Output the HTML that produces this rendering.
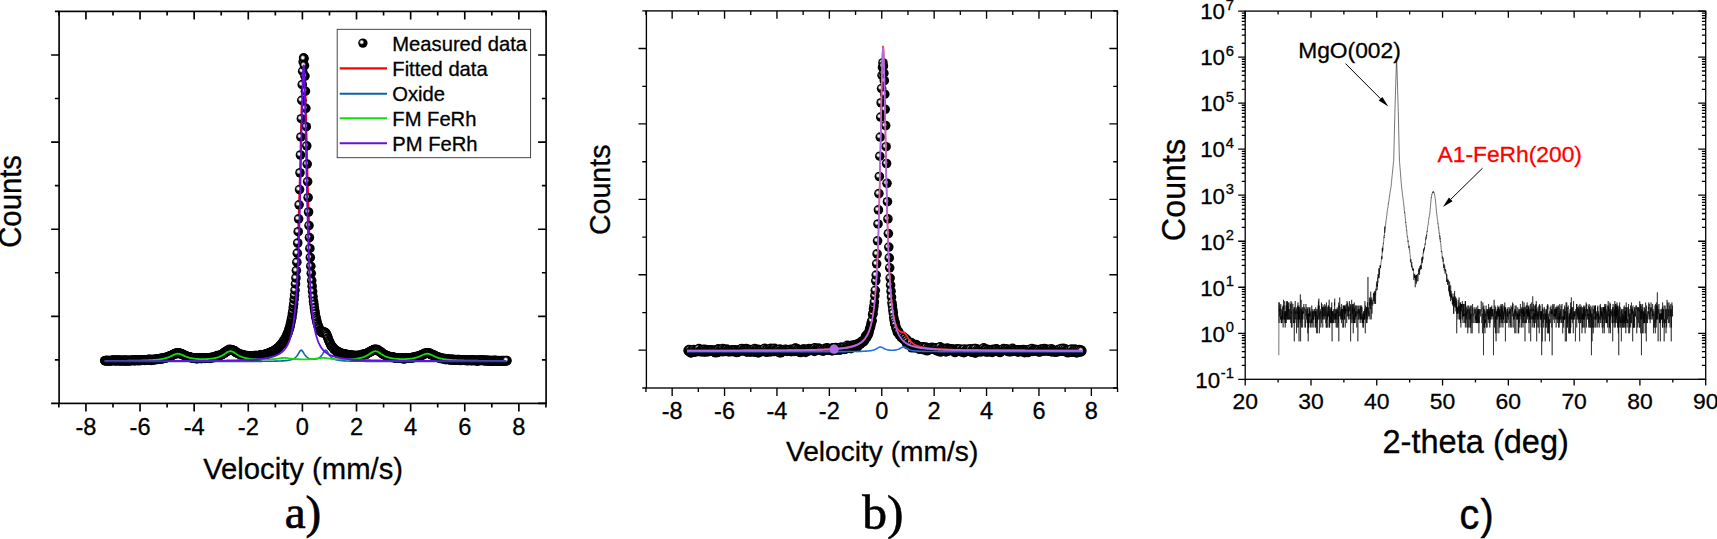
<!DOCTYPE html>
<html lang="en"><head><meta charset="utf-8"><title>Figure</title><style>html,body{margin:0;padding:0;background:#fff}svg{display:block}text{stroke:#000;stroke-width:.3px}text.r{stroke:#f00}</style></head><body>
<svg width="1717" height="539" viewBox="0 0 1717 539" font-family='"Liberation Sans", Arial, Helvetica, sans-serif' fill="#000">
<defs><radialGradient id="ball" cx="0.37" cy="0.40" r="0.275"><stop offset="0" stop-color="#fff"/><stop offset="0.38" stop-color="#efefef"/><stop offset="0.72" stop-color="#6e6e6e"/><stop offset="1" stop-color="#000"/></radialGradient></defs>
<rect width="1717" height="539" fill="#fff"/>
<path d="M104.7 360.73 L105.2 360.73 L105.7 360.73 L106.2 360.72 L106.7 360.72 L107.2 360.72 L107.7 360.71 L108.2 360.71 L108.7 360.71 L109.2 360.7 L109.7 360.7 L110.2 360.69 L110.7 360.69 L111.2 360.69 L111.7 360.68 L112.2 360.68 L112.7 360.67 L113.2 360.67 L113.7 360.66 L114.2 360.66 L114.7 360.66 L115.2 360.65 L115.7 360.65 L116.2 360.64 L116.7 360.64 L117.2 360.63 L117.7 360.63 L118.2 360.62 L118.7 360.62 L119.2 360.61 L119.7 360.61 L120.2 360.6 L120.7 360.59 L121.2 360.59 L121.7 360.58 L122.2 360.58 L122.7 360.57 L123.2 360.56 L123.7 360.56 L124.2 360.55 L124.7 360.55 L125.2 360.54 L125.7 360.53 L126.2 360.53 L126.7 360.52 L127.2 360.51 L127.7 360.5 L128.2 360.5 L128.7 360.49 L129.2 360.48 L129.7 360.47 L130.2 360.46 L130.7 360.46 L131.2 360.45 L131.7 360.44 L132.2 360.43 L132.7 360.42 L133.2 360.41 L133.7 360.4 L134.2 360.39 L134.7 360.38 L135.2 360.37 L135.7 360.36 L136.2 360.35 L136.7 360.34 L137.2 360.33 L137.7 360.31 L138.2 360.3 L138.7 360.29 L139.2 360.28 L139.7 360.26 L140.2 360.25 L140.7 360.23 L141.2 360.22 L141.7 360.2 L142.2 360.19 L142.7 360.17 L143.2 360.16 L143.7 360.14 L144.2 360.12 L144.7 360.1 L145.2 360.08 L145.7 360.06 L146.2 360.04 L146.7 360.02 L147.2 360 L147.7 359.98 L148.2 359.95 L148.7 359.93 L149.2 359.9 L149.7 359.87 L150.2 359.85 L150.7 359.82 L151.2 359.79 L151.7 359.76 L152.2 359.72 L152.7 359.69 L153.2 359.65 L153.7 359.61 L154.2 359.57 L154.7 359.53 L155.2 359.49 L155.7 359.44 L156.2 359.4 L156.7 359.34 L157.2 359.29 L157.7 359.24 L158.2 359.18 L158.7 359.11 L159.2 359.05 L159.7 358.98 L160.2 358.91 L160.7 358.83 L161.2 358.75 L161.7 358.66 L162.2 358.57 L162.7 358.47 L163.2 358.37 L163.7 358.26 L164.2 358.14 L164.7 358.02 L165.2 357.89 L165.7 357.75 L166.2 357.6 L166.7 357.44 L167.2 357.28 L167.7 357.1 L168.2 356.92 L168.7 356.72 L169.2 356.52 L169.7 356.31 L170.2 356.08 L170.7 355.85 L171.2 355.61 L171.7 355.37 L172.2 355.12 L172.7 354.88 L173.2 354.63 L173.7 354.39 L174.2 354.16 L174.7 353.95 L175.2 353.75 L175.7 353.58 L176.2 353.44 L176.7 353.33 L177.2 353.25 L177.7 353.22 L178.2 353.22 L178.7 353.26 L179.2 353.33 L179.7 353.44 L180.2 353.58 L180.7 353.75 L181.2 353.93 L181.7 354.14 L182.2 354.35 L182.7 354.57 L183.2 354.8 L183.7 355.03 L184.2 355.25 L184.7 355.47 L185.2 355.68 L185.7 355.89 L186.2 356.08 L186.7 356.27 L187.2 356.44 L187.7 356.61 L188.2 356.76 L188.7 356.91 L189.2 357.05 L189.7 357.17 L190.2 357.29 L190.7 357.4 L191.2 357.5 L191.7 357.6 L192.2 357.68 L192.7 357.76 L193.2 357.84 L193.7 357.9 L194.2 357.96 L194.7 358.02 L195.2 358.07 L195.7 358.12 L196.2 358.16 L196.7 358.19 L197.2 358.22 L197.7 358.25 L198.2 358.28 L198.7 358.3 L199.2 358.31 L199.7 358.33 L200.2 358.34 L200.7 358.34 L201.2 358.35 L201.7 358.35 L202.2 358.34 L202.7 358.34 L203.2 358.33 L203.7 358.31 L204.2 358.3 L204.7 358.28 L205.2 358.26 L205.7 358.23 L206.2 358.21 L206.7 358.18 L207.2 358.14 L207.7 358.1 L208.2 358.06 L208.7 358.01 L209.2 357.97 L209.7 357.91 L210.2 357.85 L210.7 357.79 L211.2 357.72 L211.7 357.65 L212.2 357.57 L212.7 357.49 L213.2 357.4 L213.7 357.31 L214.2 357.2 L214.7 357.09 L215.2 356.98 L215.7 356.85 L216.2 356.72 L216.7 356.57 L217.2 356.42 L217.7 356.26 L218.2 356.08 L218.7 355.89 L219.2 355.7 L219.7 355.48 L220.2 355.26 L220.7 355.01 L221.2 354.76 L221.7 354.49 L222.2 354.2 L222.7 353.9 L223.2 353.59 L223.7 353.27 L224.2 352.93 L224.7 352.59 L225.2 352.24 L225.7 351.89 L226.2 351.54 L226.7 351.21 L227.2 350.89 L227.7 350.6 L228.2 350.34 L228.7 350.12 L229.2 349.94 L229.7 349.81 L230.2 349.74 L230.7 349.73 L231.2 349.77 L231.7 349.87 L232.2 350.01 L232.7 350.2 L233.2 350.43 L233.7 350.69 L234.2 350.97 L234.7 351.27 L235.2 351.57 L235.7 351.88 L236.2 352.19 L236.7 352.49 L237.2 352.79 L237.7 353.07 L238.2 353.34 L238.7 353.59 L239.2 353.83 L239.7 354.06 L240.2 354.27 L240.7 354.46 L241.2 354.64 L241.7 354.81 L242.2 354.96 L242.7 355.1 L243.2 355.23 L243.7 355.35 L244.2 355.46 L244.7 355.55 L245.2 355.64 L245.7 355.71 L246.2 355.78 L246.7 355.84 L247.2 355.9 L247.7 355.94 L248.2 355.98 L248.7 356.01 L249.2 356.04 L249.7 356.06 L250.2 356.07 L250.7 356.08 L251.2 356.08 L251.7 356.08 L252.2 356.08 L252.7 356.07 L253.2 356.05 L253.7 356.03 L254.2 356.01 L254.7 355.98 L255.2 355.94 L255.7 355.91 L256.2 355.87 L256.7 355.82 L257.2 355.77 L257.7 355.72 L258.2 355.66 L258.7 355.6 L259.2 355.53 L259.7 355.46 L260.2 355.39 L260.7 355.31 L261.2 355.23 L261.7 355.14 L262.2 355.05 L262.7 354.95 L263.2 354.85 L263.7 354.74 L264.2 354.63 L264.7 354.51 L265.2 354.38 L265.7 354.25 L266.2 354.12 L266.7 353.97 L267.2 353.82 L267.7 353.66 L268.2 353.5 L268.7 353.33 L269.2 353.14 L269.7 352.95 L270.2 352.75 L270.7 352.54 L271.2 352.32 L271.7 352.09 L272.2 351.85 L272.7 351.59 L273.2 351.32 L273.7 351.04 L274.2 350.74 L274.7 350.43 L275.2 350.1 L275.7 349.76 L276.2 349.39 L276.7 349.01 L277.2 348.61 L277.7 348.19 L278.2 347.74 L278.7 347.28 L279.2 346.79 L279.7 346.28 L280.2 345.74 L280.7 345.18 L281.2 344.59 L281.7 343.98 L282.2 343.34 L282.7 342.67 L283.2 341.96 L283.7 341.22 L284.2 340.45 L284.7 339.63 L285.2 338.76 L285.7 337.83 L286.2 336.84 L286.7 335.77 L287.2 334.62 L287.7 333.37 L288.2 332.02 L288.7 330.54 L289.2 328.91 L289.7 327.13 L290.2 325.17 L290.7 323.01 L291.2 320.61 L291.7 317.96 L292.2 315 L292.7 311.71 L293.2 308.02 L293.7 303.89 L294.2 299.25 L294.7 294.02 L295.2 288.11 L295.7 281.42 L296.2 273.83 L296.7 265.21 L297.2 255.41 L297.7 244.3 L298.2 231.71 L298.7 217.53 L299.2 201.69 L299.7 184.21 L300.2 165.25 L300.7 145.18 L301.2 124.63 L301.7 104.57 L302.2 86.3 L302.7 71.36 L303.2 61.33 L303.7 57.46 L304.2 60.31 L304.7 69.57 L305.2 84.13 L305.7 102.41 L306.2 122.73 L306.7 143.65 L307.2 164.07 L307.7 183.29 L308.2 200.93 L308.7 216.85 L309.2 231.04 L309.7 243.6 L310.2 254.67 L310.7 264.41 L311.2 272.97 L311.7 280.49 L312.2 287.11 L312.7 292.95 L313.2 298.1 L313.7 302.66 L314.2 306.7 L314.7 310.28 L315.2 313.45 L315.7 316.28 L316.2 318.79 L316.7 321.02 L317.2 322.99 L317.7 324.74 L318.2 326.27 L318.7 327.61 L319.2 328.77 L319.7 329.75 L320.2 330.57 L320.7 331.23 L321.2 331.73 L321.7 332.09 L322.2 332.3 L322.7 332.39 L323.2 332.38 L323.7 332.32 L324.2 332.28 L324.7 332.34 L325.2 332.58 L325.7 333.07 L326.2 333.85 L326.7 334.87 L327.2 336.09 L327.7 337.42 L328.2 338.77 L328.7 340.1 L329.2 341.36 L329.7 342.52 L330.2 343.59 L330.7 344.56 L331.2 345.44 L331.7 346.23 L332.2 346.95 L332.7 347.6 L333.2 348.2 L333.7 348.74 L334.2 349.23 L334.7 349.69 L335.2 350.11 L335.7 350.5 L336.2 350.86 L336.7 351.19 L337.2 351.51 L337.7 351.8 L338.2 352.07 L338.7 352.32 L339.2 352.56 L339.7 352.79 L340.2 353 L340.7 353.2 L341.2 353.38 L341.7 353.56 L342.2 353.73 L342.7 353.89 L343.2 354.03 L343.7 354.17 L344.2 354.31 L344.7 354.43 L345.2 354.55 L345.7 354.66 L346.2 354.77 L346.7 354.87 L347.2 354.96 L347.7 355.05 L348.2 355.13 L348.7 355.2 L349.2 355.27 L349.7 355.34 L350.2 355.4 L350.7 355.45 L351.2 355.5 L351.7 355.55 L352.2 355.59 L352.7 355.62 L353.2 355.65 L353.7 355.67 L354.2 355.69 L354.7 355.71 L355.2 355.71 L355.7 355.71 L356.2 355.71 L356.7 355.7 L357.2 355.68 L357.7 355.66 L358.2 355.63 L358.7 355.59 L359.2 355.54 L359.7 355.49 L360.2 355.43 L360.7 355.36 L361.2 355.28 L361.7 355.19 L362.2 355.08 L362.7 354.97 L363.2 354.85 L363.7 354.71 L364.2 354.56 L364.7 354.4 L365.2 354.22 L365.7 354.02 L366.2 353.82 L366.7 353.59 L367.2 353.35 L367.7 353.1 L368.2 352.83 L368.7 352.55 L369.2 352.26 L369.7 351.96 L370.2 351.66 L370.7 351.35 L371.2 351.05 L371.7 350.76 L372.2 350.49 L372.7 350.24 L373.2 350.02 L373.7 349.84 L374.2 349.71 L374.7 349.62 L375.2 349.59 L375.7 349.62 L376.2 349.71 L376.7 349.85 L377.2 350.03 L377.7 350.27 L378.2 350.54 L378.7 350.84 L379.2 351.16 L379.7 351.5 L380.2 351.85 L380.7 352.2 L381.2 352.55 L381.7 352.89 L382.2 353.23 L382.7 353.55 L383.2 353.86 L383.7 354.16 L384.2 354.45 L384.7 354.71 L385.2 354.97 L385.7 355.21 L386.2 355.43 L386.7 355.64 L387.2 355.84 L387.7 356.03 L388.2 356.2 L388.7 356.36 L389.2 356.52 L389.7 356.66 L390.2 356.79 L390.7 356.92 L391.2 357.03 L391.7 357.14 L392.2 357.24 L392.7 357.34 L393.2 357.43 L393.7 357.51 L394.2 357.58 L394.7 357.66 L395.2 357.72 L395.7 357.78 L396.2 357.84 L396.7 357.89 L397.2 357.94 L397.7 357.99 L398.2 358.03 L398.7 358.06 L399.2 358.1 L399.7 358.13 L400.2 358.15 L400.7 358.18 L401.2 358.2 L401.7 358.21 L402.2 358.23 L402.7 358.24 L403.2 358.25 L403.7 358.25 L404.2 358.25 L404.7 358.25 L405.2 358.24 L405.7 358.23 L406.2 358.22 L406.7 358.2 L407.2 358.18 L407.7 358.16 L408.2 358.13 L408.7 358.1 L409.2 358.06 L409.7 358.02 L410.2 357.97 L410.7 357.92 L411.2 357.86 L411.7 357.8 L412.2 357.73 L412.7 357.65 L413.2 357.57 L413.7 357.48 L414.2 357.38 L414.7 357.28 L415.2 357.16 L415.7 357.04 L416.2 356.91 L416.7 356.77 L417.2 356.62 L417.7 356.46 L418.2 356.29 L418.7 356.11 L419.2 355.91 L419.7 355.71 L420.2 355.51 L420.7 355.29 L421.2 355.07 L421.7 354.84 L422.2 354.62 L422.7 354.4 L423.2 354.18 L423.7 353.97 L424.2 353.78 L424.7 353.6 L425.2 353.45 L425.7 353.33 L426.2 353.24 L426.7 353.19 L427.2 353.17 L427.7 353.2 L428.2 353.26 L428.7 353.35 L429.2 353.48 L429.7 353.65 L430.2 353.83 L430.7 354.04 L431.2 354.26 L431.7 354.5 L432.2 354.74 L432.7 354.99 L433.2 355.24 L433.7 355.48 L434.2 355.73 L434.7 355.96 L435.2 356.19 L435.7 356.4 L436.2 356.61 L436.7 356.81 L437.2 357 L437.7 357.18 L438.2 357.35 L438.7 357.51 L439.2 357.66 L439.7 357.8 L440.2 357.94 L440.7 358.07 L441.2 358.19 L441.7 358.3 L442.2 358.4 L442.7 358.5 L443.2 358.6 L443.7 358.69 L444.2 358.77 L444.7 358.85 L445.2 358.93 L445.7 359 L446.2 359.07 L446.7 359.13 L447.2 359.19 L447.7 359.25 L448.2 359.3 L448.7 359.35 L449.2 359.4 L449.7 359.45 L450.2 359.49 L450.7 359.54 L451.2 359.58 L451.7 359.62 L452.2 359.65 L452.7 359.69 L453.2 359.72 L453.7 359.75 L454.2 359.79 L454.7 359.82 L455.2 359.84 L455.7 359.87 L456.2 359.9 L456.7 359.92 L457.2 359.95 L457.7 359.97 L458.2 359.99 L458.7 360.02 L459.2 360.04 L459.7 360.06 L460.2 360.08 L460.7 360.1 L461.2 360.11 L461.7 360.13 L462.2 360.15 L462.7 360.17 L463.2 360.18 L463.7 360.2 L464.2 360.21 L464.7 360.23 L465.2 360.24 L465.7 360.25 L466.2 360.27 L466.7 360.28 L467.2 360.29 L467.7 360.31 L468.2 360.32 L468.7 360.33 L469.2 360.34 L469.7 360.35 L470.2 360.36 L470.7 360.37 L471.2 360.38 L471.7 360.39 L472.2 360.4 L472.7 360.41 L473.2 360.42 L473.7 360.43 L474.2 360.44 L474.7 360.45 L475.2 360.46 L475.7 360.46 L476.2 360.47 L476.7 360.48 L477.2 360.49 L477.7 360.5 L478.2 360.5 L478.7 360.51 L479.2 360.52 L479.7 360.52 L480.2 360.53 L480.7 360.54 L481.2 360.54 L481.7 360.55 L482.2 360.56 L482.7 360.56 L483.2 360.57 L483.7 360.58 L484.2 360.58 L484.7 360.59 L485.2 360.59 L485.7 360.6 L486.2 360.6 L486.7 360.61 L487.2 360.61 L487.7 360.62 L488.2 360.62 L488.7 360.63 L489.2 360.63 L489.7 360.64 L490.2 360.64 L490.7 360.65 L491.2 360.65 L491.7 360.66 L492.2 360.66 L492.7 360.67 L493.2 360.67 L493.7 360.67 L494.2 360.68 L494.7 360.68 L495.2 360.69 L495.7 360.69 L496.2 360.69 L496.7 360.7 L497.2 360.7 L497.7 360.71 L498.2 360.71 L498.7 360.71 L499.2 360.72 L499.7 360.72 L500.2 360.72 L500.7 360.73 L501.2 360.73 L501.7 360.73 L502.2 360.74 L502.7 360.74 L503.2 360.74 L503.7 360.75 L504.2 360.75 L504.7 360.75 L505.2 360.76 L505.7 360.76 L506.2 360.76" fill="none" stroke="#ff0000" stroke-width="2"/>
<g>
<circle cx="104.7" cy="360.73" r="4.8" fill="url(#ball)"/><circle cx="105.15" cy="360.81" r="4.8" fill="url(#ball)"/><circle cx="105.6" cy="360.66" r="4.8" fill="url(#ball)"/><circle cx="106.05" cy="360.5" r="4.8" fill="url(#ball)"/><circle cx="106.5" cy="360.61" r="4.8" fill="url(#ball)"/><circle cx="106.95" cy="360.47" r="4.8" fill="url(#ball)"/><circle cx="107.4" cy="360.73" r="4.8" fill="url(#ball)"/><circle cx="107.85" cy="361.05" r="4.8" fill="url(#ball)"/><circle cx="108.3" cy="360.59" r="4.8" fill="url(#ball)"/><circle cx="108.75" cy="360.55" r="4.8" fill="url(#ball)"/><circle cx="109.2" cy="360.82" r="4.8" fill="url(#ball)"/><circle cx="109.65" cy="360.79" r="4.8" fill="url(#ball)"/><circle cx="110.1" cy="360.72" r="4.8" fill="url(#ball)"/><circle cx="110.55" cy="360.46" r="4.8" fill="url(#ball)"/><circle cx="111" cy="360.68" r="4.8" fill="url(#ball)"/><circle cx="111.45" cy="360.86" r="4.8" fill="url(#ball)"/><circle cx="111.9" cy="360.34" r="4.8" fill="url(#ball)"/><circle cx="112.35" cy="360.56" r="4.8" fill="url(#ball)"/><circle cx="112.8" cy="360.2" r="4.8" fill="url(#ball)"/><circle cx="113.25" cy="360.35" r="4.8" fill="url(#ball)"/><circle cx="113.7" cy="360.2" r="4.8" fill="url(#ball)"/><circle cx="114.15" cy="360.6" r="4.8" fill="url(#ball)"/><circle cx="114.6" cy="360.34" r="4.8" fill="url(#ball)"/><circle cx="115.05" cy="360.72" r="4.8" fill="url(#ball)"/><circle cx="115.5" cy="360.69" r="4.8" fill="url(#ball)"/><circle cx="115.95" cy="360.6" r="4.8" fill="url(#ball)"/><circle cx="116.4" cy="360.01" r="4.8" fill="url(#ball)"/><circle cx="116.85" cy="360.5" r="4.8" fill="url(#ball)"/><circle cx="117.3" cy="360.62" r="4.8" fill="url(#ball)"/><circle cx="117.75" cy="360.65" r="4.8" fill="url(#ball)"/><circle cx="118.2" cy="360.24" r="4.8" fill="url(#ball)"/><circle cx="118.65" cy="360.5" r="4.8" fill="url(#ball)"/><circle cx="119.1" cy="360.37" r="4.8" fill="url(#ball)"/><circle cx="119.55" cy="360.4" r="4.8" fill="url(#ball)"/><circle cx="120" cy="360.87" r="4.8" fill="url(#ball)"/><circle cx="120.45" cy="360.4" r="4.8" fill="url(#ball)"/><circle cx="120.9" cy="360.58" r="4.8" fill="url(#ball)"/><circle cx="121.35" cy="360.81" r="4.8" fill="url(#ball)"/><circle cx="121.8" cy="360.44" r="4.8" fill="url(#ball)"/><circle cx="122.25" cy="360.55" r="4.8" fill="url(#ball)"/><circle cx="122.7" cy="360.6" r="4.8" fill="url(#ball)"/><circle cx="123.15" cy="360.58" r="4.8" fill="url(#ball)"/><circle cx="123.6" cy="360.25" r="4.8" fill="url(#ball)"/><circle cx="124.05" cy="360.57" r="4.8" fill="url(#ball)"/><circle cx="124.5" cy="360.89" r="4.8" fill="url(#ball)"/><circle cx="124.95" cy="360.16" r="4.8" fill="url(#ball)"/><circle cx="125.4" cy="360.75" r="4.8" fill="url(#ball)"/><circle cx="125.85" cy="360.56" r="4.8" fill="url(#ball)"/><circle cx="126.3" cy="360.36" r="4.8" fill="url(#ball)"/><circle cx="126.75" cy="361.02" r="4.8" fill="url(#ball)"/><circle cx="127.2" cy="360.7" r="4.8" fill="url(#ball)"/><circle cx="127.65" cy="360.2" r="4.8" fill="url(#ball)"/><circle cx="128.1" cy="360.52" r="4.8" fill="url(#ball)"/><circle cx="128.55" cy="360.64" r="4.8" fill="url(#ball)"/><circle cx="129" cy="360.44" r="4.8" fill="url(#ball)"/><circle cx="129.45" cy="360.65" r="4.8" fill="url(#ball)"/><circle cx="129.9" cy="360.45" r="4.8" fill="url(#ball)"/><circle cx="130.35" cy="360.63" r="4.8" fill="url(#ball)"/><circle cx="130.8" cy="360.81" r="4.8" fill="url(#ball)"/><circle cx="131.25" cy="360.28" r="4.8" fill="url(#ball)"/><circle cx="131.7" cy="360.49" r="4.8" fill="url(#ball)"/><circle cx="132.15" cy="360.31" r="4.8" fill="url(#ball)"/><circle cx="132.6" cy="360.45" r="4.8" fill="url(#ball)"/><circle cx="133.05" cy="360.12" r="4.8" fill="url(#ball)"/><circle cx="133.5" cy="360.26" r="4.8" fill="url(#ball)"/><circle cx="133.95" cy="360.35" r="4.8" fill="url(#ball)"/><circle cx="134.4" cy="360.61" r="4.8" fill="url(#ball)"/><circle cx="134.85" cy="360.66" r="4.8" fill="url(#ball)"/><circle cx="135.3" cy="360.04" r="4.8" fill="url(#ball)"/><circle cx="135.75" cy="360.16" r="4.8" fill="url(#ball)"/><circle cx="136.2" cy="360.51" r="4.8" fill="url(#ball)"/><circle cx="136.65" cy="359.84" r="4.8" fill="url(#ball)"/><circle cx="137.1" cy="360.21" r="4.8" fill="url(#ball)"/><circle cx="137.55" cy="360.29" r="4.8" fill="url(#ball)"/><circle cx="138" cy="360.62" r="4.8" fill="url(#ball)"/><circle cx="138.45" cy="360.47" r="4.8" fill="url(#ball)"/><circle cx="138.9" cy="360.2" r="4.8" fill="url(#ball)"/><circle cx="139.35" cy="360.18" r="4.8" fill="url(#ball)"/><circle cx="139.8" cy="360.2" r="4.8" fill="url(#ball)"/><circle cx="140.25" cy="360.63" r="4.8" fill="url(#ball)"/><circle cx="140.7" cy="360.13" r="4.8" fill="url(#ball)"/><circle cx="141.15" cy="360.14" r="4.8" fill="url(#ball)"/><circle cx="141.6" cy="360.3" r="4.8" fill="url(#ball)"/><circle cx="142.05" cy="360.16" r="4.8" fill="url(#ball)"/><circle cx="142.5" cy="360.13" r="4.8" fill="url(#ball)"/><circle cx="142.95" cy="359.89" r="4.8" fill="url(#ball)"/><circle cx="143.4" cy="360.15" r="4.8" fill="url(#ball)"/><circle cx="143.85" cy="360.02" r="4.8" fill="url(#ball)"/><circle cx="144.3" cy="360.41" r="4.8" fill="url(#ball)"/><circle cx="144.75" cy="360.26" r="4.8" fill="url(#ball)"/><circle cx="145.2" cy="360.08" r="4.8" fill="url(#ball)"/><circle cx="145.65" cy="360.23" r="4.8" fill="url(#ball)"/><circle cx="146.1" cy="359.96" r="4.8" fill="url(#ball)"/><circle cx="146.55" cy="360.29" r="4.8" fill="url(#ball)"/><circle cx="147" cy="360.01" r="4.8" fill="url(#ball)"/><circle cx="147.45" cy="360.13" r="4.8" fill="url(#ball)"/><circle cx="147.9" cy="359.64" r="4.8" fill="url(#ball)"/><circle cx="148.35" cy="360.03" r="4.8" fill="url(#ball)"/><circle cx="148.8" cy="359.5" r="4.8" fill="url(#ball)"/><circle cx="149.25" cy="359.39" r="4.8" fill="url(#ball)"/><circle cx="149.7" cy="359.8" r="4.8" fill="url(#ball)"/><circle cx="150.15" cy="359.62" r="4.8" fill="url(#ball)"/><circle cx="150.6" cy="359.86" r="4.8" fill="url(#ball)"/><circle cx="151.05" cy="360.36" r="4.8" fill="url(#ball)"/><circle cx="151.5" cy="359.56" r="4.8" fill="url(#ball)"/><circle cx="151.95" cy="359.58" r="4.8" fill="url(#ball)"/><circle cx="152.4" cy="359.76" r="4.8" fill="url(#ball)"/><circle cx="152.85" cy="359.8" r="4.8" fill="url(#ball)"/><circle cx="153.3" cy="359.6" r="4.8" fill="url(#ball)"/><circle cx="153.75" cy="359.56" r="4.8" fill="url(#ball)"/><circle cx="154.2" cy="359.75" r="4.8" fill="url(#ball)"/><circle cx="154.65" cy="359.67" r="4.8" fill="url(#ball)"/><circle cx="155.1" cy="359.24" r="4.8" fill="url(#ball)"/><circle cx="155.55" cy="359.44" r="4.8" fill="url(#ball)"/><circle cx="156" cy="359.42" r="4.8" fill="url(#ball)"/><circle cx="156.45" cy="359.11" r="4.8" fill="url(#ball)"/><circle cx="156.9" cy="359.39" r="4.8" fill="url(#ball)"/><circle cx="157.35" cy="359.06" r="4.8" fill="url(#ball)"/><circle cx="157.8" cy="359.47" r="4.8" fill="url(#ball)"/><circle cx="158.25" cy="359.22" r="4.8" fill="url(#ball)"/><circle cx="158.7" cy="359.14" r="4.8" fill="url(#ball)"/><circle cx="159.15" cy="358.91" r="4.8" fill="url(#ball)"/><circle cx="159.6" cy="358.96" r="4.8" fill="url(#ball)"/><circle cx="160.05" cy="358.43" r="4.8" fill="url(#ball)"/><circle cx="160.5" cy="358.58" r="4.8" fill="url(#ball)"/><circle cx="160.95" cy="358.88" r="4.8" fill="url(#ball)"/><circle cx="161.4" cy="358.18" r="4.8" fill="url(#ball)"/><circle cx="161.85" cy="358.84" r="4.8" fill="url(#ball)"/><circle cx="162.3" cy="358.11" r="4.8" fill="url(#ball)"/><circle cx="162.75" cy="358.65" r="4.8" fill="url(#ball)"/><circle cx="163.2" cy="358.16" r="4.8" fill="url(#ball)"/><circle cx="163.65" cy="358.46" r="4.8" fill="url(#ball)"/><circle cx="164.1" cy="358.2" r="4.8" fill="url(#ball)"/><circle cx="164.55" cy="357.67" r="4.8" fill="url(#ball)"/><circle cx="165" cy="358.25" r="4.8" fill="url(#ball)"/><circle cx="165.45" cy="358.18" r="4.8" fill="url(#ball)"/><circle cx="165.9" cy="357.67" r="4.8" fill="url(#ball)"/><circle cx="166.35" cy="357.49" r="4.8" fill="url(#ball)"/><circle cx="166.8" cy="357.37" r="4.8" fill="url(#ball)"/><circle cx="167.25" cy="357.02" r="4.8" fill="url(#ball)"/><circle cx="167.7" cy="357.38" r="4.8" fill="url(#ball)"/><circle cx="168.15" cy="356.8" r="4.8" fill="url(#ball)"/><circle cx="168.6" cy="356.75" r="4.8" fill="url(#ball)"/><circle cx="169.05" cy="356.38" r="4.8" fill="url(#ball)"/><circle cx="169.5" cy="356.24" r="4.8" fill="url(#ball)"/><circle cx="169.95" cy="355.88" r="4.8" fill="url(#ball)"/><circle cx="170.4" cy="356.31" r="4.8" fill="url(#ball)"/><circle cx="170.85" cy="355.74" r="4.8" fill="url(#ball)"/><circle cx="171.3" cy="355.81" r="4.8" fill="url(#ball)"/><circle cx="171.75" cy="355.35" r="4.8" fill="url(#ball)"/><circle cx="172.2" cy="354.95" r="4.8" fill="url(#ball)"/><circle cx="172.65" cy="354.82" r="4.8" fill="url(#ball)"/><circle cx="173.1" cy="354.54" r="4.8" fill="url(#ball)"/><circle cx="173.55" cy="354.46" r="4.8" fill="url(#ball)"/><circle cx="174" cy="354.16" r="4.8" fill="url(#ball)"/><circle cx="174.45" cy="353.98" r="4.8" fill="url(#ball)"/><circle cx="174.9" cy="353.52" r="4.8" fill="url(#ball)"/><circle cx="175.35" cy="353.5" r="4.8" fill="url(#ball)"/><circle cx="175.8" cy="353.96" r="4.8" fill="url(#ball)"/><circle cx="176.25" cy="353.26" r="4.8" fill="url(#ball)"/><circle cx="176.7" cy="353.07" r="4.8" fill="url(#ball)"/><circle cx="177.15" cy="353.34" r="4.8" fill="url(#ball)"/><circle cx="177.6" cy="353.57" r="4.8" fill="url(#ball)"/><circle cx="178.05" cy="352.85" r="4.8" fill="url(#ball)"/><circle cx="178.5" cy="353.19" r="4.8" fill="url(#ball)"/><circle cx="178.95" cy="353.13" r="4.8" fill="url(#ball)"/><circle cx="179.4" cy="352.93" r="4.8" fill="url(#ball)"/><circle cx="179.85" cy="353.67" r="4.8" fill="url(#ball)"/><circle cx="180.3" cy="353.61" r="4.8" fill="url(#ball)"/><circle cx="180.75" cy="353.78" r="4.8" fill="url(#ball)"/><circle cx="181.2" cy="353.75" r="4.8" fill="url(#ball)"/><circle cx="181.65" cy="354.23" r="4.8" fill="url(#ball)"/><circle cx="182.1" cy="354.17" r="4.8" fill="url(#ball)"/><circle cx="182.55" cy="354.47" r="4.8" fill="url(#ball)"/><circle cx="183" cy="354.43" r="4.8" fill="url(#ball)"/><circle cx="183.45" cy="354.61" r="4.8" fill="url(#ball)"/><circle cx="183.9" cy="355.45" r="4.8" fill="url(#ball)"/><circle cx="184.35" cy="355.19" r="4.8" fill="url(#ball)"/><circle cx="184.8" cy="355.58" r="4.8" fill="url(#ball)"/><circle cx="185.25" cy="355.69" r="4.8" fill="url(#ball)"/><circle cx="185.7" cy="355.78" r="4.8" fill="url(#ball)"/><circle cx="186.15" cy="355.93" r="4.8" fill="url(#ball)"/><circle cx="186.6" cy="356.39" r="4.8" fill="url(#ball)"/><circle cx="187.05" cy="356.32" r="4.8" fill="url(#ball)"/><circle cx="187.5" cy="356.51" r="4.8" fill="url(#ball)"/><circle cx="187.95" cy="356.69" r="4.8" fill="url(#ball)"/><circle cx="188.4" cy="357.12" r="4.8" fill="url(#ball)"/><circle cx="188.85" cy="357.12" r="4.8" fill="url(#ball)"/><circle cx="189.3" cy="357.17" r="4.8" fill="url(#ball)"/><circle cx="189.75" cy="357.05" r="4.8" fill="url(#ball)"/><circle cx="190.2" cy="356.95" r="4.8" fill="url(#ball)"/><circle cx="190.65" cy="357.63" r="4.8" fill="url(#ball)"/><circle cx="191.1" cy="357.73" r="4.8" fill="url(#ball)"/><circle cx="191.55" cy="357.53" r="4.8" fill="url(#ball)"/><circle cx="192" cy="357.79" r="4.8" fill="url(#ball)"/><circle cx="192.45" cy="357.92" r="4.8" fill="url(#ball)"/><circle cx="192.9" cy="358" r="4.8" fill="url(#ball)"/><circle cx="193.35" cy="358.09" r="4.8" fill="url(#ball)"/><circle cx="193.8" cy="357.8" r="4.8" fill="url(#ball)"/><circle cx="194.25" cy="358.35" r="4.8" fill="url(#ball)"/><circle cx="194.7" cy="357.71" r="4.8" fill="url(#ball)"/><circle cx="195.15" cy="358.28" r="4.8" fill="url(#ball)"/><circle cx="195.6" cy="358.23" r="4.8" fill="url(#ball)"/><circle cx="196.05" cy="358.36" r="4.8" fill="url(#ball)"/><circle cx="196.5" cy="358.65" r="4.8" fill="url(#ball)"/><circle cx="196.95" cy="358.58" r="4.8" fill="url(#ball)"/><circle cx="197.4" cy="357.95" r="4.8" fill="url(#ball)"/><circle cx="197.85" cy="357.84" r="4.8" fill="url(#ball)"/><circle cx="198.3" cy="358.48" r="4.8" fill="url(#ball)"/><circle cx="198.75" cy="358.04" r="4.8" fill="url(#ball)"/><circle cx="199.2" cy="358.31" r="4.8" fill="url(#ball)"/><circle cx="199.65" cy="358.54" r="4.8" fill="url(#ball)"/><circle cx="200.1" cy="357.92" r="4.8" fill="url(#ball)"/><circle cx="200.55" cy="357.81" r="4.8" fill="url(#ball)"/><circle cx="201" cy="358.41" r="4.8" fill="url(#ball)"/><circle cx="201.45" cy="358.36" r="4.8" fill="url(#ball)"/><circle cx="201.9" cy="358.28" r="4.8" fill="url(#ball)"/><circle cx="202.35" cy="358.35" r="4.8" fill="url(#ball)"/><circle cx="202.8" cy="358.12" r="4.8" fill="url(#ball)"/><circle cx="203.25" cy="357.95" r="4.8" fill="url(#ball)"/><circle cx="203.7" cy="358.27" r="4.8" fill="url(#ball)"/><circle cx="204.15" cy="358.06" r="4.8" fill="url(#ball)"/><circle cx="204.6" cy="357.87" r="4.8" fill="url(#ball)"/><circle cx="205.05" cy="358.39" r="4.8" fill="url(#ball)"/><circle cx="205.5" cy="358.23" r="4.8" fill="url(#ball)"/><circle cx="205.95" cy="358.32" r="4.8" fill="url(#ball)"/><circle cx="206.4" cy="357.95" r="4.8" fill="url(#ball)"/><circle cx="206.85" cy="358" r="4.8" fill="url(#ball)"/><circle cx="207.3" cy="357.88" r="4.8" fill="url(#ball)"/><circle cx="207.75" cy="357.88" r="4.8" fill="url(#ball)"/><circle cx="208.2" cy="358.11" r="4.8" fill="url(#ball)"/><circle cx="208.65" cy="357.82" r="4.8" fill="url(#ball)"/><circle cx="209.1" cy="358.06" r="4.8" fill="url(#ball)"/><circle cx="209.55" cy="358.01" r="4.8" fill="url(#ball)"/><circle cx="210" cy="358.38" r="4.8" fill="url(#ball)"/><circle cx="210.45" cy="357.47" r="4.8" fill="url(#ball)"/><circle cx="210.9" cy="357.99" r="4.8" fill="url(#ball)"/><circle cx="211.35" cy="357.68" r="4.8" fill="url(#ball)"/><circle cx="211.8" cy="357.63" r="4.8" fill="url(#ball)"/><circle cx="212.25" cy="357.2" r="4.8" fill="url(#ball)"/><circle cx="212.7" cy="357.38" r="4.8" fill="url(#ball)"/><circle cx="213.15" cy="357.6" r="4.8" fill="url(#ball)"/><circle cx="213.6" cy="357.31" r="4.8" fill="url(#ball)"/><circle cx="214.05" cy="357.26" r="4.8" fill="url(#ball)"/><circle cx="214.5" cy="357.07" r="4.8" fill="url(#ball)"/><circle cx="214.95" cy="357.33" r="4.8" fill="url(#ball)"/><circle cx="215.4" cy="356.92" r="4.8" fill="url(#ball)"/><circle cx="215.85" cy="356.26" r="4.8" fill="url(#ball)"/><circle cx="216.3" cy="356.52" r="4.8" fill="url(#ball)"/><circle cx="216.75" cy="356.07" r="4.8" fill="url(#ball)"/><circle cx="217.2" cy="355.61" r="4.8" fill="url(#ball)"/><circle cx="217.65" cy="356.14" r="4.8" fill="url(#ball)"/><circle cx="218.1" cy="356.45" r="4.8" fill="url(#ball)"/><circle cx="218.55" cy="355.96" r="4.8" fill="url(#ball)"/><circle cx="219" cy="355.48" r="4.8" fill="url(#ball)"/><circle cx="219.45" cy="355.36" r="4.8" fill="url(#ball)"/><circle cx="219.9" cy="355.68" r="4.8" fill="url(#ball)"/><circle cx="220.35" cy="355.22" r="4.8" fill="url(#ball)"/><circle cx="220.8" cy="354.98" r="4.8" fill="url(#ball)"/><circle cx="221.25" cy="354.72" r="4.8" fill="url(#ball)"/><circle cx="221.7" cy="354.5" r="4.8" fill="url(#ball)"/><circle cx="222.15" cy="354.43" r="4.8" fill="url(#ball)"/><circle cx="222.6" cy="354.1" r="4.8" fill="url(#ball)"/><circle cx="223.05" cy="353.74" r="4.8" fill="url(#ball)"/><circle cx="223.5" cy="353.14" r="4.8" fill="url(#ball)"/><circle cx="223.95" cy="353.23" r="4.8" fill="url(#ball)"/><circle cx="224.4" cy="352.62" r="4.8" fill="url(#ball)"/><circle cx="224.85" cy="352.75" r="4.8" fill="url(#ball)"/><circle cx="225.3" cy="351.85" r="4.8" fill="url(#ball)"/><circle cx="225.75" cy="351.82" r="4.8" fill="url(#ball)"/><circle cx="226.2" cy="351.54" r="4.8" fill="url(#ball)"/><circle cx="226.65" cy="350.91" r="4.8" fill="url(#ball)"/><circle cx="227.1" cy="351.38" r="4.8" fill="url(#ball)"/><circle cx="227.55" cy="351.05" r="4.8" fill="url(#ball)"/><circle cx="228" cy="350.32" r="4.8" fill="url(#ball)"/><circle cx="228.45" cy="350.41" r="4.8" fill="url(#ball)"/><circle cx="228.9" cy="350.13" r="4.8" fill="url(#ball)"/><circle cx="229.35" cy="349.24" r="4.8" fill="url(#ball)"/><circle cx="229.8" cy="349.86" r="4.8" fill="url(#ball)"/><circle cx="230.25" cy="349.72" r="4.8" fill="url(#ball)"/><circle cx="230.7" cy="349.75" r="4.8" fill="url(#ball)"/><circle cx="231.15" cy="349.5" r="4.8" fill="url(#ball)"/><circle cx="231.6" cy="349.78" r="4.8" fill="url(#ball)"/><circle cx="232.05" cy="349.92" r="4.8" fill="url(#ball)"/><circle cx="232.5" cy="350.42" r="4.8" fill="url(#ball)"/><circle cx="232.95" cy="350.4" r="4.8" fill="url(#ball)"/><circle cx="233.4" cy="350.53" r="4.8" fill="url(#ball)"/><circle cx="233.85" cy="351.15" r="4.8" fill="url(#ball)"/><circle cx="234.3" cy="350.89" r="4.8" fill="url(#ball)"/><circle cx="234.75" cy="351.2" r="4.8" fill="url(#ball)"/><circle cx="235.2" cy="351.12" r="4.8" fill="url(#ball)"/><circle cx="235.65" cy="352.24" r="4.8" fill="url(#ball)"/><circle cx="236.1" cy="352.37" r="4.8" fill="url(#ball)"/><circle cx="236.55" cy="352.63" r="4.8" fill="url(#ball)"/><circle cx="237" cy="352.84" r="4.8" fill="url(#ball)"/><circle cx="237.45" cy="352.96" r="4.8" fill="url(#ball)"/><circle cx="237.9" cy="353.23" r="4.8" fill="url(#ball)"/><circle cx="238.35" cy="353.35" r="4.8" fill="url(#ball)"/><circle cx="238.8" cy="353.59" r="4.8" fill="url(#ball)"/><circle cx="239.25" cy="353.87" r="4.8" fill="url(#ball)"/><circle cx="239.7" cy="354.44" r="4.8" fill="url(#ball)"/><circle cx="240.15" cy="354.39" r="4.8" fill="url(#ball)"/><circle cx="240.6" cy="354.41" r="4.8" fill="url(#ball)"/><circle cx="241.05" cy="354.45" r="4.8" fill="url(#ball)"/><circle cx="241.5" cy="354.59" r="4.8" fill="url(#ball)"/><circle cx="241.95" cy="355.29" r="4.8" fill="url(#ball)"/><circle cx="242.4" cy="355.15" r="4.8" fill="url(#ball)"/><circle cx="242.85" cy="355.16" r="4.8" fill="url(#ball)"/><circle cx="243.3" cy="355.17" r="4.8" fill="url(#ball)"/><circle cx="243.75" cy="355.08" r="4.8" fill="url(#ball)"/><circle cx="244.2" cy="355.44" r="4.8" fill="url(#ball)"/><circle cx="244.65" cy="355.76" r="4.8" fill="url(#ball)"/><circle cx="245.1" cy="355.52" r="4.8" fill="url(#ball)"/><circle cx="245.55" cy="355.64" r="4.8" fill="url(#ball)"/><circle cx="246" cy="355.7" r="4.8" fill="url(#ball)"/><circle cx="246.45" cy="355.84" r="4.8" fill="url(#ball)"/><circle cx="246.9" cy="355.47" r="4.8" fill="url(#ball)"/><circle cx="247.35" cy="355.85" r="4.8" fill="url(#ball)"/><circle cx="247.8" cy="355.74" r="4.8" fill="url(#ball)"/><circle cx="248.25" cy="356.2" r="4.8" fill="url(#ball)"/><circle cx="248.7" cy="355.82" r="4.8" fill="url(#ball)"/><circle cx="249.15" cy="356.18" r="4.8" fill="url(#ball)"/><circle cx="249.6" cy="356.43" r="4.8" fill="url(#ball)"/><circle cx="250.05" cy="355.99" r="4.8" fill="url(#ball)"/><circle cx="250.5" cy="355.93" r="4.8" fill="url(#ball)"/><circle cx="250.95" cy="356.13" r="4.8" fill="url(#ball)"/><circle cx="251.4" cy="356.08" r="4.8" fill="url(#ball)"/><circle cx="251.85" cy="355.83" r="4.8" fill="url(#ball)"/><circle cx="252.3" cy="356.19" r="4.8" fill="url(#ball)"/><circle cx="252.75" cy="356.57" r="4.8" fill="url(#ball)"/><circle cx="253.2" cy="355.99" r="4.8" fill="url(#ball)"/><circle cx="253.65" cy="355.98" r="4.8" fill="url(#ball)"/><circle cx="254.1" cy="355.75" r="4.8" fill="url(#ball)"/><circle cx="254.55" cy="356.07" r="4.8" fill="url(#ball)"/><circle cx="255" cy="355.65" r="4.8" fill="url(#ball)"/><circle cx="255.45" cy="355.65" r="4.8" fill="url(#ball)"/><circle cx="255.9" cy="356.21" r="4.8" fill="url(#ball)"/><circle cx="256.35" cy="355.63" r="4.8" fill="url(#ball)"/><circle cx="256.8" cy="356.08" r="4.8" fill="url(#ball)"/><circle cx="257.25" cy="356.15" r="4.8" fill="url(#ball)"/><circle cx="257.7" cy="355.78" r="4.8" fill="url(#ball)"/><circle cx="258.15" cy="355.81" r="4.8" fill="url(#ball)"/><circle cx="258.6" cy="356.1" r="4.8" fill="url(#ball)"/><circle cx="259.05" cy="355.51" r="4.8" fill="url(#ball)"/><circle cx="259.5" cy="355.35" r="4.8" fill="url(#ball)"/><circle cx="259.95" cy="355.09" r="4.8" fill="url(#ball)"/><circle cx="260.4" cy="355.37" r="4.8" fill="url(#ball)"/><circle cx="260.85" cy="355.66" r="4.8" fill="url(#ball)"/><circle cx="261.3" cy="355.45" r="4.8" fill="url(#ball)"/><circle cx="261.75" cy="354.9" r="4.8" fill="url(#ball)"/><circle cx="262.2" cy="354.83" r="4.8" fill="url(#ball)"/><circle cx="262.65" cy="354.83" r="4.8" fill="url(#ball)"/><circle cx="263.1" cy="354.94" r="4.8" fill="url(#ball)"/><circle cx="263.55" cy="354.72" r="4.8" fill="url(#ball)"/><circle cx="264" cy="354.73" r="4.8" fill="url(#ball)"/><circle cx="264.45" cy="354.64" r="4.8" fill="url(#ball)"/><circle cx="264.9" cy="354.38" r="4.8" fill="url(#ball)"/><circle cx="265.35" cy="354.34" r="4.8" fill="url(#ball)"/><circle cx="265.8" cy="354.28" r="4.8" fill="url(#ball)"/><circle cx="266.25" cy="354.08" r="4.8" fill="url(#ball)"/><circle cx="266.7" cy="354.1" r="4.8" fill="url(#ball)"/><circle cx="267.15" cy="354.3" r="4.8" fill="url(#ball)"/><circle cx="267.6" cy="353.84" r="4.8" fill="url(#ball)"/><circle cx="268.05" cy="353.56" r="4.8" fill="url(#ball)"/><circle cx="268.5" cy="352.97" r="4.8" fill="url(#ball)"/><circle cx="268.95" cy="353.33" r="4.8" fill="url(#ball)"/><circle cx="269.4" cy="352.58" r="4.8" fill="url(#ball)"/><circle cx="269.85" cy="352.54" r="4.8" fill="url(#ball)"/><circle cx="270.3" cy="352.92" r="4.8" fill="url(#ball)"/><circle cx="270.75" cy="352.7" r="4.8" fill="url(#ball)"/><circle cx="271.2" cy="352.28" r="4.8" fill="url(#ball)"/><circle cx="271.65" cy="351.69" r="4.8" fill="url(#ball)"/><circle cx="272.1" cy="351.8" r="4.8" fill="url(#ball)"/><circle cx="272.55" cy="351.5" r="4.8" fill="url(#ball)"/><circle cx="273" cy="351.59" r="4.8" fill="url(#ball)"/><circle cx="273.45" cy="351.75" r="4.8" fill="url(#ball)"/><circle cx="273.9" cy="350.98" r="4.8" fill="url(#ball)"/><circle cx="274.35" cy="350.46" r="4.8" fill="url(#ball)"/><circle cx="274.8" cy="350.07" r="4.8" fill="url(#ball)"/><circle cx="275.25" cy="350.05" r="4.8" fill="url(#ball)"/><circle cx="275.7" cy="349.71" r="4.8" fill="url(#ball)"/><circle cx="276.15" cy="349.14" r="4.8" fill="url(#ball)"/><circle cx="276.6" cy="349.12" r="4.8" fill="url(#ball)"/><circle cx="277.05" cy="348.44" r="4.8" fill="url(#ball)"/><circle cx="277.5" cy="348.64" r="4.8" fill="url(#ball)"/><circle cx="277.95" cy="348.23" r="4.8" fill="url(#ball)"/><circle cx="278.4" cy="347.83" r="4.8" fill="url(#ball)"/><circle cx="278.85" cy="347.01" r="4.8" fill="url(#ball)"/><circle cx="279.3" cy="346.82" r="4.8" fill="url(#ball)"/><circle cx="279.75" cy="346.19" r="4.8" fill="url(#ball)"/><circle cx="280.2" cy="345.64" r="4.8" fill="url(#ball)"/><circle cx="280.65" cy="345.15" r="4.8" fill="url(#ball)"/><circle cx="281.1" cy="344.39" r="4.8" fill="url(#ball)"/><circle cx="281.55" cy="343.8" r="4.8" fill="url(#ball)"/><circle cx="282" cy="343.8" r="4.8" fill="url(#ball)"/><circle cx="282.45" cy="342.96" r="4.8" fill="url(#ball)"/><circle cx="282.9" cy="342.44" r="4.8" fill="url(#ball)"/><circle cx="283.35" cy="342" r="4.8" fill="url(#ball)"/><circle cx="283.8" cy="340.64" r="4.8" fill="url(#ball)"/><circle cx="284.25" cy="340.17" r="4.8" fill="url(#ball)"/><circle cx="284.7" cy="339.67" r="4.8" fill="url(#ball)"/><circle cx="285.15" cy="338.94" r="4.8" fill="url(#ball)"/><circle cx="285.6" cy="337.93" r="4.8" fill="url(#ball)"/><circle cx="286.05" cy="337.4" r="4.8" fill="url(#ball)"/><circle cx="286.5" cy="336.26" r="4.8" fill="url(#ball)"/><circle cx="286.95" cy="334.9" r="4.8" fill="url(#ball)"/><circle cx="287.4" cy="333.9" r="4.8" fill="url(#ball)"/><circle cx="287.85" cy="333.18" r="4.8" fill="url(#ball)"/><circle cx="288.3" cy="331.85" r="4.8" fill="url(#ball)"/><circle cx="288.75" cy="329.91" r="4.8" fill="url(#ball)"/><circle cx="289.2" cy="329.25" r="4.8" fill="url(#ball)"/><circle cx="289.65" cy="327.47" r="4.8" fill="url(#ball)"/><circle cx="290.1" cy="325.92" r="4.8" fill="url(#ball)"/><circle cx="290.55" cy="323.59" r="4.8" fill="url(#ball)"/><circle cx="291" cy="321.53" r="4.8" fill="url(#ball)"/><circle cx="291.45" cy="319.04" r="4.8" fill="url(#ball)"/><circle cx="291.9" cy="317.45" r="4.8" fill="url(#ball)"/><circle cx="292.35" cy="314.01" r="4.8" fill="url(#ball)"/><circle cx="292.8" cy="311.4" r="4.8" fill="url(#ball)"/><circle cx="293.25" cy="307.47" r="4.8" fill="url(#ball)"/><circle cx="293.7" cy="303.93" r="4.8" fill="url(#ball)"/><circle cx="294.15" cy="299.32" r="4.8" fill="url(#ball)"/><circle cx="294.6" cy="295.02" r="4.8" fill="url(#ball)"/><circle cx="295.05" cy="290.2" r="4.8" fill="url(#ball)"/><circle cx="295.5" cy="283.88" r="4.8" fill="url(#ball)"/><circle cx="295.95" cy="278.01" r="4.8" fill="url(#ball)"/><circle cx="296.4" cy="270.59" r="4.8" fill="url(#ball)"/><circle cx="296.85" cy="262.14" r="4.8" fill="url(#ball)"/><circle cx="297.3" cy="253.17" r="4.8" fill="url(#ball)"/><circle cx="297.75" cy="242.99" r="4.8" fill="url(#ball)"/><circle cx="298.2" cy="231.7" r="4.8" fill="url(#ball)"/><circle cx="298.65" cy="218.89" r="4.8" fill="url(#ball)"/><circle cx="299.1" cy="204.79" r="4.8" fill="url(#ball)"/><circle cx="299.55" cy="189.55" r="4.8" fill="url(#ball)"/><circle cx="300" cy="172.74" r="4.8" fill="url(#ball)"/><circle cx="300.45" cy="155" r="4.8" fill="url(#ball)"/><circle cx="300.9" cy="136.96" r="4.8" fill="url(#ball)"/><circle cx="301.35" cy="118.73" r="4.8" fill="url(#ball)"/><circle cx="301.8" cy="100.35" r="4.8" fill="url(#ball)"/><circle cx="302.25" cy="84.63" r="4.8" fill="url(#ball)"/><circle cx="302.7" cy="71.2" r="4.8" fill="url(#ball)"/><circle cx="303.15" cy="61.83" r="4.8" fill="url(#ball)"/><circle cx="303.6" cy="57.92" r="4.8" fill="url(#ball)"/><circle cx="304.05" cy="58.62" r="4.8" fill="url(#ball)"/><circle cx="304.5" cy="65.53" r="4.8" fill="url(#ball)"/><circle cx="304.95" cy="76.09" r="4.8" fill="url(#ball)"/><circle cx="305.4" cy="91.19" r="4.8" fill="url(#ball)"/><circle cx="305.85" cy="108.31" r="4.8" fill="url(#ball)"/><circle cx="306.3" cy="126.72" r="4.8" fill="url(#ball)"/><circle cx="306.75" cy="145.87" r="4.8" fill="url(#ball)"/><circle cx="307.2" cy="164.03" r="4.8" fill="url(#ball)"/><circle cx="307.65" cy="181.58" r="4.8" fill="url(#ball)"/><circle cx="308.1" cy="197.53" r="4.8" fill="url(#ball)"/><circle cx="308.55" cy="211.99" r="4.8" fill="url(#ball)"/><circle cx="309" cy="225.54" r="4.8" fill="url(#ball)"/><circle cx="309.45" cy="237.53" r="4.8" fill="url(#ball)"/><circle cx="309.9" cy="248.44" r="4.8" fill="url(#ball)"/><circle cx="310.35" cy="257.5" r="4.8" fill="url(#ball)"/><circle cx="310.8" cy="266.2" r="4.8" fill="url(#ball)"/><circle cx="311.25" cy="273.33" r="4.8" fill="url(#ball)"/><circle cx="311.7" cy="280.66" r="4.8" fill="url(#ball)"/><circle cx="312.15" cy="286.22" r="4.8" fill="url(#ball)"/><circle cx="312.6" cy="291.39" r="4.8" fill="url(#ball)"/><circle cx="313.05" cy="296.61" r="4.8" fill="url(#ball)"/><circle cx="313.5" cy="301.18" r="4.8" fill="url(#ball)"/><circle cx="313.95" cy="304.36" r="4.8" fill="url(#ball)"/><circle cx="314.4" cy="307.91" r="4.8" fill="url(#ball)"/><circle cx="314.85" cy="311.08" r="4.8" fill="url(#ball)"/><circle cx="315.3" cy="313.76" r="4.8" fill="url(#ball)"/><circle cx="315.75" cy="316.64" r="4.8" fill="url(#ball)"/><circle cx="316.2" cy="318.59" r="4.8" fill="url(#ball)"/><circle cx="316.65" cy="320.63" r="4.8" fill="url(#ball)"/><circle cx="317.1" cy="322.76" r="4.8" fill="url(#ball)"/><circle cx="317.55" cy="324.05" r="4.8" fill="url(#ball)"/><circle cx="318" cy="325.79" r="4.8" fill="url(#ball)"/><circle cx="318.45" cy="326.72" r="4.8" fill="url(#ball)"/><circle cx="318.9" cy="327.79" r="4.8" fill="url(#ball)"/><circle cx="319.35" cy="328.62" r="4.8" fill="url(#ball)"/><circle cx="319.8" cy="330.39" r="4.8" fill="url(#ball)"/><circle cx="320.25" cy="330.56" r="4.8" fill="url(#ball)"/><circle cx="320.7" cy="331.29" r="4.8" fill="url(#ball)"/><circle cx="321.15" cy="331.68" r="4.8" fill="url(#ball)"/><circle cx="321.6" cy="332.07" r="4.8" fill="url(#ball)"/><circle cx="322.05" cy="332.26" r="4.8" fill="url(#ball)"/><circle cx="322.5" cy="332.84" r="4.8" fill="url(#ball)"/><circle cx="322.95" cy="332.13" r="4.8" fill="url(#ball)"/><circle cx="323.4" cy="331.97" r="4.8" fill="url(#ball)"/><circle cx="323.85" cy="332.05" r="4.8" fill="url(#ball)"/><circle cx="324.3" cy="331.95" r="4.8" fill="url(#ball)"/><circle cx="324.75" cy="332.54" r="4.8" fill="url(#ball)"/><circle cx="325.2" cy="332.79" r="4.8" fill="url(#ball)"/><circle cx="325.65" cy="332.77" r="4.8" fill="url(#ball)"/><circle cx="326.1" cy="333.32" r="4.8" fill="url(#ball)"/><circle cx="326.55" cy="334.45" r="4.8" fill="url(#ball)"/><circle cx="327" cy="335.93" r="4.8" fill="url(#ball)"/><circle cx="327.45" cy="336.04" r="4.8" fill="url(#ball)"/><circle cx="327.9" cy="338.09" r="4.8" fill="url(#ball)"/><circle cx="328.35" cy="338.91" r="4.8" fill="url(#ball)"/><circle cx="328.8" cy="340.62" r="4.8" fill="url(#ball)"/><circle cx="329.25" cy="341.21" r="4.8" fill="url(#ball)"/><circle cx="329.7" cy="342.45" r="4.8" fill="url(#ball)"/><circle cx="330.15" cy="343.11" r="4.8" fill="url(#ball)"/><circle cx="330.6" cy="344.13" r="4.8" fill="url(#ball)"/><circle cx="331.05" cy="345.53" r="4.8" fill="url(#ball)"/><circle cx="331.5" cy="346.13" r="4.8" fill="url(#ball)"/><circle cx="331.95" cy="346.5" r="4.8" fill="url(#ball)"/><circle cx="332.4" cy="347" r="4.8" fill="url(#ball)"/><circle cx="332.85" cy="347.31" r="4.8" fill="url(#ball)"/><circle cx="333.3" cy="348.21" r="4.8" fill="url(#ball)"/><circle cx="333.75" cy="348.78" r="4.8" fill="url(#ball)"/><circle cx="334.2" cy="349.21" r="4.8" fill="url(#ball)"/><circle cx="334.65" cy="349.62" r="4.8" fill="url(#ball)"/><circle cx="335.1" cy="349.75" r="4.8" fill="url(#ball)"/><circle cx="335.55" cy="350.37" r="4.8" fill="url(#ball)"/><circle cx="336" cy="350.71" r="4.8" fill="url(#ball)"/><circle cx="336.45" cy="351.35" r="4.8" fill="url(#ball)"/><circle cx="336.9" cy="351.79" r="4.8" fill="url(#ball)"/><circle cx="337.35" cy="351.56" r="4.8" fill="url(#ball)"/><circle cx="337.8" cy="351.66" r="4.8" fill="url(#ball)"/><circle cx="338.25" cy="352.08" r="4.8" fill="url(#ball)"/><circle cx="338.7" cy="352.17" r="4.8" fill="url(#ball)"/><circle cx="339.15" cy="352.35" r="4.8" fill="url(#ball)"/><circle cx="339.6" cy="352.73" r="4.8" fill="url(#ball)"/><circle cx="340.05" cy="352.68" r="4.8" fill="url(#ball)"/><circle cx="340.5" cy="353.27" r="4.8" fill="url(#ball)"/><circle cx="340.95" cy="353.27" r="4.8" fill="url(#ball)"/><circle cx="341.4" cy="353.52" r="4.8" fill="url(#ball)"/><circle cx="341.85" cy="353.57" r="4.8" fill="url(#ball)"/><circle cx="342.3" cy="353.58" r="4.8" fill="url(#ball)"/><circle cx="342.75" cy="353.66" r="4.8" fill="url(#ball)"/><circle cx="343.2" cy="353.97" r="4.8" fill="url(#ball)"/><circle cx="343.65" cy="354.02" r="4.8" fill="url(#ball)"/><circle cx="344.1" cy="354.34" r="4.8" fill="url(#ball)"/><circle cx="344.55" cy="354.39" r="4.8" fill="url(#ball)"/><circle cx="345" cy="354.16" r="4.8" fill="url(#ball)"/><circle cx="345.45" cy="354.62" r="4.8" fill="url(#ball)"/><circle cx="345.9" cy="354.37" r="4.8" fill="url(#ball)"/><circle cx="346.35" cy="354.64" r="4.8" fill="url(#ball)"/><circle cx="346.8" cy="354.81" r="4.8" fill="url(#ball)"/><circle cx="347.25" cy="354.45" r="4.8" fill="url(#ball)"/><circle cx="347.7" cy="355.07" r="4.8" fill="url(#ball)"/><circle cx="348.15" cy="355.16" r="4.8" fill="url(#ball)"/><circle cx="348.6" cy="355.15" r="4.8" fill="url(#ball)"/><circle cx="349.05" cy="355.15" r="4.8" fill="url(#ball)"/><circle cx="349.5" cy="355.22" r="4.8" fill="url(#ball)"/><circle cx="349.95" cy="355.12" r="4.8" fill="url(#ball)"/><circle cx="350.4" cy="355.35" r="4.8" fill="url(#ball)"/><circle cx="350.85" cy="355.33" r="4.8" fill="url(#ball)"/><circle cx="351.3" cy="355.54" r="4.8" fill="url(#ball)"/><circle cx="351.75" cy="355.25" r="4.8" fill="url(#ball)"/><circle cx="352.2" cy="355.65" r="4.8" fill="url(#ball)"/><circle cx="352.65" cy="355.65" r="4.8" fill="url(#ball)"/><circle cx="353.1" cy="355.61" r="4.8" fill="url(#ball)"/><circle cx="353.55" cy="355.56" r="4.8" fill="url(#ball)"/><circle cx="354" cy="355.82" r="4.8" fill="url(#ball)"/><circle cx="354.45" cy="355.28" r="4.8" fill="url(#ball)"/><circle cx="354.9" cy="355.82" r="4.8" fill="url(#ball)"/><circle cx="355.35" cy="355.77" r="4.8" fill="url(#ball)"/><circle cx="355.8" cy="355.78" r="4.8" fill="url(#ball)"/><circle cx="356.25" cy="355.81" r="4.8" fill="url(#ball)"/><circle cx="356.7" cy="355.54" r="4.8" fill="url(#ball)"/><circle cx="357.15" cy="355.62" r="4.8" fill="url(#ball)"/><circle cx="357.6" cy="355.82" r="4.8" fill="url(#ball)"/><circle cx="358.05" cy="355.75" r="4.8" fill="url(#ball)"/><circle cx="358.5" cy="355.66" r="4.8" fill="url(#ball)"/><circle cx="358.95" cy="355.19" r="4.8" fill="url(#ball)"/><circle cx="359.4" cy="355.66" r="4.8" fill="url(#ball)"/><circle cx="359.85" cy="355.77" r="4.8" fill="url(#ball)"/><circle cx="360.3" cy="355.67" r="4.8" fill="url(#ball)"/><circle cx="360.75" cy="355.41" r="4.8" fill="url(#ball)"/><circle cx="361.2" cy="354.89" r="4.8" fill="url(#ball)"/><circle cx="361.65" cy="355.43" r="4.8" fill="url(#ball)"/><circle cx="362.1" cy="355.07" r="4.8" fill="url(#ball)"/><circle cx="362.55" cy="354.37" r="4.8" fill="url(#ball)"/><circle cx="363" cy="354.99" r="4.8" fill="url(#ball)"/><circle cx="363.45" cy="354.41" r="4.8" fill="url(#ball)"/><circle cx="363.9" cy="354.33" r="4.8" fill="url(#ball)"/><circle cx="364.35" cy="354.35" r="4.8" fill="url(#ball)"/><circle cx="364.8" cy="354.68" r="4.8" fill="url(#ball)"/><circle cx="365.25" cy="354.11" r="4.8" fill="url(#ball)"/><circle cx="365.7" cy="354.09" r="4.8" fill="url(#ball)"/><circle cx="366.15" cy="354.27" r="4.8" fill="url(#ball)"/><circle cx="366.6" cy="354.04" r="4.8" fill="url(#ball)"/><circle cx="367.05" cy="353.4" r="4.8" fill="url(#ball)"/><circle cx="367.5" cy="353.14" r="4.8" fill="url(#ball)"/><circle cx="367.95" cy="352.65" r="4.8" fill="url(#ball)"/><circle cx="368.4" cy="352.55" r="4.8" fill="url(#ball)"/><circle cx="368.85" cy="352.57" r="4.8" fill="url(#ball)"/><circle cx="369.3" cy="352.3" r="4.8" fill="url(#ball)"/><circle cx="369.75" cy="351.96" r="4.8" fill="url(#ball)"/><circle cx="370.2" cy="351.91" r="4.8" fill="url(#ball)"/><circle cx="370.65" cy="351.19" r="4.8" fill="url(#ball)"/><circle cx="371.1" cy="351.1" r="4.8" fill="url(#ball)"/><circle cx="371.55" cy="351.03" r="4.8" fill="url(#ball)"/><circle cx="372" cy="350.74" r="4.8" fill="url(#ball)"/><circle cx="372.45" cy="350.63" r="4.8" fill="url(#ball)"/><circle cx="372.9" cy="350.24" r="4.8" fill="url(#ball)"/><circle cx="373.35" cy="349.88" r="4.8" fill="url(#ball)"/><circle cx="373.8" cy="349.9" r="4.8" fill="url(#ball)"/><circle cx="374.25" cy="349.44" r="4.8" fill="url(#ball)"/><circle cx="374.7" cy="349.21" r="4.8" fill="url(#ball)"/><circle cx="375.15" cy="349.74" r="4.8" fill="url(#ball)"/><circle cx="375.6" cy="349.6" r="4.8" fill="url(#ball)"/><circle cx="376.05" cy="349.75" r="4.8" fill="url(#ball)"/><circle cx="376.5" cy="349.36" r="4.8" fill="url(#ball)"/><circle cx="376.95" cy="349.84" r="4.8" fill="url(#ball)"/><circle cx="377.4" cy="349.97" r="4.8" fill="url(#ball)"/><circle cx="377.85" cy="350.13" r="4.8" fill="url(#ball)"/><circle cx="378.3" cy="350.03" r="4.8" fill="url(#ball)"/><circle cx="378.75" cy="350.78" r="4.8" fill="url(#ball)"/><circle cx="379.2" cy="351.38" r="4.8" fill="url(#ball)"/><circle cx="379.65" cy="351.56" r="4.8" fill="url(#ball)"/><circle cx="380.1" cy="351.63" r="4.8" fill="url(#ball)"/><circle cx="380.55" cy="352.09" r="4.8" fill="url(#ball)"/><circle cx="381" cy="352.6" r="4.8" fill="url(#ball)"/><circle cx="381.45" cy="352.03" r="4.8" fill="url(#ball)"/><circle cx="381.9" cy="353" r="4.8" fill="url(#ball)"/><circle cx="382.35" cy="353.46" r="4.8" fill="url(#ball)"/><circle cx="382.8" cy="353.79" r="4.8" fill="url(#ball)"/><circle cx="383.25" cy="354.32" r="4.8" fill="url(#ball)"/><circle cx="383.7" cy="354.45" r="4.8" fill="url(#ball)"/><circle cx="384.15" cy="354.5" r="4.8" fill="url(#ball)"/><circle cx="384.6" cy="354.74" r="4.8" fill="url(#ball)"/><circle cx="385.05" cy="355.09" r="4.8" fill="url(#ball)"/><circle cx="385.5" cy="354.98" r="4.8" fill="url(#ball)"/><circle cx="385.95" cy="355.31" r="4.8" fill="url(#ball)"/><circle cx="386.4" cy="355.75" r="4.8" fill="url(#ball)"/><circle cx="386.85" cy="356.19" r="4.8" fill="url(#ball)"/><circle cx="387.3" cy="355.84" r="4.8" fill="url(#ball)"/><circle cx="387.75" cy="356.03" r="4.8" fill="url(#ball)"/><circle cx="388.2" cy="356.25" r="4.8" fill="url(#ball)"/><circle cx="388.65" cy="356.68" r="4.8" fill="url(#ball)"/><circle cx="389.1" cy="356.48" r="4.8" fill="url(#ball)"/><circle cx="389.55" cy="356.98" r="4.8" fill="url(#ball)"/><circle cx="390" cy="356.5" r="4.8" fill="url(#ball)"/><circle cx="390.45" cy="356.81" r="4.8" fill="url(#ball)"/><circle cx="390.9" cy="356.91" r="4.8" fill="url(#ball)"/><circle cx="391.35" cy="357.26" r="4.8" fill="url(#ball)"/><circle cx="391.8" cy="357.42" r="4.8" fill="url(#ball)"/><circle cx="392.25" cy="356.87" r="4.8" fill="url(#ball)"/><circle cx="392.7" cy="357.11" r="4.8" fill="url(#ball)"/><circle cx="393.15" cy="357.5" r="4.8" fill="url(#ball)"/><circle cx="393.6" cy="357.33" r="4.8" fill="url(#ball)"/><circle cx="394.05" cy="357.18" r="4.8" fill="url(#ball)"/><circle cx="394.5" cy="357.89" r="4.8" fill="url(#ball)"/><circle cx="394.95" cy="357.81" r="4.8" fill="url(#ball)"/><circle cx="395.4" cy="357.87" r="4.8" fill="url(#ball)"/><circle cx="395.85" cy="357.68" r="4.8" fill="url(#ball)"/><circle cx="396.3" cy="358.11" r="4.8" fill="url(#ball)"/><circle cx="396.75" cy="357.84" r="4.8" fill="url(#ball)"/><circle cx="397.2" cy="358.22" r="4.8" fill="url(#ball)"/><circle cx="397.65" cy="357.75" r="4.8" fill="url(#ball)"/><circle cx="398.1" cy="357.81" r="4.8" fill="url(#ball)"/><circle cx="398.55" cy="358.1" r="4.8" fill="url(#ball)"/><circle cx="399" cy="357.91" r="4.8" fill="url(#ball)"/><circle cx="399.45" cy="358.28" r="4.8" fill="url(#ball)"/><circle cx="399.9" cy="358.2" r="4.8" fill="url(#ball)"/><circle cx="400.35" cy="357.93" r="4.8" fill="url(#ball)"/><circle cx="400.8" cy="358.2" r="4.8" fill="url(#ball)"/><circle cx="401.25" cy="358.11" r="4.8" fill="url(#ball)"/><circle cx="401.7" cy="358.44" r="4.8" fill="url(#ball)"/><circle cx="402.15" cy="358.07" r="4.8" fill="url(#ball)"/><circle cx="402.6" cy="358.13" r="4.8" fill="url(#ball)"/><circle cx="403.05" cy="358.55" r="4.8" fill="url(#ball)"/><circle cx="403.5" cy="358.81" r="4.8" fill="url(#ball)"/><circle cx="403.95" cy="358.75" r="4.8" fill="url(#ball)"/><circle cx="404.4" cy="358.27" r="4.8" fill="url(#ball)"/><circle cx="404.85" cy="358.3" r="4.8" fill="url(#ball)"/><circle cx="405.3" cy="358.62" r="4.8" fill="url(#ball)"/><circle cx="405.75" cy="358.2" r="4.8" fill="url(#ball)"/><circle cx="406.2" cy="357.97" r="4.8" fill="url(#ball)"/><circle cx="406.65" cy="358.23" r="4.8" fill="url(#ball)"/><circle cx="407.1" cy="358.3" r="4.8" fill="url(#ball)"/><circle cx="407.55" cy="357.96" r="4.8" fill="url(#ball)"/><circle cx="408" cy="357.73" r="4.8" fill="url(#ball)"/><circle cx="408.45" cy="357.75" r="4.8" fill="url(#ball)"/><circle cx="408.9" cy="358.25" r="4.8" fill="url(#ball)"/><circle cx="409.35" cy="357.86" r="4.8" fill="url(#ball)"/><circle cx="409.8" cy="357.97" r="4.8" fill="url(#ball)"/><circle cx="410.25" cy="358.02" r="4.8" fill="url(#ball)"/><circle cx="410.7" cy="358.07" r="4.8" fill="url(#ball)"/><circle cx="411.15" cy="357.78" r="4.8" fill="url(#ball)"/><circle cx="411.6" cy="357.94" r="4.8" fill="url(#ball)"/><circle cx="412.05" cy="357.53" r="4.8" fill="url(#ball)"/><circle cx="412.5" cy="357.59" r="4.8" fill="url(#ball)"/><circle cx="412.95" cy="357.36" r="4.8" fill="url(#ball)"/><circle cx="413.4" cy="357.82" r="4.8" fill="url(#ball)"/><circle cx="413.85" cy="357.45" r="4.8" fill="url(#ball)"/><circle cx="414.3" cy="357.18" r="4.8" fill="url(#ball)"/><circle cx="414.75" cy="357.18" r="4.8" fill="url(#ball)"/><circle cx="415.2" cy="357.11" r="4.8" fill="url(#ball)"/><circle cx="415.65" cy="357.23" r="4.8" fill="url(#ball)"/><circle cx="416.1" cy="356.54" r="4.8" fill="url(#ball)"/><circle cx="416.55" cy="356.55" r="4.8" fill="url(#ball)"/><circle cx="417" cy="356.59" r="4.8" fill="url(#ball)"/><circle cx="417.45" cy="357.17" r="4.8" fill="url(#ball)"/><circle cx="417.9" cy="356.63" r="4.8" fill="url(#ball)"/><circle cx="418.35" cy="356.21" r="4.8" fill="url(#ball)"/><circle cx="418.8" cy="356.25" r="4.8" fill="url(#ball)"/><circle cx="419.25" cy="356.41" r="4.8" fill="url(#ball)"/><circle cx="419.7" cy="355.66" r="4.8" fill="url(#ball)"/><circle cx="420.15" cy="355.44" r="4.8" fill="url(#ball)"/><circle cx="420.6" cy="355.64" r="4.8" fill="url(#ball)"/><circle cx="421.05" cy="355.26" r="4.8" fill="url(#ball)"/><circle cx="421.5" cy="355.1" r="4.8" fill="url(#ball)"/><circle cx="421.95" cy="354.6" r="4.8" fill="url(#ball)"/><circle cx="422.4" cy="355.01" r="4.8" fill="url(#ball)"/><circle cx="422.85" cy="354.76" r="4.8" fill="url(#ball)"/><circle cx="423.3" cy="354.28" r="4.8" fill="url(#ball)"/><circle cx="423.75" cy="354.12" r="4.8" fill="url(#ball)"/><circle cx="424.2" cy="353.27" r="4.8" fill="url(#ball)"/><circle cx="424.65" cy="353.78" r="4.8" fill="url(#ball)"/><circle cx="425.1" cy="353.43" r="4.8" fill="url(#ball)"/><circle cx="425.55" cy="353.47" r="4.8" fill="url(#ball)"/><circle cx="426" cy="353.45" r="4.8" fill="url(#ball)"/><circle cx="426.45" cy="353.13" r="4.8" fill="url(#ball)"/><circle cx="426.9" cy="352.76" r="4.8" fill="url(#ball)"/><circle cx="427.35" cy="353.27" r="4.8" fill="url(#ball)"/><circle cx="427.8" cy="353.02" r="4.8" fill="url(#ball)"/><circle cx="428.25" cy="353.18" r="4.8" fill="url(#ball)"/><circle cx="428.7" cy="353.2" r="4.8" fill="url(#ball)"/><circle cx="429.15" cy="353.38" r="4.8" fill="url(#ball)"/><circle cx="429.6" cy="353.03" r="4.8" fill="url(#ball)"/><circle cx="430.05" cy="354.08" r="4.8" fill="url(#ball)"/><circle cx="430.5" cy="354.02" r="4.8" fill="url(#ball)"/><circle cx="430.95" cy="354.43" r="4.8" fill="url(#ball)"/><circle cx="431.4" cy="354.85" r="4.8" fill="url(#ball)"/><circle cx="431.85" cy="354.58" r="4.8" fill="url(#ball)"/><circle cx="432.3" cy="354.34" r="4.8" fill="url(#ball)"/><circle cx="432.75" cy="354.79" r="4.8" fill="url(#ball)"/><circle cx="433.2" cy="354.94" r="4.8" fill="url(#ball)"/><circle cx="433.65" cy="355.33" r="4.8" fill="url(#ball)"/><circle cx="434.1" cy="355.7" r="4.8" fill="url(#ball)"/><circle cx="434.55" cy="355.39" r="4.8" fill="url(#ball)"/><circle cx="435" cy="356.18" r="4.8" fill="url(#ball)"/><circle cx="435.45" cy="355.92" r="4.8" fill="url(#ball)"/><circle cx="435.9" cy="356.56" r="4.8" fill="url(#ball)"/><circle cx="436.35" cy="356.65" r="4.8" fill="url(#ball)"/><circle cx="436.8" cy="356.77" r="4.8" fill="url(#ball)"/><circle cx="437.25" cy="357" r="4.8" fill="url(#ball)"/><circle cx="437.7" cy="357.04" r="4.8" fill="url(#ball)"/><circle cx="438.15" cy="357.18" r="4.8" fill="url(#ball)"/><circle cx="438.6" cy="357.06" r="4.8" fill="url(#ball)"/><circle cx="439.05" cy="357.61" r="4.8" fill="url(#ball)"/><circle cx="439.5" cy="358.21" r="4.8" fill="url(#ball)"/><circle cx="439.95" cy="358.37" r="4.8" fill="url(#ball)"/><circle cx="440.4" cy="358.32" r="4.8" fill="url(#ball)"/><circle cx="440.85" cy="358.28" r="4.8" fill="url(#ball)"/><circle cx="441.3" cy="358.04" r="4.8" fill="url(#ball)"/><circle cx="441.75" cy="358.67" r="4.8" fill="url(#ball)"/><circle cx="442.2" cy="358.39" r="4.8" fill="url(#ball)"/><circle cx="442.65" cy="358.48" r="4.8" fill="url(#ball)"/><circle cx="443.1" cy="358.51" r="4.8" fill="url(#ball)"/><circle cx="443.55" cy="358.68" r="4.8" fill="url(#ball)"/><circle cx="444" cy="358.63" r="4.8" fill="url(#ball)"/><circle cx="444.45" cy="358.79" r="4.8" fill="url(#ball)"/><circle cx="444.9" cy="358.61" r="4.8" fill="url(#ball)"/><circle cx="445.35" cy="358.86" r="4.8" fill="url(#ball)"/><circle cx="445.8" cy="359.58" r="4.8" fill="url(#ball)"/><circle cx="446.25" cy="359.05" r="4.8" fill="url(#ball)"/><circle cx="446.7" cy="359.07" r="4.8" fill="url(#ball)"/><circle cx="447.15" cy="359.32" r="4.8" fill="url(#ball)"/><circle cx="447.6" cy="359.41" r="4.8" fill="url(#ball)"/><circle cx="448.05" cy="359.01" r="4.8" fill="url(#ball)"/><circle cx="448.5" cy="359.28" r="4.8" fill="url(#ball)"/><circle cx="448.95" cy="359.61" r="4.8" fill="url(#ball)"/><circle cx="449.4" cy="359.49" r="4.8" fill="url(#ball)"/><circle cx="449.85" cy="359.49" r="4.8" fill="url(#ball)"/><circle cx="450.3" cy="359.89" r="4.8" fill="url(#ball)"/><circle cx="450.75" cy="359.37" r="4.8" fill="url(#ball)"/><circle cx="451.2" cy="359.6" r="4.8" fill="url(#ball)"/><circle cx="451.65" cy="359.48" r="4.8" fill="url(#ball)"/><circle cx="452.1" cy="360.02" r="4.8" fill="url(#ball)"/><circle cx="452.55" cy="359.19" r="4.8" fill="url(#ball)"/><circle cx="453" cy="359.54" r="4.8" fill="url(#ball)"/><circle cx="453.45" cy="359.61" r="4.8" fill="url(#ball)"/><circle cx="453.9" cy="359.93" r="4.8" fill="url(#ball)"/><circle cx="454.35" cy="359.95" r="4.8" fill="url(#ball)"/><circle cx="454.8" cy="360.17" r="4.8" fill="url(#ball)"/><circle cx="455.25" cy="359.45" r="4.8" fill="url(#ball)"/><circle cx="455.7" cy="360.06" r="4.8" fill="url(#ball)"/><circle cx="456.15" cy="359.82" r="4.8" fill="url(#ball)"/><circle cx="456.6" cy="359.75" r="4.8" fill="url(#ball)"/><circle cx="457.05" cy="360.08" r="4.8" fill="url(#ball)"/><circle cx="457.5" cy="359.73" r="4.8" fill="url(#ball)"/><circle cx="457.95" cy="359.46" r="4.8" fill="url(#ball)"/><circle cx="458.4" cy="359.91" r="4.8" fill="url(#ball)"/><circle cx="458.85" cy="359.65" r="4.8" fill="url(#ball)"/><circle cx="459.3" cy="359.88" r="4.8" fill="url(#ball)"/><circle cx="459.75" cy="360.15" r="4.8" fill="url(#ball)"/><circle cx="460.2" cy="360.15" r="4.8" fill="url(#ball)"/><circle cx="460.65" cy="360.49" r="4.8" fill="url(#ball)"/><circle cx="461.1" cy="360.06" r="4.8" fill="url(#ball)"/><circle cx="461.55" cy="359.74" r="4.8" fill="url(#ball)"/><circle cx="462" cy="359.95" r="4.8" fill="url(#ball)"/><circle cx="462.45" cy="359.93" r="4.8" fill="url(#ball)"/><circle cx="462.9" cy="359.87" r="4.8" fill="url(#ball)"/><circle cx="463.35" cy="360.29" r="4.8" fill="url(#ball)"/><circle cx="463.8" cy="360.04" r="4.8" fill="url(#ball)"/><circle cx="464.25" cy="359.72" r="4.8" fill="url(#ball)"/><circle cx="464.7" cy="360.4" r="4.8" fill="url(#ball)"/><circle cx="465.15" cy="360.21" r="4.8" fill="url(#ball)"/><circle cx="465.6" cy="360.34" r="4.8" fill="url(#ball)"/><circle cx="466.05" cy="360.29" r="4.8" fill="url(#ball)"/><circle cx="466.5" cy="360.43" r="4.8" fill="url(#ball)"/><circle cx="466.95" cy="360.3" r="4.8" fill="url(#ball)"/><circle cx="467.4" cy="360.61" r="4.8" fill="url(#ball)"/><circle cx="467.85" cy="360.42" r="4.8" fill="url(#ball)"/><circle cx="468.3" cy="360.42" r="4.8" fill="url(#ball)"/><circle cx="468.75" cy="360.43" r="4.8" fill="url(#ball)"/><circle cx="469.2" cy="359.98" r="4.8" fill="url(#ball)"/><circle cx="469.65" cy="360.31" r="4.8" fill="url(#ball)"/><circle cx="470.1" cy="360.3" r="4.8" fill="url(#ball)"/><circle cx="470.55" cy="360.42" r="4.8" fill="url(#ball)"/><circle cx="471" cy="360.04" r="4.8" fill="url(#ball)"/><circle cx="471.45" cy="360.8" r="4.8" fill="url(#ball)"/><circle cx="471.9" cy="360.42" r="4.8" fill="url(#ball)"/><circle cx="472.35" cy="360.1" r="4.8" fill="url(#ball)"/><circle cx="472.8" cy="359.99" r="4.8" fill="url(#ball)"/><circle cx="473.25" cy="360.35" r="4.8" fill="url(#ball)"/><circle cx="473.7" cy="360.41" r="4.8" fill="url(#ball)"/><circle cx="474.15" cy="360.26" r="4.8" fill="url(#ball)"/><circle cx="474.6" cy="360.47" r="4.8" fill="url(#ball)"/><circle cx="475.05" cy="360.29" r="4.8" fill="url(#ball)"/><circle cx="475.5" cy="360.6" r="4.8" fill="url(#ball)"/><circle cx="475.95" cy="360.29" r="4.8" fill="url(#ball)"/><circle cx="476.4" cy="360.47" r="4.8" fill="url(#ball)"/><circle cx="476.85" cy="360.73" r="4.8" fill="url(#ball)"/><circle cx="477.3" cy="361.13" r="4.8" fill="url(#ball)"/><circle cx="477.75" cy="360.24" r="4.8" fill="url(#ball)"/><circle cx="478.2" cy="360.39" r="4.8" fill="url(#ball)"/><circle cx="478.65" cy="360.3" r="4.8" fill="url(#ball)"/><circle cx="479.1" cy="360.71" r="4.8" fill="url(#ball)"/><circle cx="479.55" cy="360.24" r="4.8" fill="url(#ball)"/><circle cx="480" cy="360.41" r="4.8" fill="url(#ball)"/><circle cx="480.45" cy="360.53" r="4.8" fill="url(#ball)"/><circle cx="480.9" cy="360.3" r="4.8" fill="url(#ball)"/><circle cx="481.35" cy="360.31" r="4.8" fill="url(#ball)"/><circle cx="481.8" cy="360.43" r="4.8" fill="url(#ball)"/><circle cx="482.25" cy="360.03" r="4.8" fill="url(#ball)"/><circle cx="482.7" cy="360.2" r="4.8" fill="url(#ball)"/><circle cx="483.15" cy="360.47" r="4.8" fill="url(#ball)"/><circle cx="483.6" cy="360.61" r="4.8" fill="url(#ball)"/><circle cx="484.05" cy="360.53" r="4.8" fill="url(#ball)"/><circle cx="484.5" cy="360.14" r="4.8" fill="url(#ball)"/><circle cx="484.95" cy="360.47" r="4.8" fill="url(#ball)"/><circle cx="485.4" cy="360.79" r="4.8" fill="url(#ball)"/><circle cx="485.85" cy="360.74" r="4.8" fill="url(#ball)"/><circle cx="486.3" cy="360.58" r="4.8" fill="url(#ball)"/><circle cx="486.75" cy="360.39" r="4.8" fill="url(#ball)"/><circle cx="487.2" cy="360.77" r="4.8" fill="url(#ball)"/><circle cx="487.65" cy="360.47" r="4.8" fill="url(#ball)"/><circle cx="488.1" cy="360.33" r="4.8" fill="url(#ball)"/><circle cx="488.55" cy="360.43" r="4.8" fill="url(#ball)"/><circle cx="489" cy="360.99" r="4.8" fill="url(#ball)"/><circle cx="489.45" cy="360.69" r="4.8" fill="url(#ball)"/><circle cx="489.9" cy="360.93" r="4.8" fill="url(#ball)"/><circle cx="490.35" cy="360.52" r="4.8" fill="url(#ball)"/><circle cx="490.8" cy="360.88" r="4.8" fill="url(#ball)"/><circle cx="491.25" cy="360.5" r="4.8" fill="url(#ball)"/><circle cx="491.7" cy="360.62" r="4.8" fill="url(#ball)"/><circle cx="492.15" cy="361.28" r="4.8" fill="url(#ball)"/><circle cx="492.6" cy="360.86" r="4.8" fill="url(#ball)"/><circle cx="493.05" cy="360.54" r="4.8" fill="url(#ball)"/><circle cx="493.5" cy="360.65" r="4.8" fill="url(#ball)"/><circle cx="493.95" cy="360.76" r="4.8" fill="url(#ball)"/><circle cx="494.4" cy="360.98" r="4.8" fill="url(#ball)"/><circle cx="494.85" cy="360.56" r="4.8" fill="url(#ball)"/><circle cx="495.3" cy="360.25" r="4.8" fill="url(#ball)"/><circle cx="495.75" cy="360.62" r="4.8" fill="url(#ball)"/><circle cx="496.2" cy="360.7" r="4.8" fill="url(#ball)"/><circle cx="496.65" cy="360.73" r="4.8" fill="url(#ball)"/><circle cx="497.1" cy="361.03" r="4.8" fill="url(#ball)"/><circle cx="497.55" cy="360.78" r="4.8" fill="url(#ball)"/><circle cx="498" cy="360.91" r="4.8" fill="url(#ball)"/><circle cx="498.45" cy="360.44" r="4.8" fill="url(#ball)"/><circle cx="498.9" cy="360.93" r="4.8" fill="url(#ball)"/><circle cx="499.35" cy="361.24" r="4.8" fill="url(#ball)"/><circle cx="499.8" cy="360.91" r="4.8" fill="url(#ball)"/><circle cx="500.25" cy="360.79" r="4.8" fill="url(#ball)"/><circle cx="500.7" cy="360.77" r="4.8" fill="url(#ball)"/><circle cx="501.15" cy="361.18" r="4.8" fill="url(#ball)"/><circle cx="501.6" cy="360.5" r="4.8" fill="url(#ball)"/><circle cx="502.05" cy="360.71" r="4.8" fill="url(#ball)"/><circle cx="502.5" cy="360.85" r="4.8" fill="url(#ball)"/><circle cx="502.95" cy="360.93" r="4.8" fill="url(#ball)"/><circle cx="503.4" cy="360.64" r="4.8" fill="url(#ball)"/><circle cx="503.85" cy="360.83" r="4.8" fill="url(#ball)"/><circle cx="504.3" cy="360.68" r="4.8" fill="url(#ball)"/><circle cx="504.75" cy="360.78" r="4.8" fill="url(#ball)"/><circle cx="505.2" cy="360.72" r="4.8" fill="url(#ball)"/><circle cx="505.65" cy="360.47" r="4.8" fill="url(#ball)"/><circle cx="506.1" cy="360.76" r="4.8" fill="url(#ball)"/><circle cx="506.55" cy="360.98" r="4.8" fill="url(#ball)"/><circle cx="507" cy="360.53" r="4.8" fill="url(#ball)"/>
</g>
<path d="M104.7 361.49 L105.2 361.49 L105.7 361.49 L106.2 361.49 L106.7 361.49 L107.2 361.49 L107.7 361.49 L108.2 361.49 L108.7 361.49 L109.2 361.49 L109.7 361.49 L110.2 361.49 L110.7 361.49 L111.2 361.49 L111.7 361.49 L112.2 361.49 L112.7 361.49 L113.2 361.49 L113.7 361.49 L114.2 361.49 L114.7 361.49 L115.2 361.49 L115.7 361.49 L116.2 361.49 L116.7 361.49 L117.2 361.49 L117.7 361.49 L118.2 361.49 L118.7 361.49 L119.2 361.49 L119.7 361.49 L120.2 361.49 L120.7 361.49 L121.2 361.49 L121.7 361.49 L122.2 361.49 L122.7 361.49 L123.2 361.49 L123.7 361.49 L124.2 361.49 L124.7 361.49 L125.2 361.49 L125.7 361.49 L126.2 361.49 L126.7 361.49 L127.2 361.49 L127.7 361.49 L128.2 361.49 L128.7 361.49 L129.2 361.49 L129.7 361.49 L130.2 361.49 L130.7 361.49 L131.2 361.49 L131.7 361.49 L132.2 361.49 L132.7 361.49 L133.2 361.49 L133.7 361.49 L134.2 361.49 L134.7 361.49 L135.2 361.49 L135.7 361.49 L136.2 361.49 L136.7 361.49 L137.2 361.49 L137.7 361.49 L138.2 361.49 L138.7 361.49 L139.2 361.49 L139.7 361.49 L140.2 361.49 L140.7 361.49 L141.2 361.49 L141.7 361.49 L142.2 361.49 L142.7 361.49 L143.2 361.49 L143.7 361.49 L144.2 361.49 L144.7 361.49 L145.2 361.49 L145.7 361.49 L146.2 361.49 L146.7 361.49 L147.2 361.49 L147.7 361.49 L148.2 361.49 L148.7 361.49 L149.2 361.49 L149.7 361.49 L150.2 361.49 L150.7 361.49 L151.2 361.49 L151.7 361.48 L152.2 361.48 L152.7 361.48 L153.2 361.48 L153.7 361.48 L154.2 361.48 L154.7 361.48 L155.2 361.48 L155.7 361.48 L156.2 361.48 L156.7 361.48 L157.2 361.48 L157.7 361.48 L158.2 361.48 L158.7 361.48 L159.2 361.48 L159.7 361.48 L160.2 361.48 L160.7 361.48 L161.2 361.48 L161.7 361.48 L162.2 361.48 L162.7 361.48 L163.2 361.48 L163.7 361.48 L164.2 361.48 L164.7 361.48 L165.2 361.48 L165.7 361.48 L166.2 361.48 L166.7 361.48 L167.2 361.48 L167.7 361.48 L168.2 361.48 L168.7 361.48 L169.2 361.48 L169.7 361.48 L170.2 361.48 L170.7 361.48 L171.2 361.48 L171.7 361.48 L172.2 361.48 L172.7 361.48 L173.2 361.48 L173.7 361.48 L174.2 361.48 L174.7 361.48 L175.2 361.48 L175.7 361.48 L176.2 361.48 L176.7 361.48 L177.2 361.48 L177.7 361.48 L178.2 361.48 L178.7 361.48 L179.2 361.48 L179.7 361.48 L180.2 361.48 L180.7 361.48 L181.2 361.48 L181.7 361.48 L182.2 361.48 L182.7 361.48 L183.2 361.48 L183.7 361.48 L184.2 361.48 L184.7 361.48 L185.2 361.48 L185.7 361.48 L186.2 361.48 L186.7 361.48 L187.2 361.47 L187.7 361.47 L188.2 361.47 L188.7 361.47 L189.2 361.47 L189.7 361.47 L190.2 361.47 L190.7 361.47 L191.2 361.47 L191.7 361.47 L192.2 361.47 L192.7 361.47 L193.2 361.47 L193.7 361.47 L194.2 361.47 L194.7 361.47 L195.2 361.47 L195.7 361.47 L196.2 361.47 L196.7 361.47 L197.2 361.47 L197.7 361.47 L198.2 361.47 L198.7 361.47 L199.2 361.47 L199.7 361.47 L200.2 361.47 L200.7 361.47 L201.2 361.47 L201.7 361.47 L202.2 361.47 L202.7 361.47 L203.2 361.47 L203.7 361.47 L204.2 361.47 L204.7 361.47 L205.2 361.47 L205.7 361.47 L206.2 361.46 L206.7 361.46 L207.2 361.46 L207.7 361.46 L208.2 361.46 L208.7 361.46 L209.2 361.46 L209.7 361.46 L210.2 361.46 L210.7 361.46 L211.2 361.46 L211.7 361.46 L212.2 361.46 L212.7 361.46 L213.2 361.46 L213.7 361.46 L214.2 361.46 L214.7 361.46 L215.2 361.46 L215.7 361.46 L216.2 361.46 L216.7 361.46 L217.2 361.46 L217.7 361.46 L218.2 361.46 L218.7 361.45 L219.2 361.45 L219.7 361.45 L220.2 361.45 L220.7 361.45 L221.2 361.45 L221.7 361.45 L222.2 361.45 L222.7 361.45 L223.2 361.45 L223.7 361.45 L224.2 361.45 L224.7 361.45 L225.2 361.45 L225.7 361.45 L226.2 361.45 L226.7 361.45 L227.2 361.44 L227.7 361.44 L228.2 361.44 L228.7 361.44 L229.2 361.44 L229.7 361.44 L230.2 361.44 L230.7 361.44 L231.2 361.44 L231.7 361.44 L232.2 361.44 L232.7 361.44 L233.2 361.44 L233.7 361.43 L234.2 361.43 L234.7 361.43 L235.2 361.43 L235.7 361.43 L236.2 361.43 L236.7 361.43 L237.2 361.43 L237.7 361.43 L238.2 361.43 L238.7 361.42 L239.2 361.42 L239.7 361.42 L240.2 361.42 L240.7 361.42 L241.2 361.42 L241.7 361.42 L242.2 361.42 L242.7 361.42 L243.2 361.41 L243.7 361.41 L244.2 361.41 L244.7 361.41 L245.2 361.41 L245.7 361.41 L246.2 361.41 L246.7 361.4 L247.2 361.4 L247.7 361.4 L248.2 361.4 L248.7 361.4 L249.2 361.4 L249.7 361.39 L250.2 361.39 L250.7 361.39 L251.2 361.39 L251.7 361.39 L252.2 361.38 L252.7 361.38 L253.2 361.38 L253.7 361.38 L254.2 361.38 L254.7 361.37 L255.2 361.37 L255.7 361.37 L256.2 361.36 L256.7 361.36 L257.2 361.36 L257.7 361.36 L258.2 361.35 L258.7 361.35 L259.2 361.35 L259.7 361.34 L260.2 361.34 L260.7 361.34 L261.2 361.33 L261.7 361.33 L262.2 361.33 L262.7 361.32 L263.2 361.32 L263.7 361.31 L264.2 361.31 L264.7 361.3 L265.2 361.3 L265.7 361.29 L266.2 361.29 L266.7 361.28 L267.2 361.28 L267.7 361.27 L268.2 361.27 L268.7 361.26 L269.2 361.25 L269.7 361.25 L270.2 361.24 L270.7 361.23 L271.2 361.22 L271.7 361.22 L272.2 361.21 L272.7 361.2 L273.2 361.19 L273.7 361.18 L274.2 361.17 L274.7 361.16 L275.2 361.14 L275.7 361.13 L276.2 361.12 L276.7 361.11 L277.2 361.09 L277.7 361.08 L278.2 361.06 L278.7 361.04 L279.2 361.02 L279.7 361 L280.2 360.98 L280.7 360.96 L281.2 360.94 L281.7 360.91 L282.2 360.89 L282.7 360.86 L283.2 360.83 L283.7 360.79 L284.2 360.76 L284.7 360.72 L285.2 360.67 L285.7 360.63 L286.2 360.58 L286.7 360.52 L287.2 360.46 L287.7 360.4 L288.2 360.32 L288.7 360.24 L289.2 360.16 L289.7 360.06 L290.2 359.95 L290.7 359.83 L291.2 359.69 L291.7 359.54 L292.2 359.36 L292.7 359.17 L293.2 358.94 L293.7 358.69 L294.2 358.4 L294.7 358.06 L295.2 357.68 L295.7 357.24 L296.2 356.73 L296.7 356.15 L297.2 355.5 L297.7 354.77 L298.2 353.97 L298.7 353.12 L299.2 352.26 L299.7 351.46 L300.2 350.8 L300.7 350.35 L301.2 350.19 L301.7 350.33 L302.2 350.75 L302.7 351.39 L303.2 352.16 L303.7 352.99 L304.2 353.81 L304.7 354.59 L305.2 355.29 L305.7 355.91 L306.2 356.46 L306.7 356.94 L307.2 357.34 L307.7 357.69 L308.2 357.99 L308.7 358.24 L309.2 358.45 L309.7 358.63 L310.2 358.78 L310.7 358.9 L311.2 359 L311.7 359.07 L312.2 359.13 L312.7 359.17 L313.2 359.18 L313.7 359.18 L314.2 359.17 L314.7 359.13 L315.2 359.07 L315.7 359 L316.2 358.9 L316.7 358.78 L317.2 358.63 L317.7 358.45 L318.2 358.24 L318.7 357.99 L319.2 357.69 L319.7 357.34 L320.2 356.94 L320.7 356.46 L321.2 355.91 L321.7 355.29 L322.2 354.59 L322.7 353.81 L323.2 352.99 L323.7 352.16 L324.2 351.39 L324.7 350.75 L325.2 350.33 L325.7 350.19 L326.2 350.35 L326.7 350.8 L327.2 351.46 L327.7 352.26 L328.2 353.12 L328.7 353.97 L329.2 354.77 L329.7 355.5 L330.2 356.15 L330.7 356.73 L331.2 357.24 L331.7 357.68 L332.2 358.06 L332.7 358.4 L333.2 358.69 L333.7 358.94 L334.2 359.17 L334.7 359.36 L335.2 359.54 L335.7 359.69 L336.2 359.83 L336.7 359.95 L337.2 360.06 L337.7 360.16 L338.2 360.24 L338.7 360.32 L339.2 360.4 L339.7 360.46 L340.2 360.52 L340.7 360.58 L341.2 360.63 L341.7 360.67 L342.2 360.72 L342.7 360.76 L343.2 360.79 L343.7 360.83 L344.2 360.86 L344.7 360.89 L345.2 360.91 L345.7 360.94 L346.2 360.96 L346.7 360.98 L347.2 361 L347.7 361.02 L348.2 361.04 L348.7 361.06 L349.2 361.08 L349.7 361.09 L350.2 361.11 L350.7 361.12 L351.2 361.13 L351.7 361.14 L352.2 361.16 L352.7 361.17 L353.2 361.18 L353.7 361.19 L354.2 361.2 L354.7 361.21 L355.2 361.22 L355.7 361.22 L356.2 361.23 L356.7 361.24 L357.2 361.25 L357.7 361.25 L358.2 361.26 L358.7 361.27 L359.2 361.27 L359.7 361.28 L360.2 361.28 L360.7 361.29 L361.2 361.29 L361.7 361.3 L362.2 361.3 L362.7 361.31 L363.2 361.31 L363.7 361.32 L364.2 361.32 L364.7 361.33 L365.2 361.33 L365.7 361.33 L366.2 361.34 L366.7 361.34 L367.2 361.34 L367.7 361.35 L368.2 361.35 L368.7 361.35 L369.2 361.36 L369.7 361.36 L370.2 361.36 L370.7 361.36 L371.2 361.37 L371.7 361.37 L372.2 361.37 L372.7 361.38 L373.2 361.38 L373.7 361.38 L374.2 361.38 L374.7 361.38 L375.2 361.39 L375.7 361.39 L376.2 361.39 L376.7 361.39 L377.2 361.39 L377.7 361.4 L378.2 361.4 L378.7 361.4 L379.2 361.4 L379.7 361.4 L380.2 361.4 L380.7 361.41 L381.2 361.41 L381.7 361.41 L382.2 361.41 L382.7 361.41 L383.2 361.41 L383.7 361.41 L384.2 361.42 L384.7 361.42 L385.2 361.42 L385.7 361.42 L386.2 361.42 L386.7 361.42 L387.2 361.42 L387.7 361.42 L388.2 361.42 L388.7 361.43 L389.2 361.43 L389.7 361.43 L390.2 361.43 L390.7 361.43 L391.2 361.43 L391.7 361.43 L392.2 361.43 L392.7 361.43 L393.2 361.43 L393.7 361.44 L394.2 361.44 L394.7 361.44 L395.2 361.44 L395.7 361.44 L396.2 361.44 L396.7 361.44 L397.2 361.44 L397.7 361.44 L398.2 361.44 L398.7 361.44 L399.2 361.44 L399.7 361.44 L400.2 361.45 L400.7 361.45 L401.2 361.45 L401.7 361.45 L402.2 361.45 L402.7 361.45 L403.2 361.45 L403.7 361.45 L404.2 361.45 L404.7 361.45 L405.2 361.45 L405.7 361.45 L406.2 361.45 L406.7 361.45 L407.2 361.45 L407.7 361.45 L408.2 361.45 L408.7 361.46 L409.2 361.46 L409.7 361.46 L410.2 361.46 L410.7 361.46 L411.2 361.46 L411.7 361.46 L412.2 361.46 L412.7 361.46 L413.2 361.46 L413.7 361.46 L414.2 361.46 L414.7 361.46 L415.2 361.46 L415.7 361.46 L416.2 361.46 L416.7 361.46 L417.2 361.46 L417.7 361.46 L418.2 361.46 L418.7 361.46 L419.2 361.46 L419.7 361.46 L420.2 361.46 L420.7 361.46 L421.2 361.47 L421.7 361.47 L422.2 361.47 L422.7 361.47 L423.2 361.47 L423.7 361.47 L424.2 361.47 L424.7 361.47 L425.2 361.47 L425.7 361.47 L426.2 361.47 L426.7 361.47 L427.2 361.47 L427.7 361.47 L428.2 361.47 L428.7 361.47 L429.2 361.47 L429.7 361.47 L430.2 361.47 L430.7 361.47 L431.2 361.47 L431.7 361.47 L432.2 361.47 L432.7 361.47 L433.2 361.47 L433.7 361.47 L434.2 361.47 L434.7 361.47 L435.2 361.47 L435.7 361.47 L436.2 361.47 L436.7 361.47 L437.2 361.47 L437.7 361.47 L438.2 361.47 L438.7 361.47 L439.2 361.47 L439.7 361.47 L440.2 361.48 L440.7 361.48 L441.2 361.48 L441.7 361.48 L442.2 361.48 L442.7 361.48 L443.2 361.48 L443.7 361.48 L444.2 361.48 L444.7 361.48 L445.2 361.48 L445.7 361.48 L446.2 361.48 L446.7 361.48 L447.2 361.48 L447.7 361.48 L448.2 361.48 L448.7 361.48 L449.2 361.48 L449.7 361.48 L450.2 361.48 L450.7 361.48 L451.2 361.48 L451.7 361.48 L452.2 361.48 L452.7 361.48 L453.2 361.48 L453.7 361.48 L454.2 361.48 L454.7 361.48 L455.2 361.48 L455.7 361.48 L456.2 361.48 L456.7 361.48 L457.2 361.48 L457.7 361.48 L458.2 361.48 L458.7 361.48 L459.2 361.48 L459.7 361.48 L460.2 361.48 L460.7 361.48 L461.2 361.48 L461.7 361.48 L462.2 361.48 L462.7 361.48 L463.2 361.48 L463.7 361.48 L464.2 361.48 L464.7 361.48 L465.2 361.48 L465.7 361.48 L466.2 361.48 L466.7 361.48 L467.2 361.48 L467.7 361.48 L468.2 361.48 L468.7 361.48 L469.2 361.48 L469.7 361.48 L470.2 361.48 L470.7 361.48 L471.2 361.48 L471.7 361.48 L472.2 361.48 L472.7 361.48 L473.2 361.48 L473.7 361.48 L474.2 361.48 L474.7 361.48 L475.2 361.48 L475.7 361.49 L476.2 361.49 L476.7 361.49 L477.2 361.49 L477.7 361.49 L478.2 361.49 L478.7 361.49 L479.2 361.49 L479.7 361.49 L480.2 361.49 L480.7 361.49 L481.2 361.49 L481.7 361.49 L482.2 361.49 L482.7 361.49 L483.2 361.49 L483.7 361.49 L484.2 361.49 L484.7 361.49 L485.2 361.49 L485.7 361.49 L486.2 361.49 L486.7 361.49 L487.2 361.49 L487.7 361.49 L488.2 361.49 L488.7 361.49 L489.2 361.49 L489.7 361.49 L490.2 361.49 L490.7 361.49 L491.2 361.49 L491.7 361.49 L492.2 361.49 L492.7 361.49 L493.2 361.49 L493.7 361.49 L494.2 361.49 L494.7 361.49 L495.2 361.49 L495.7 361.49 L496.2 361.49 L496.7 361.49 L497.2 361.49 L497.7 361.49 L498.2 361.49 L498.7 361.49 L499.2 361.49 L499.7 361.49 L500.2 361.49 L500.7 361.49 L501.2 361.49 L501.7 361.49 L502.2 361.49 L502.7 361.49 L503.2 361.49 L503.7 361.49 L504.2 361.49 L504.7 361.49 L505.2 361.49 L505.7 361.49 L506.2 361.49" fill="none" stroke="#0f62a8" stroke-width="1.6"/>
<path d="M104.7 360.94 L105.2 360.94 L105.7 360.94 L106.2 360.94 L106.7 360.93 L107.2 360.93 L107.7 360.93 L108.2 360.93 L108.7 360.92 L109.2 360.92 L109.7 360.92 L110.2 360.92 L110.7 360.91 L111.2 360.91 L111.7 360.91 L112.2 360.9 L112.7 360.9 L113.2 360.9 L113.7 360.89 L114.2 360.89 L114.7 360.89 L115.2 360.88 L115.7 360.88 L116.2 360.88 L116.7 360.87 L117.2 360.87 L117.7 360.87 L118.2 360.86 L118.7 360.86 L119.2 360.86 L119.7 360.85 L120.2 360.85 L120.7 360.84 L121.2 360.84 L121.7 360.83 L122.2 360.83 L122.7 360.82 L123.2 360.82 L123.7 360.82 L124.2 360.81 L124.7 360.81 L125.2 360.8 L125.7 360.79 L126.2 360.79 L126.7 360.78 L127.2 360.78 L127.7 360.77 L128.2 360.77 L128.7 360.76 L129.2 360.75 L129.7 360.75 L130.2 360.74 L130.7 360.73 L131.2 360.73 L131.7 360.72 L132.2 360.71 L132.7 360.7 L133.2 360.7 L133.7 360.69 L134.2 360.68 L134.7 360.67 L135.2 360.66 L135.7 360.65 L136.2 360.64 L136.7 360.64 L137.2 360.63 L137.7 360.61 L138.2 360.6 L138.7 360.59 L139.2 360.58 L139.7 360.57 L140.2 360.56 L140.7 360.55 L141.2 360.53 L141.7 360.52 L142.2 360.51 L142.7 360.49 L143.2 360.48 L143.7 360.46 L144.2 360.45 L144.7 360.43 L145.2 360.41 L145.7 360.4 L146.2 360.38 L146.7 360.36 L147.2 360.34 L147.7 360.32 L148.2 360.29 L148.7 360.27 L149.2 360.25 L149.7 360.22 L150.2 360.2 L150.7 360.17 L151.2 360.14 L151.7 360.11 L152.2 360.08 L152.7 360.05 L153.2 360.02 L153.7 359.98 L154.2 359.94 L154.7 359.91 L155.2 359.86 L155.7 359.82 L156.2 359.78 L156.7 359.73 L157.2 359.68 L157.7 359.62 L158.2 359.57 L158.7 359.51 L159.2 359.45 L159.7 359.38 L160.2 359.31 L160.7 359.23 L161.2 359.15 L161.7 359.07 L162.2 358.98 L162.7 358.89 L163.2 358.79 L163.7 358.68 L164.2 358.57 L164.7 358.45 L165.2 358.32 L165.7 358.18 L166.2 358.04 L166.7 357.88 L167.2 357.72 L167.7 357.55 L168.2 357.37 L168.7 357.18 L169.2 356.98 L169.7 356.77 L170.2 356.55 L170.7 356.32 L171.2 356.08 L171.7 355.84 L172.2 355.6 L172.7 355.36 L173.2 355.12 L173.7 354.88 L174.2 354.65 L174.7 354.44 L175.2 354.25 L175.7 354.09 L176.2 353.95 L176.7 353.84 L177.2 353.77 L177.7 353.74 L178.2 353.74 L178.7 353.79 L179.2 353.87 L179.7 353.98 L180.2 354.12 L180.7 354.29 L181.2 354.48 L181.7 354.69 L182.2 354.91 L182.7 355.14 L183.2 355.37 L183.7 355.6 L184.2 355.83 L184.7 356.05 L185.2 356.27 L185.7 356.48 L186.2 356.68 L186.7 356.87 L187.2 357.05 L187.7 357.22 L188.2 357.38 L188.7 357.53 L189.2 357.67 L189.7 357.81 L190.2 357.93 L190.7 358.05 L191.2 358.15 L191.7 358.25 L192.2 358.34 L192.7 358.43 L193.2 358.51 L193.7 358.58 L194.2 358.65 L194.7 358.71 L195.2 358.77 L195.7 358.82 L196.2 358.87 L196.7 358.91 L197.2 358.95 L197.7 358.98 L198.2 359.01 L198.7 359.04 L199.2 359.06 L199.7 359.08 L200.2 359.1 L200.7 359.11 L201.2 359.13 L201.7 359.13 L202.2 359.14 L202.7 359.14 L203.2 359.14 L203.7 359.13 L204.2 359.13 L204.7 359.12 L205.2 359.1 L205.7 359.09 L206.2 359.07 L206.7 359.04 L207.2 359.02 L207.7 358.99 L208.2 358.96 L208.7 358.92 L209.2 358.88 L209.7 358.84 L210.2 358.79 L210.7 358.73 L211.2 358.68 L211.7 358.61 L212.2 358.55 L212.7 358.47 L213.2 358.4 L213.7 358.31 L214.2 358.22 L214.7 358.12 L215.2 358.02 L215.7 357.9 L216.2 357.78 L216.7 357.65 L217.2 357.51 L217.7 357.36 L218.2 357.19 L218.7 357.02 L219.2 356.83 L219.7 356.63 L220.2 356.42 L220.7 356.19 L221.2 355.95 L221.7 355.69 L222.2 355.42 L222.7 355.14 L223.2 354.84 L223.7 354.53 L224.2 354.21 L224.7 353.88 L225.2 353.55 L225.7 353.21 L226.2 352.89 L226.7 352.57 L227.2 352.27 L227.7 351.99 L228.2 351.75 L228.7 351.55 L229.2 351.39 L229.7 351.28 L230.2 351.23 L230.7 351.24 L231.2 351.3 L231.7 351.42 L232.2 351.58 L232.7 351.8 L233.2 352.05 L233.7 352.33 L234.2 352.63 L234.7 352.95 L235.2 353.28 L235.7 353.61 L236.2 353.95 L236.7 354.27 L237.2 354.59 L237.7 354.9 L238.2 355.2 L238.7 355.48 L239.2 355.75 L239.7 356 L240.2 356.24 L240.7 356.47 L241.2 356.68 L241.7 356.88 L242.2 357.06 L242.7 357.24 L243.2 357.4 L243.7 357.55 L244.2 357.69 L244.7 357.82 L245.2 357.95 L245.7 358.06 L246.2 358.17 L246.7 358.27 L247.2 358.36 L247.7 358.45 L248.2 358.53 L248.7 358.61 L249.2 358.68 L249.7 358.75 L250.2 358.81 L250.7 358.87 L251.2 358.92 L251.7 358.97 L252.2 359.02 L252.7 359.06 L253.2 359.1 L253.7 359.14 L254.2 359.18 L254.7 359.21 L255.2 359.24 L255.7 359.27 L256.2 359.29 L256.7 359.32 L257.2 359.34 L257.7 359.36 L258.2 359.38 L258.7 359.39 L259.2 359.41 L259.7 359.42 L260.2 359.43 L260.7 359.44 L261.2 359.45 L261.7 359.46 L262.2 359.46 L262.7 359.46 L263.2 359.47 L263.7 359.47 L264.2 359.46 L264.7 359.46 L265.2 359.46 L265.7 359.45 L266.2 359.44 L266.7 359.43 L267.2 359.42 L267.7 359.41 L268.2 359.39 L268.7 359.38 L269.2 359.36 L269.7 359.34 L270.2 359.31 L270.7 359.29 L271.2 359.26 L271.7 359.23 L272.2 359.19 L272.7 359.15 L273.2 359.11 L273.7 359.07 L274.2 359.03 L274.7 358.98 L275.2 358.92 L275.7 358.87 L276.2 358.81 L276.7 358.74 L277.2 358.68 L277.7 358.61 L278.2 358.54 L278.7 358.47 L279.2 358.39 L279.7 358.32 L280.2 358.25 L280.7 358.19 L281.2 358.13 L281.7 358.07 L282.2 358.02 L282.7 357.99 L283.2 357.96 L283.7 357.94 L284.2 357.94 L284.7 357.95 L285.2 357.97 L285.7 358 L286.2 358.04 L286.7 358.09 L287.2 358.15 L287.7 358.21 L288.2 358.28 L288.7 358.34 L289.2 358.41 L289.7 358.48 L290.2 358.55 L290.7 358.61 L291.2 358.67 L291.7 358.73 L292.2 358.79 L292.7 358.85 L293.2 358.9 L293.7 358.94 L294.2 358.99 L294.7 359.03 L295.2 359.07 L295.7 359.1 L296.2 359.13 L296.7 359.16 L297.2 359.19 L297.7 359.21 L298.2 359.23 L298.7 359.25 L299.2 359.27 L299.7 359.28 L300.2 359.3 L300.7 359.31 L301.2 359.32 L301.7 359.32 L302.2 359.33 L302.7 359.33 L303.2 359.33 L303.7 359.33 L304.2 359.33 L304.7 359.33 L305.2 359.32 L305.7 359.32 L306.2 359.31 L306.7 359.3 L307.2 359.29 L307.7 359.27 L308.2 359.26 L308.7 359.24 L309.2 359.22 L309.7 359.19 L310.2 359.17 L310.7 359.14 L311.2 359.11 L311.7 359.07 L312.2 359.04 L312.7 359 L313.2 358.95 L313.7 358.91 L314.2 358.86 L314.7 358.8 L315.2 358.75 L315.7 358.69 L316.2 358.62 L316.7 358.56 L317.2 358.49 L317.7 358.42 L318.2 358.36 L318.7 358.29 L319.2 358.22 L319.7 358.16 L320.2 358.1 L320.7 358.05 L321.2 358.01 L321.7 357.97 L322.2 357.95 L322.7 357.94 L323.2 357.94 L323.7 357.95 L324.2 357.98 L324.7 358.01 L325.2 358.06 L325.7 358.11 L326.2 358.17 L326.7 358.23 L327.2 358.3 L327.7 358.37 L328.2 358.44 L328.7 358.52 L329.2 358.59 L329.7 358.65 L330.2 358.72 L330.7 358.78 L331.2 358.84 L331.7 358.9 L332.2 358.95 L332.7 359 L333.2 359.05 L333.7 359.09 L334.2 359.13 L334.7 359.17 L335.2 359.2 L335.7 359.23 L336.2 359.26 L336.7 359.29 L337.2 359.31 L337.7 359.33 L338.2 359.35 L338.7 359.37 L339.2 359.38 L339.7 359.39 L340.2 359.4 L340.7 359.41 L341.2 359.42 L341.7 359.42 L342.2 359.43 L342.7 359.43 L343.2 359.43 L343.7 359.43 L344.2 359.42 L344.7 359.42 L345.2 359.41 L345.7 359.4 L346.2 359.39 L346.7 359.38 L347.2 359.37 L347.7 359.35 L348.2 359.33 L348.7 359.31 L349.2 359.29 L349.7 359.27 L350.2 359.24 L350.7 359.21 L351.2 359.18 L351.7 359.15 L352.2 359.12 L352.7 359.08 L353.2 359.04 L353.7 358.99 L354.2 358.95 L354.7 358.89 L355.2 358.84 L355.7 358.78 L356.2 358.72 L356.7 358.65 L357.2 358.58 L357.7 358.5 L358.2 358.42 L358.7 358.33 L359.2 358.24 L359.7 358.14 L360.2 358.03 L360.7 357.91 L361.2 357.79 L361.7 357.65 L362.2 357.51 L362.7 357.36 L363.2 357.19 L363.7 357.02 L364.2 356.83 L364.7 356.63 L365.2 356.41 L365.7 356.18 L366.2 355.94 L366.7 355.69 L367.2 355.41 L367.7 355.13 L368.2 354.83 L368.7 354.52 L369.2 354.2 L369.7 353.87 L370.2 353.54 L370.7 353.2 L371.2 352.88 L371.7 352.56 L372.2 352.26 L372.7 351.98 L373.2 351.74 L373.7 351.54 L374.2 351.38 L374.7 351.27 L375.2 351.22 L375.7 351.23 L376.2 351.29 L376.7 351.41 L377.2 351.58 L377.7 351.79 L378.2 352.04 L378.7 352.32 L379.2 352.62 L379.7 352.94 L380.2 353.27 L380.7 353.6 L381.2 353.94 L381.7 354.26 L382.2 354.58 L382.7 354.89 L383.2 355.18 L383.7 355.47 L384.2 355.73 L384.7 355.99 L385.2 356.23 L385.7 356.45 L386.2 356.66 L386.7 356.86 L387.2 357.04 L387.7 357.21 L388.2 357.37 L388.7 357.52 L389.2 357.66 L389.7 357.79 L390.2 357.91 L390.7 358.02 L391.2 358.12 L391.7 358.22 L392.2 358.31 L392.7 358.39 L393.2 358.47 L393.7 358.54 L394.2 358.61 L394.7 358.67 L395.2 358.72 L395.7 358.77 L396.2 358.82 L396.7 358.86 L397.2 358.9 L397.7 358.93 L398.2 358.96 L398.7 358.99 L399.2 359.02 L399.7 359.04 L400.2 359.05 L400.7 359.07 L401.2 359.08 L401.7 359.09 L402.2 359.09 L402.7 359.09 L403.2 359.09 L403.7 359.09 L404.2 359.08 L404.7 359.07 L405.2 359.05 L405.7 359.04 L406.2 359.02 L406.7 358.99 L407.2 358.96 L407.7 358.93 L408.2 358.9 L408.7 358.86 L409.2 358.81 L409.7 358.76 L410.2 358.71 L410.7 358.65 L411.2 358.59 L411.7 358.52 L412.2 358.44 L412.7 358.36 L413.2 358.27 L413.7 358.17 L414.2 358.07 L414.7 357.96 L415.2 357.84 L415.7 357.71 L416.2 357.57 L416.7 357.43 L417.2 357.27 L417.7 357.1 L418.2 356.93 L418.7 356.74 L419.2 356.54 L419.7 356.34 L420.2 356.12 L420.7 355.9 L421.2 355.68 L421.7 355.45 L422.2 355.22 L422.7 354.99 L423.2 354.77 L423.7 354.55 L424.2 354.36 L424.7 354.18 L425.2 354.02 L425.7 353.9 L426.2 353.8 L426.7 353.75 L427.2 353.72 L427.7 353.74 L428.2 353.8 L428.7 353.89 L429.2 354.02 L429.7 354.17 L430.2 354.36 L430.7 354.56 L431.2 354.78 L431.7 355.01 L432.2 355.25 L432.7 355.5 L433.2 355.74 L433.7 355.98 L434.2 356.22 L434.7 356.45 L435.2 356.67 L435.7 356.89 L436.2 357.09 L436.7 357.29 L437.2 357.47 L437.7 357.65 L438.2 357.81 L438.7 357.97 L439.2 358.12 L439.7 358.26 L440.2 358.39 L440.7 358.51 L441.2 358.63 L441.7 358.74 L442.2 358.84 L442.7 358.94 L443.2 359.03 L443.7 359.12 L444.2 359.2 L444.7 359.27 L445.2 359.35 L445.7 359.41 L446.2 359.48 L446.7 359.54 L447.2 359.6 L447.7 359.65 L448.2 359.7 L448.7 359.75 L449.2 359.8 L449.7 359.84 L450.2 359.89 L450.7 359.93 L451.2 359.96 L451.7 360 L452.2 360.03 L452.7 360.07 L453.2 360.1 L453.7 360.13 L454.2 360.16 L454.7 360.18 L455.2 360.21 L455.7 360.24 L456.2 360.26 L456.7 360.28 L457.2 360.3 L457.7 360.33 L458.2 360.35 L458.7 360.37 L459.2 360.38 L459.7 360.4 L460.2 360.42 L460.7 360.44 L461.2 360.45 L461.7 360.47 L462.2 360.48 L462.7 360.5 L463.2 360.51 L463.7 360.53 L464.2 360.54 L464.7 360.55 L465.2 360.56 L465.7 360.58 L466.2 360.59 L466.7 360.6 L467.2 360.61 L467.7 360.62 L468.2 360.63 L468.7 360.64 L469.2 360.65 L469.7 360.66 L470.2 360.67 L470.7 360.67 L471.2 360.68 L471.7 360.69 L472.2 360.7 L472.7 360.71 L473.2 360.71 L473.7 360.72 L474.2 360.73 L474.7 360.74 L475.2 360.74 L475.7 360.75 L476.2 360.76 L476.7 360.76 L477.2 360.77 L477.7 360.77 L478.2 360.78 L478.7 360.79 L479.2 360.79 L479.7 360.8 L480.2 360.8 L480.7 360.81 L481.2 360.81 L481.7 360.82 L482.2 360.82 L482.7 360.83 L483.2 360.83 L483.7 360.83 L484.2 360.84 L484.7 360.84 L485.2 360.85 L485.7 360.85 L486.2 360.86 L486.7 360.86 L487.2 360.86 L487.7 360.87 L488.2 360.87 L488.7 360.87 L489.2 360.88 L489.7 360.88 L490.2 360.89 L490.7 360.89 L491.2 360.89 L491.7 360.9 L492.2 360.9 L492.7 360.9 L493.2 360.9 L493.7 360.91 L494.2 360.91 L494.7 360.91 L495.2 360.92 L495.7 360.92 L496.2 360.92 L496.7 360.92 L497.2 360.93 L497.7 360.93 L498.2 360.93 L498.7 360.93 L499.2 360.94 L499.7 360.94 L500.2 360.94 L500.7 360.94 L501.2 360.95 L501.7 360.95 L502.2 360.95 L502.7 360.95 L503.2 360.96 L503.7 360.96 L504.2 360.96 L504.7 360.96 L505.2 360.96 L505.7 360.97 L506.2 360.97" fill="none" stroke="#10dc10" stroke-width="1.8"/>
<path d="M104.7 361.19 L105.2 361.19 L105.7 361.19 L106.2 361.18 L106.7 361.18 L107.2 361.18 L107.7 361.18 L108.2 361.18 L108.7 361.18 L109.2 361.18 L109.7 361.18 L110.2 361.18 L110.7 361.18 L111.2 361.18 L111.7 361.18 L112.2 361.18 L112.7 361.18 L113.2 361.18 L113.7 361.18 L114.2 361.17 L114.7 361.17 L115.2 361.17 L115.7 361.17 L116.2 361.17 L116.7 361.17 L117.2 361.17 L117.7 361.17 L118.2 361.17 L118.7 361.17 L119.2 361.17 L119.7 361.17 L120.2 361.17 L120.7 361.17 L121.2 361.16 L121.7 361.16 L122.2 361.16 L122.7 361.16 L123.2 361.16 L123.7 361.16 L124.2 361.16 L124.7 361.16 L125.2 361.16 L125.7 361.16 L126.2 361.16 L126.7 361.16 L127.2 361.16 L127.7 361.15 L128.2 361.15 L128.7 361.15 L129.2 361.15 L129.7 361.15 L130.2 361.15 L130.7 361.15 L131.2 361.15 L131.7 361.15 L132.2 361.15 L132.7 361.15 L133.2 361.15 L133.7 361.14 L134.2 361.14 L134.7 361.14 L135.2 361.14 L135.7 361.14 L136.2 361.14 L136.7 361.14 L137.2 361.14 L137.7 361.14 L138.2 361.14 L138.7 361.13 L139.2 361.13 L139.7 361.13 L140.2 361.13 L140.7 361.13 L141.2 361.13 L141.7 361.13 L142.2 361.13 L142.7 361.13 L143.2 361.13 L143.7 361.12 L144.2 361.12 L144.7 361.12 L145.2 361.12 L145.7 361.12 L146.2 361.12 L146.7 361.12 L147.2 361.12 L147.7 361.11 L148.2 361.11 L148.7 361.11 L149.2 361.11 L149.7 361.11 L150.2 361.11 L150.7 361.11 L151.2 361.11 L151.7 361.11 L152.2 361.1 L152.7 361.1 L153.2 361.1 L153.7 361.1 L154.2 361.1 L154.7 361.1 L155.2 361.1 L155.7 361.09 L156.2 361.09 L156.7 361.09 L157.2 361.09 L157.7 361.09 L158.2 361.09 L158.7 361.09 L159.2 361.08 L159.7 361.08 L160.2 361.08 L160.7 361.08 L161.2 361.08 L161.7 361.08 L162.2 361.07 L162.7 361.07 L163.2 361.07 L163.7 361.07 L164.2 361.07 L164.7 361.07 L165.2 361.07 L165.7 361.06 L166.2 361.06 L166.7 361.06 L167.2 361.06 L167.7 361.06 L168.2 361.05 L168.7 361.05 L169.2 361.05 L169.7 361.05 L170.2 361.05 L170.7 361.05 L171.2 361.04 L171.7 361.04 L172.2 361.04 L172.7 361.04 L173.2 361.04 L173.7 361.03 L174.2 361.03 L174.7 361.03 L175.2 361.03 L175.7 361.03 L176.2 361.02 L176.7 361.02 L177.2 361.02 L177.7 361.02 L178.2 361.01 L178.7 361.01 L179.2 361.01 L179.7 361.01 L180.2 361 L180.7 361 L181.2 361 L181.7 361 L182.2 360.99 L182.7 360.99 L183.2 360.99 L183.7 360.99 L184.2 360.98 L184.7 360.98 L185.2 360.98 L185.7 360.98 L186.2 360.97 L186.7 360.97 L187.2 360.97 L187.7 360.97 L188.2 360.96 L188.7 360.96 L189.2 360.96 L189.7 360.95 L190.2 360.95 L190.7 360.95 L191.2 360.94 L191.7 360.94 L192.2 360.94 L192.7 360.93 L193.2 360.93 L193.7 360.93 L194.2 360.92 L194.7 360.92 L195.2 360.92 L195.7 360.91 L196.2 360.91 L196.7 360.91 L197.2 360.9 L197.7 360.9 L198.2 360.9 L198.7 360.89 L199.2 360.89 L199.7 360.88 L200.2 360.88 L200.7 360.88 L201.2 360.87 L201.7 360.87 L202.2 360.86 L202.7 360.86 L203.2 360.85 L203.7 360.85 L204.2 360.85 L204.7 360.84 L205.2 360.84 L205.7 360.83 L206.2 360.83 L206.7 360.82 L207.2 360.82 L207.7 360.81 L208.2 360.81 L208.7 360.8 L209.2 360.8 L209.7 360.79 L210.2 360.78 L210.7 360.78 L211.2 360.77 L211.7 360.77 L212.2 360.76 L212.7 360.76 L213.2 360.75 L213.7 360.74 L214.2 360.74 L214.7 360.73 L215.2 360.72 L215.7 360.72 L216.2 360.71 L216.7 360.71 L217.2 360.7 L217.7 360.69 L218.2 360.68 L218.7 360.68 L219.2 360.67 L219.7 360.66 L220.2 360.65 L220.7 360.65 L221.2 360.64 L221.7 360.63 L222.2 360.62 L222.7 360.61 L223.2 360.61 L223.7 360.6 L224.2 360.59 L224.7 360.58 L225.2 360.57 L225.7 360.56 L226.2 360.55 L226.7 360.54 L227.2 360.53 L227.7 360.52 L228.2 360.51 L228.7 360.5 L229.2 360.49 L229.7 360.48 L230.2 360.47 L230.7 360.46 L231.2 360.44 L231.7 360.43 L232.2 360.42 L232.7 360.41 L233.2 360.39 L233.7 360.38 L234.2 360.37 L234.7 360.35 L235.2 360.34 L235.7 360.33 L236.2 360.31 L236.7 360.3 L237.2 360.28 L237.7 360.27 L238.2 360.25 L238.7 360.23 L239.2 360.22 L239.7 360.2 L240.2 360.18 L240.7 360.17 L241.2 360.15 L241.7 360.13 L242.2 360.11 L242.7 360.09 L243.2 360.07 L243.7 360.05 L244.2 360.03 L244.7 360.01 L245.2 359.99 L245.7 359.96 L246.2 359.94 L246.7 359.92 L247.2 359.89 L247.7 359.87 L248.2 359.84 L248.7 359.81 L249.2 359.79 L249.7 359.76 L250.2 359.73 L250.7 359.7 L251.2 359.67 L251.7 359.64 L252.2 359.61 L252.7 359.57 L253.2 359.54 L253.7 359.5 L254.2 359.47 L254.7 359.43 L255.2 359.39 L255.7 359.35 L256.2 359.31 L256.7 359.27 L257.2 359.22 L257.7 359.18 L258.2 359.13 L258.7 359.08 L259.2 359.03 L259.7 358.98 L260.2 358.93 L260.7 358.87 L261.2 358.82 L261.7 358.76 L262.2 358.7 L262.7 358.63 L263.2 358.57 L263.7 358.5 L264.2 358.43 L264.7 358.35 L265.2 358.28 L265.7 358.2 L266.2 358.12 L266.7 358.03 L267.2 357.94 L267.7 357.85 L268.2 357.75 L268.7 357.65 L269.2 357.54 L269.7 357.43 L270.2 357.32 L270.7 357.2 L271.2 357.07 L271.7 356.94 L272.2 356.8 L272.7 356.66 L273.2 356.51 L273.7 356.35 L274.2 356.18 L274.7 356.01 L275.2 355.82 L275.7 355.63 L276.2 355.42 L276.7 355.21 L277.2 354.98 L277.7 354.74 L278.2 354.48 L278.7 354.21 L279.2 353.93 L279.7 353.62 L280.2 353.3 L280.7 352.96 L281.2 352.59 L281.7 352.2 L282.2 351.79 L282.7 351.34 L283.2 350.86 L283.7 350.35 L284.2 349.8 L284.7 349.21 L285.2 348.57 L285.7 347.89 L286.2 347.14 L286.7 346.33 L287.2 345.46 L287.7 344.5 L288.2 343.46 L288.7 342.32 L289.2 341.07 L289.7 339.7 L290.2 338.18 L290.7 336.51 L291.2 334.66 L291.7 332.59 L292.2 330.29 L292.7 327.71 L293.2 324.81 L293.7 321.54 L294.2 317.83 L294.7 313.62 L295.2 308.81 L295.7 303.3 L296.2 296.96 L296.7 289.63 L297.2 281.15 L297.7 271.29 L298.2 259.83 L298.7 246.51 L299.2 231.07 L299.7 213.3 L300.2 193.12 L300.7 170.69 L301.2 146.6 L301.7 122.08 L302.2 99.09 L302.7 80.27 L303.2 68.38 L303.7 65.49 L304.2 72.14 L304.7 87.11 L305.2 107.94 L305.7 131.83 L306.2 156.38 L306.7 179.91 L307.2 201.48 L307.7 220.7 L308.2 237.51 L308.7 252.08 L309.2 264.62 L309.7 275.41 L310.2 284.69 L310.7 292.69 L311.2 299.6 L311.7 305.59 L312.2 310.81 L312.7 315.37 L313.2 319.37 L313.7 322.89 L314.2 326.01 L314.7 328.77 L315.2 331.24 L315.7 333.44 L316.2 335.42 L316.7 337.2 L317.2 338.81 L317.7 340.26 L318.2 341.59 L318.7 342.79 L319.2 343.89 L319.7 344.89 L320.2 345.82 L320.7 346.66 L321.2 347.45 L321.7 348.17 L322.2 348.83 L322.7 349.45 L323.2 350.03 L323.7 350.56 L324.2 351.06 L324.7 351.52 L325.2 351.95 L325.7 352.36 L326.2 352.74 L326.7 353.1 L327.2 353.43 L327.7 353.75 L328.2 354.04 L328.7 354.32 L329.2 354.59 L329.7 354.84 L330.2 355.07 L330.7 355.29 L331.2 355.51 L331.7 355.71 L332.2 355.9 L332.7 356.08 L333.2 356.25 L333.7 356.41 L334.2 356.57 L334.7 356.72 L335.2 356.86 L335.7 356.99 L336.2 357.12 L336.7 357.25 L337.2 357.37 L337.7 357.48 L338.2 357.59 L338.7 357.69 L339.2 357.79 L339.7 357.89 L340.2 357.98 L340.7 358.06 L341.2 358.15 L341.7 358.23 L342.2 358.31 L342.7 358.38 L343.2 358.46 L343.7 358.53 L344.2 358.59 L344.7 358.66 L345.2 358.72 L345.7 358.78 L346.2 358.84 L346.7 358.9 L347.2 358.95 L347.7 359 L348.2 359.05 L348.7 359.1 L349.2 359.15 L349.7 359.2 L350.2 359.24 L350.7 359.28 L351.2 359.33 L351.7 359.37 L352.2 359.41 L352.7 359.44 L353.2 359.48 L353.7 359.52 L354.2 359.55 L354.7 359.59 L355.2 359.62 L355.7 359.65 L356.2 359.68 L356.7 359.71 L357.2 359.74 L357.7 359.77 L358.2 359.8 L358.7 359.82 L359.2 359.85 L359.7 359.88 L360.2 359.9 L360.7 359.93 L361.2 359.95 L361.7 359.97 L362.2 359.99 L362.7 360.02 L363.2 360.04 L363.7 360.06 L364.2 360.08 L364.7 360.1 L365.2 360.12 L365.7 360.14 L366.2 360.16 L366.7 360.17 L367.2 360.19 L367.7 360.21 L368.2 360.23 L368.7 360.24 L369.2 360.26 L369.7 360.27 L370.2 360.29 L370.7 360.3 L371.2 360.32 L371.7 360.33 L372.2 360.35 L372.7 360.36 L373.2 360.37 L373.7 360.39 L374.2 360.4 L374.7 360.41 L375.2 360.42 L375.7 360.44 L376.2 360.45 L376.7 360.46 L377.2 360.47 L377.7 360.48 L378.2 360.49 L378.7 360.5 L379.2 360.51 L379.7 360.52 L380.2 360.53 L380.7 360.54 L381.2 360.55 L381.7 360.56 L382.2 360.57 L382.7 360.58 L383.2 360.59 L383.7 360.6 L384.2 360.61 L384.7 360.62 L385.2 360.63 L385.7 360.63 L386.2 360.64 L386.7 360.65 L387.2 360.66 L387.7 360.66 L388.2 360.67 L388.7 360.68 L389.2 360.69 L389.7 360.69 L390.2 360.7 L390.7 360.71 L391.2 360.71 L391.7 360.72 L392.2 360.73 L392.7 360.73 L393.2 360.74 L393.7 360.75 L394.2 360.75 L394.7 360.76 L395.2 360.76 L395.7 360.77 L396.2 360.78 L396.7 360.78 L397.2 360.79 L397.7 360.79 L398.2 360.8 L398.7 360.8 L399.2 360.81 L399.7 360.81 L400.2 360.82 L400.7 360.82 L401.2 360.83 L401.7 360.83 L402.2 360.84 L402.7 360.84 L403.2 360.85 L403.7 360.85 L404.2 360.86 L404.7 360.86 L405.2 360.86 L405.7 360.87 L406.2 360.87 L406.7 360.88 L407.2 360.88 L407.7 360.89 L408.2 360.89 L408.7 360.89 L409.2 360.9 L409.7 360.9 L410.2 360.9 L410.7 360.91 L411.2 360.91 L411.7 360.92 L412.2 360.92 L412.7 360.92 L413.2 360.93 L413.7 360.93 L414.2 360.93 L414.7 360.94 L415.2 360.94 L415.7 360.94 L416.2 360.95 L416.7 360.95 L417.2 360.95 L417.7 360.95 L418.2 360.96 L418.7 360.96 L419.2 360.96 L419.7 360.97 L420.2 360.97 L420.7 360.97 L421.2 360.97 L421.7 360.98 L422.2 360.98 L422.7 360.98 L423.2 360.99 L423.7 360.99 L424.2 360.99 L424.7 360.99 L425.2 361 L425.7 361 L426.2 361 L426.7 361 L427.2 361.01 L427.7 361.01 L428.2 361.01 L428.7 361.01 L429.2 361.01 L429.7 361.02 L430.2 361.02 L430.7 361.02 L431.2 361.02 L431.7 361.03 L432.2 361.03 L432.7 361.03 L433.2 361.03 L433.7 361.03 L434.2 361.04 L434.7 361.04 L435.2 361.04 L435.7 361.04 L436.2 361.04 L436.7 361.05 L437.2 361.05 L437.7 361.05 L438.2 361.05 L438.7 361.05 L439.2 361.06 L439.7 361.06 L440.2 361.06 L440.7 361.06 L441.2 361.06 L441.7 361.06 L442.2 361.07 L442.7 361.07 L443.2 361.07 L443.7 361.07 L444.2 361.07 L444.7 361.07 L445.2 361.08 L445.7 361.08 L446.2 361.08 L446.7 361.08 L447.2 361.08 L447.7 361.08 L448.2 361.08 L448.7 361.09 L449.2 361.09 L449.7 361.09 L450.2 361.09 L450.7 361.09 L451.2 361.09 L451.7 361.09 L452.2 361.1 L452.7 361.1 L453.2 361.1 L453.7 361.1 L454.2 361.1 L454.7 361.1 L455.2 361.1 L455.7 361.11 L456.2 361.11 L456.7 361.11 L457.2 361.11 L457.7 361.11 L458.2 361.11 L458.7 361.11 L459.2 361.11 L459.7 361.12 L460.2 361.12 L460.7 361.12 L461.2 361.12 L461.7 361.12 L462.2 361.12 L462.7 361.12 L463.2 361.12 L463.7 361.12 L464.2 361.13 L464.7 361.13 L465.2 361.13 L465.7 361.13 L466.2 361.13 L466.7 361.13 L467.2 361.13 L467.7 361.13 L468.2 361.13 L468.7 361.13 L469.2 361.14 L469.7 361.14 L470.2 361.14 L470.7 361.14 L471.2 361.14 L471.7 361.14 L472.2 361.14 L472.7 361.14 L473.2 361.14 L473.7 361.14 L474.2 361.15 L474.7 361.15 L475.2 361.15 L475.7 361.15 L476.2 361.15 L476.7 361.15 L477.2 361.15 L477.7 361.15 L478.2 361.15 L478.7 361.15 L479.2 361.15 L479.7 361.15 L480.2 361.16 L480.7 361.16 L481.2 361.16 L481.7 361.16 L482.2 361.16 L482.7 361.16 L483.2 361.16 L483.7 361.16 L484.2 361.16 L484.7 361.16 L485.2 361.16 L485.7 361.16 L486.2 361.17 L486.7 361.17 L487.2 361.17 L487.7 361.17 L488.2 361.17 L488.7 361.17 L489.2 361.17 L489.7 361.17 L490.2 361.17 L490.7 361.17 L491.2 361.17 L491.7 361.17 L492.2 361.17 L492.7 361.17 L493.2 361.17 L493.7 361.18 L494.2 361.18 L494.7 361.18 L495.2 361.18 L495.7 361.18 L496.2 361.18 L496.7 361.18 L497.2 361.18 L497.7 361.18 L498.2 361.18 L498.7 361.18 L499.2 361.18 L499.7 361.18 L500.2 361.18 L500.7 361.18 L501.2 361.18 L501.7 361.19 L502.2 361.19 L502.7 361.19 L503.2 361.19 L503.7 361.19 L504.2 361.19 L504.7 361.19 L505.2 361.19 L505.7 361.19 L506.2 361.19" fill="none" stroke="#6610dc" stroke-width="1.85" stroke-linejoin="round"/>
<g stroke="#000" stroke-width="1.65" fill="none" stroke-linecap="butt">
<rect x="59.1" y="11.4" width="487" height="392"/>
<path d="M85.92 11.4L85.92 19.4 M85.92 403.4L85.92 411.4 M140.04 11.4L140.04 19.4 M140.04 403.4L140.04 411.4 M194.16 11.4L194.16 19.4 M194.16 403.4L194.16 411.4 M248.28 11.4L248.28 19.4 M248.28 403.4L248.28 411.4 M302.4 11.4L302.4 19.4 M302.4 403.4L302.4 411.4 M356.52 11.4L356.52 19.4 M356.52 403.4L356.52 411.4 M410.64 11.4L410.64 19.4 M410.64 403.4L410.64 411.4 M464.76 11.4L464.76 19.4 M464.76 403.4L464.76 411.4 M518.88 11.4L518.88 19.4 M518.88 403.4L518.88 411.4 M58.86 11.4L58.86 15.6 M58.86 403.4L58.86 407.6 M112.98 11.4L112.98 15.6 M112.98 403.4L112.98 407.6 M167.1 11.4L167.1 15.6 M167.1 403.4L167.1 407.6 M221.22 11.4L221.22 15.6 M221.22 403.4L221.22 407.6 M275.34 11.4L275.34 15.6 M275.34 403.4L275.34 407.6 M329.46 11.4L329.46 15.6 M329.46 403.4L329.46 407.6 M383.58 11.4L383.58 15.6 M383.58 403.4L383.58 407.6 M437.7 11.4L437.7 15.6 M437.7 403.4L437.7 407.6 M491.82 11.4L491.82 15.6 M491.82 403.4L491.82 407.6 M545.94 11.4L545.94 15.6 M545.94 403.4L545.94 407.6 M51.1 55L59.1 55 M538.1 55L546.1 55 M51.1 142.1L59.1 142.1 M538.1 142.1L546.1 142.1 M51.1 229.2L59.1 229.2 M538.1 229.2L546.1 229.2 M51.1 316.3L59.1 316.3 M538.1 316.3L546.1 316.3 M51.1 403.4L59.1 403.4 M538.1 403.4L546.1 403.4 M54.9 11.4L59.1 11.4 M541.9 11.4L546.1 11.4 M54.9 98.5L59.1 98.5 M541.9 98.5L546.1 98.5 M54.9 185.6L59.1 185.6 M541.9 185.6L546.1 185.6 M54.9 272.7L59.1 272.7 M541.9 272.7L546.1 272.7 M54.9 359.8L59.1 359.8 M541.9 359.8L546.1 359.8"/>
</g>
<text transform="translate(85.92 435) scale(0.97 1)" font-size="24.4" text-anchor="middle">-8</text>
<text transform="translate(140.04 435) scale(0.97 1)" font-size="24.4" text-anchor="middle">-6</text>
<text transform="translate(194.16 435) scale(0.97 1)" font-size="24.4" text-anchor="middle">-4</text>
<text transform="translate(248.28 435) scale(0.97 1)" font-size="24.4" text-anchor="middle">-2</text>
<text transform="translate(302.4 435) scale(0.97 1)" font-size="24.4" text-anchor="middle">0</text>
<text transform="translate(356.52 435) scale(0.97 1)" font-size="24.4" text-anchor="middle">2</text>
<text transform="translate(410.64 435) scale(0.97 1)" font-size="24.4" text-anchor="middle">4</text>
<text transform="translate(464.76 435) scale(0.97 1)" font-size="24.4" text-anchor="middle">6</text>
<text transform="translate(518.88 435) scale(0.97 1)" font-size="24.4" text-anchor="middle">8</text>
<text x="303.1" y="478.6" font-size="29.25" text-anchor="middle">Velocity (mm/s)</text>
<text transform="translate(21.1 201.4) rotate(-90) scale(1 1.045)" font-size="29.3" text-anchor="middle">Counts</text>
<text x="303" y="528.2" font-size="47" text-anchor="middle" style="stroke-width:.7px" font-family='"Liberation Serif", "Times New Roman", Times, serif'>a)</text>
<rect x="337.2" y="29.3" width="193.4" height="128.4" fill="#fff" stroke="#333" stroke-width="0.9"/>
<circle cx="362.9" cy="43.1" r="4.7" fill="url(#ball)"/>
<path d="M339.7 68.4H387" stroke="#ff0000" stroke-width="2.3"/>
<path d="M339.7 93.7H387" stroke="#0f62a8" stroke-width="1.9"/>
<path d="M339.7 118.3H387" stroke="#10dc10" stroke-width="1.9"/>
<path d="M339.7 143.3H387" stroke="#6610dc" stroke-width="1.9"/>
<text x="392.3" y="50.7" font-size="20.2">Measured data</text>
<text x="392.3" y="75.6" font-size="20.2">Fitted data</text>
<text x="392.3" y="100.8" font-size="20.2">Oxide</text>
<text x="392.3" y="125.8" font-size="20.2">FM FeRh</text>
<text x="392.3" y="150.9" font-size="20.2">PM FeRh</text>
<g>
<circle cx="688.11" cy="350.46" r="4.8" fill="url(#ball)"/><circle cx="688.56" cy="351.32" r="4.8" fill="url(#ball)"/><circle cx="689.01" cy="349.67" r="4.8" fill="url(#ball)"/><circle cx="689.46" cy="350.86" r="4.8" fill="url(#ball)"/><circle cx="689.91" cy="349.68" r="4.8" fill="url(#ball)"/><circle cx="690.36" cy="351.77" r="4.8" fill="url(#ball)"/><circle cx="690.81" cy="352.88" r="4.8" fill="url(#ball)"/><circle cx="691.26" cy="352.61" r="4.8" fill="url(#ball)"/><circle cx="691.71" cy="350.48" r="4.8" fill="url(#ball)"/><circle cx="692.16" cy="351.39" r="4.8" fill="url(#ball)"/><circle cx="692.61" cy="350.8" r="4.8" fill="url(#ball)"/><circle cx="693.06" cy="350.78" r="4.8" fill="url(#ball)"/><circle cx="693.51" cy="352.15" r="4.8" fill="url(#ball)"/><circle cx="693.96" cy="349.43" r="4.8" fill="url(#ball)"/><circle cx="694.41" cy="351.68" r="4.8" fill="url(#ball)"/><circle cx="694.86" cy="350.64" r="4.8" fill="url(#ball)"/><circle cx="695.31" cy="352.02" r="4.8" fill="url(#ball)"/><circle cx="695.76" cy="350.86" r="4.8" fill="url(#ball)"/><circle cx="696.21" cy="350.04" r="4.8" fill="url(#ball)"/><circle cx="696.66" cy="350.94" r="4.8" fill="url(#ball)"/><circle cx="697.11" cy="351.38" r="4.8" fill="url(#ball)"/><circle cx="697.56" cy="350.71" r="4.8" fill="url(#ball)"/><circle cx="698.01" cy="351.14" r="4.8" fill="url(#ball)"/><circle cx="698.46" cy="350.18" r="4.8" fill="url(#ball)"/><circle cx="698.91" cy="348.65" r="4.8" fill="url(#ball)"/><circle cx="699.36" cy="351.53" r="4.8" fill="url(#ball)"/><circle cx="699.81" cy="351.34" r="4.8" fill="url(#ball)"/><circle cx="700.26" cy="350.82" r="4.8" fill="url(#ball)"/><circle cx="700.71" cy="350.74" r="4.8" fill="url(#ball)"/><circle cx="701.16" cy="351.66" r="4.8" fill="url(#ball)"/><circle cx="701.61" cy="350.24" r="4.8" fill="url(#ball)"/><circle cx="702.06" cy="350" r="4.8" fill="url(#ball)"/><circle cx="702.51" cy="350.49" r="4.8" fill="url(#ball)"/><circle cx="702.96" cy="351.8" r="4.8" fill="url(#ball)"/><circle cx="703.41" cy="349.35" r="4.8" fill="url(#ball)"/><circle cx="703.86" cy="351.8" r="4.8" fill="url(#ball)"/><circle cx="704.31" cy="350.06" r="4.8" fill="url(#ball)"/><circle cx="704.76" cy="349.62" r="4.8" fill="url(#ball)"/><circle cx="705.21" cy="351.86" r="4.8" fill="url(#ball)"/><circle cx="705.66" cy="350.57" r="4.8" fill="url(#ball)"/><circle cx="706.11" cy="349.43" r="4.8" fill="url(#ball)"/><circle cx="706.56" cy="350.32" r="4.8" fill="url(#ball)"/><circle cx="707.01" cy="351.55" r="4.8" fill="url(#ball)"/><circle cx="707.46" cy="351.8" r="4.8" fill="url(#ball)"/><circle cx="707.91" cy="350.26" r="4.8" fill="url(#ball)"/><circle cx="708.36" cy="351.05" r="4.8" fill="url(#ball)"/><circle cx="708.81" cy="351.34" r="4.8" fill="url(#ball)"/><circle cx="709.26" cy="350.05" r="4.8" fill="url(#ball)"/><circle cx="709.71" cy="351" r="4.8" fill="url(#ball)"/><circle cx="710.16" cy="350.63" r="4.8" fill="url(#ball)"/><circle cx="710.61" cy="350.15" r="4.8" fill="url(#ball)"/><circle cx="711.06" cy="350.19" r="4.8" fill="url(#ball)"/><circle cx="711.51" cy="350.72" r="4.8" fill="url(#ball)"/><circle cx="711.96" cy="350.69" r="4.8" fill="url(#ball)"/><circle cx="712.41" cy="350.12" r="4.8" fill="url(#ball)"/><circle cx="712.86" cy="350.25" r="4.8" fill="url(#ball)"/><circle cx="713.31" cy="351.71" r="4.8" fill="url(#ball)"/><circle cx="713.76" cy="350.86" r="4.8" fill="url(#ball)"/><circle cx="714.21" cy="351.49" r="4.8" fill="url(#ball)"/><circle cx="714.66" cy="351.79" r="4.8" fill="url(#ball)"/><circle cx="715.11" cy="351.21" r="4.8" fill="url(#ball)"/><circle cx="715.56" cy="352.81" r="4.8" fill="url(#ball)"/><circle cx="716.01" cy="349.87" r="4.8" fill="url(#ball)"/><circle cx="716.46" cy="351.42" r="4.8" fill="url(#ball)"/><circle cx="716.91" cy="350.35" r="4.8" fill="url(#ball)"/><circle cx="717.36" cy="352.41" r="4.8" fill="url(#ball)"/><circle cx="717.81" cy="352.26" r="4.8" fill="url(#ball)"/><circle cx="718.26" cy="348.79" r="4.8" fill="url(#ball)"/><circle cx="718.71" cy="349.72" r="4.8" fill="url(#ball)"/><circle cx="719.16" cy="351.28" r="4.8" fill="url(#ball)"/><circle cx="719.61" cy="351.39" r="4.8" fill="url(#ball)"/><circle cx="720.06" cy="351.34" r="4.8" fill="url(#ball)"/><circle cx="720.51" cy="350.57" r="4.8" fill="url(#ball)"/><circle cx="720.96" cy="351.07" r="4.8" fill="url(#ball)"/><circle cx="721.41" cy="351.26" r="4.8" fill="url(#ball)"/><circle cx="721.86" cy="350.57" r="4.8" fill="url(#ball)"/><circle cx="722.31" cy="351.61" r="4.8" fill="url(#ball)"/><circle cx="722.76" cy="348.49" r="4.8" fill="url(#ball)"/><circle cx="723.21" cy="351.24" r="4.8" fill="url(#ball)"/><circle cx="723.66" cy="349.65" r="4.8" fill="url(#ball)"/><circle cx="724.11" cy="351.55" r="4.8" fill="url(#ball)"/><circle cx="724.56" cy="350.42" r="4.8" fill="url(#ball)"/><circle cx="725.01" cy="349.79" r="4.8" fill="url(#ball)"/><circle cx="725.46" cy="350.99" r="4.8" fill="url(#ball)"/><circle cx="725.91" cy="349.76" r="4.8" fill="url(#ball)"/><circle cx="726.36" cy="349.76" r="4.8" fill="url(#ball)"/><circle cx="726.81" cy="349.14" r="4.8" fill="url(#ball)"/><circle cx="727.26" cy="350.6" r="4.8" fill="url(#ball)"/><circle cx="727.71" cy="351.1" r="4.8" fill="url(#ball)"/><circle cx="728.16" cy="351.6" r="4.8" fill="url(#ball)"/><circle cx="728.61" cy="350.49" r="4.8" fill="url(#ball)"/><circle cx="729.06" cy="351.62" r="4.8" fill="url(#ball)"/><circle cx="729.51" cy="350.64" r="4.8" fill="url(#ball)"/><circle cx="729.96" cy="350.53" r="4.8" fill="url(#ball)"/><circle cx="730.41" cy="351.17" r="4.8" fill="url(#ball)"/><circle cx="730.86" cy="351.62" r="4.8" fill="url(#ball)"/><circle cx="731.31" cy="350.29" r="4.8" fill="url(#ball)"/><circle cx="731.76" cy="350.39" r="4.8" fill="url(#ball)"/><circle cx="732.21" cy="350.46" r="4.8" fill="url(#ball)"/><circle cx="732.66" cy="350.69" r="4.8" fill="url(#ball)"/><circle cx="733.11" cy="349.76" r="4.8" fill="url(#ball)"/><circle cx="733.56" cy="351.59" r="4.8" fill="url(#ball)"/><circle cx="734.01" cy="350.23" r="4.8" fill="url(#ball)"/><circle cx="734.46" cy="351.05" r="4.8" fill="url(#ball)"/><circle cx="734.91" cy="349.83" r="4.8" fill="url(#ball)"/><circle cx="735.36" cy="350.95" r="4.8" fill="url(#ball)"/><circle cx="735.81" cy="350.98" r="4.8" fill="url(#ball)"/><circle cx="736.26" cy="350.21" r="4.8" fill="url(#ball)"/><circle cx="736.71" cy="352.52" r="4.8" fill="url(#ball)"/><circle cx="737.16" cy="350.96" r="4.8" fill="url(#ball)"/><circle cx="737.61" cy="352.29" r="4.8" fill="url(#ball)"/><circle cx="738.06" cy="351.51" r="4.8" fill="url(#ball)"/><circle cx="738.51" cy="349.97" r="4.8" fill="url(#ball)"/><circle cx="738.96" cy="350.24" r="4.8" fill="url(#ball)"/><circle cx="739.41" cy="351.01" r="4.8" fill="url(#ball)"/><circle cx="739.86" cy="350.65" r="4.8" fill="url(#ball)"/><circle cx="740.31" cy="350.64" r="4.8" fill="url(#ball)"/><circle cx="740.76" cy="350.32" r="4.8" fill="url(#ball)"/><circle cx="741.21" cy="348.87" r="4.8" fill="url(#ball)"/><circle cx="741.66" cy="350.38" r="4.8" fill="url(#ball)"/><circle cx="742.11" cy="348.48" r="4.8" fill="url(#ball)"/><circle cx="742.56" cy="350.94" r="4.8" fill="url(#ball)"/><circle cx="743.01" cy="349.9" r="4.8" fill="url(#ball)"/><circle cx="743.46" cy="349.91" r="4.8" fill="url(#ball)"/><circle cx="743.91" cy="350.38" r="4.8" fill="url(#ball)"/><circle cx="744.36" cy="350.84" r="4.8" fill="url(#ball)"/><circle cx="744.81" cy="349.22" r="4.8" fill="url(#ball)"/><circle cx="745.26" cy="348.92" r="4.8" fill="url(#ball)"/><circle cx="745.71" cy="349.57" r="4.8" fill="url(#ball)"/><circle cx="746.16" cy="348.64" r="4.8" fill="url(#ball)"/><circle cx="746.61" cy="349.66" r="4.8" fill="url(#ball)"/><circle cx="747.06" cy="352.09" r="4.8" fill="url(#ball)"/><circle cx="747.51" cy="349.57" r="4.8" fill="url(#ball)"/><circle cx="747.96" cy="351.19" r="4.8" fill="url(#ball)"/><circle cx="748.41" cy="349.27" r="4.8" fill="url(#ball)"/><circle cx="748.86" cy="350.85" r="4.8" fill="url(#ball)"/><circle cx="749.31" cy="350.26" r="4.8" fill="url(#ball)"/><circle cx="749.76" cy="350.51" r="4.8" fill="url(#ball)"/><circle cx="750.21" cy="351.1" r="4.8" fill="url(#ball)"/><circle cx="750.66" cy="352.23" r="4.8" fill="url(#ball)"/><circle cx="751.11" cy="350.74" r="4.8" fill="url(#ball)"/><circle cx="751.56" cy="350.68" r="4.8" fill="url(#ball)"/><circle cx="752.01" cy="349.63" r="4.8" fill="url(#ball)"/><circle cx="752.46" cy="351.11" r="4.8" fill="url(#ball)"/><circle cx="752.91" cy="350.32" r="4.8" fill="url(#ball)"/><circle cx="753.36" cy="351.34" r="4.8" fill="url(#ball)"/><circle cx="753.81" cy="350.51" r="4.8" fill="url(#ball)"/><circle cx="754.26" cy="352.2" r="4.8" fill="url(#ball)"/><circle cx="754.71" cy="348.66" r="4.8" fill="url(#ball)"/><circle cx="755.16" cy="350.26" r="4.8" fill="url(#ball)"/><circle cx="755.61" cy="351.38" r="4.8" fill="url(#ball)"/><circle cx="756.06" cy="350.21" r="4.8" fill="url(#ball)"/><circle cx="756.51" cy="349.79" r="4.8" fill="url(#ball)"/><circle cx="756.96" cy="350.28" r="4.8" fill="url(#ball)"/><circle cx="757.41" cy="349.22" r="4.8" fill="url(#ball)"/><circle cx="757.86" cy="350.65" r="4.8" fill="url(#ball)"/><circle cx="758.31" cy="352.85" r="4.8" fill="url(#ball)"/><circle cx="758.76" cy="351.62" r="4.8" fill="url(#ball)"/><circle cx="759.21" cy="349.47" r="4.8" fill="url(#ball)"/><circle cx="759.66" cy="349.7" r="4.8" fill="url(#ball)"/><circle cx="760.11" cy="350.14" r="4.8" fill="url(#ball)"/><circle cx="760.56" cy="351.48" r="4.8" fill="url(#ball)"/><circle cx="761.01" cy="349.74" r="4.8" fill="url(#ball)"/><circle cx="761.46" cy="349.86" r="4.8" fill="url(#ball)"/><circle cx="761.91" cy="351.36" r="4.8" fill="url(#ball)"/><circle cx="762.36" cy="351.33" r="4.8" fill="url(#ball)"/><circle cx="762.81" cy="350.16" r="4.8" fill="url(#ball)"/><circle cx="763.26" cy="349.45" r="4.8" fill="url(#ball)"/><circle cx="763.71" cy="349.03" r="4.8" fill="url(#ball)"/><circle cx="764.16" cy="349.84" r="4.8" fill="url(#ball)"/><circle cx="764.61" cy="348.38" r="4.8" fill="url(#ball)"/><circle cx="765.06" cy="351.21" r="4.8" fill="url(#ball)"/><circle cx="765.51" cy="349.9" r="4.8" fill="url(#ball)"/><circle cx="765.96" cy="350.95" r="4.8" fill="url(#ball)"/><circle cx="766.41" cy="352.27" r="4.8" fill="url(#ball)"/><circle cx="766.86" cy="351.6" r="4.8" fill="url(#ball)"/><circle cx="767.31" cy="349.39" r="4.8" fill="url(#ball)"/><circle cx="767.76" cy="351.31" r="4.8" fill="url(#ball)"/><circle cx="768.21" cy="351.58" r="4.8" fill="url(#ball)"/><circle cx="768.66" cy="349.77" r="4.8" fill="url(#ball)"/><circle cx="769.11" cy="349.57" r="4.8" fill="url(#ball)"/><circle cx="769.56" cy="350.37" r="4.8" fill="url(#ball)"/><circle cx="770.01" cy="348.95" r="4.8" fill="url(#ball)"/><circle cx="770.46" cy="351.87" r="4.8" fill="url(#ball)"/><circle cx="770.91" cy="348.18" r="4.8" fill="url(#ball)"/><circle cx="771.36" cy="349.41" r="4.8" fill="url(#ball)"/><circle cx="771.81" cy="350.21" r="4.8" fill="url(#ball)"/><circle cx="772.26" cy="350.24" r="4.8" fill="url(#ball)"/><circle cx="772.71" cy="350.61" r="4.8" fill="url(#ball)"/><circle cx="773.16" cy="350.71" r="4.8" fill="url(#ball)"/><circle cx="773.61" cy="350.25" r="4.8" fill="url(#ball)"/><circle cx="774.06" cy="351.53" r="4.8" fill="url(#ball)"/><circle cx="774.51" cy="348.41" r="4.8" fill="url(#ball)"/><circle cx="774.96" cy="350.44" r="4.8" fill="url(#ball)"/><circle cx="775.41" cy="349.76" r="4.8" fill="url(#ball)"/><circle cx="775.86" cy="350.56" r="4.8" fill="url(#ball)"/><circle cx="776.31" cy="350.64" r="4.8" fill="url(#ball)"/><circle cx="776.76" cy="349.56" r="4.8" fill="url(#ball)"/><circle cx="777.21" cy="349.82" r="4.8" fill="url(#ball)"/><circle cx="777.66" cy="351.18" r="4.8" fill="url(#ball)"/><circle cx="778.11" cy="350.75" r="4.8" fill="url(#ball)"/><circle cx="778.56" cy="349.77" r="4.8" fill="url(#ball)"/><circle cx="779.01" cy="352.35" r="4.8" fill="url(#ball)"/><circle cx="779.46" cy="352.6" r="4.8" fill="url(#ball)"/><circle cx="779.91" cy="349.02" r="4.8" fill="url(#ball)"/><circle cx="780.36" cy="350.69" r="4.8" fill="url(#ball)"/><circle cx="780.81" cy="352.78" r="4.8" fill="url(#ball)"/><circle cx="781.26" cy="351.14" r="4.8" fill="url(#ball)"/><circle cx="781.71" cy="350.6" r="4.8" fill="url(#ball)"/><circle cx="782.16" cy="350.19" r="4.8" fill="url(#ball)"/><circle cx="782.61" cy="349.87" r="4.8" fill="url(#ball)"/><circle cx="783.06" cy="350.18" r="4.8" fill="url(#ball)"/><circle cx="783.51" cy="349.86" r="4.8" fill="url(#ball)"/><circle cx="783.96" cy="351.08" r="4.8" fill="url(#ball)"/><circle cx="784.41" cy="349.99" r="4.8" fill="url(#ball)"/><circle cx="784.86" cy="349.95" r="4.8" fill="url(#ball)"/><circle cx="785.31" cy="349.22" r="4.8" fill="url(#ball)"/><circle cx="785.76" cy="350.31" r="4.8" fill="url(#ball)"/><circle cx="786.21" cy="349.51" r="4.8" fill="url(#ball)"/><circle cx="786.66" cy="350.18" r="4.8" fill="url(#ball)"/><circle cx="787.11" cy="351.34" r="4.8" fill="url(#ball)"/><circle cx="787.56" cy="350.69" r="4.8" fill="url(#ball)"/><circle cx="788.01" cy="350.82" r="4.8" fill="url(#ball)"/><circle cx="788.46" cy="350.67" r="4.8" fill="url(#ball)"/><circle cx="788.91" cy="350.39" r="4.8" fill="url(#ball)"/><circle cx="789.36" cy="350.2" r="4.8" fill="url(#ball)"/><circle cx="789.81" cy="350.03" r="4.8" fill="url(#ball)"/><circle cx="790.26" cy="351.04" r="4.8" fill="url(#ball)"/><circle cx="790.71" cy="349.28" r="4.8" fill="url(#ball)"/><circle cx="791.16" cy="351.58" r="4.8" fill="url(#ball)"/><circle cx="791.61" cy="350.33" r="4.8" fill="url(#ball)"/><circle cx="792.06" cy="349.59" r="4.8" fill="url(#ball)"/><circle cx="792.51" cy="349.83" r="4.8" fill="url(#ball)"/><circle cx="792.96" cy="349.64" r="4.8" fill="url(#ball)"/><circle cx="793.41" cy="350.43" r="4.8" fill="url(#ball)"/><circle cx="793.86" cy="349.59" r="4.8" fill="url(#ball)"/><circle cx="794.31" cy="351.36" r="4.8" fill="url(#ball)"/><circle cx="794.76" cy="349.52" r="4.8" fill="url(#ball)"/><circle cx="795.21" cy="348.1" r="4.8" fill="url(#ball)"/><circle cx="795.66" cy="349.56" r="4.8" fill="url(#ball)"/><circle cx="796.11" cy="348.34" r="4.8" fill="url(#ball)"/><circle cx="796.56" cy="350.2" r="4.8" fill="url(#ball)"/><circle cx="797.01" cy="351.24" r="4.8" fill="url(#ball)"/><circle cx="797.46" cy="350.85" r="4.8" fill="url(#ball)"/><circle cx="797.91" cy="348.95" r="4.8" fill="url(#ball)"/><circle cx="798.36" cy="349.49" r="4.8" fill="url(#ball)"/><circle cx="798.81" cy="351.9" r="4.8" fill="url(#ball)"/><circle cx="799.26" cy="350.51" r="4.8" fill="url(#ball)"/><circle cx="799.71" cy="350.2" r="4.8" fill="url(#ball)"/><circle cx="800.16" cy="351.2" r="4.8" fill="url(#ball)"/><circle cx="800.61" cy="352.52" r="4.8" fill="url(#ball)"/><circle cx="801.06" cy="351.41" r="4.8" fill="url(#ball)"/><circle cx="801.51" cy="350.31" r="4.8" fill="url(#ball)"/><circle cx="801.96" cy="350.5" r="4.8" fill="url(#ball)"/><circle cx="802.41" cy="350.75" r="4.8" fill="url(#ball)"/><circle cx="802.86" cy="349.57" r="4.8" fill="url(#ball)"/><circle cx="803.31" cy="349.14" r="4.8" fill="url(#ball)"/><circle cx="803.76" cy="350.19" r="4.8" fill="url(#ball)"/><circle cx="804.21" cy="349.23" r="4.8" fill="url(#ball)"/><circle cx="804.66" cy="350.06" r="4.8" fill="url(#ball)"/><circle cx="805.11" cy="350.21" r="4.8" fill="url(#ball)"/><circle cx="805.56" cy="352.33" r="4.8" fill="url(#ball)"/><circle cx="806.01" cy="349.29" r="4.8" fill="url(#ball)"/><circle cx="806.46" cy="349.97" r="4.8" fill="url(#ball)"/><circle cx="806.91" cy="349.93" r="4.8" fill="url(#ball)"/><circle cx="807.36" cy="350.49" r="4.8" fill="url(#ball)"/><circle cx="807.81" cy="351.06" r="4.8" fill="url(#ball)"/><circle cx="808.26" cy="349.59" r="4.8" fill="url(#ball)"/><circle cx="808.71" cy="349.27" r="4.8" fill="url(#ball)"/><circle cx="809.16" cy="348.48" r="4.8" fill="url(#ball)"/><circle cx="809.61" cy="349.15" r="4.8" fill="url(#ball)"/><circle cx="810.06" cy="350.53" r="4.8" fill="url(#ball)"/><circle cx="810.51" cy="350.05" r="4.8" fill="url(#ball)"/><circle cx="810.96" cy="349.03" r="4.8" fill="url(#ball)"/><circle cx="811.41" cy="349.64" r="4.8" fill="url(#ball)"/><circle cx="811.86" cy="350.01" r="4.8" fill="url(#ball)"/><circle cx="812.31" cy="350.45" r="4.8" fill="url(#ball)"/><circle cx="812.76" cy="349.39" r="4.8" fill="url(#ball)"/><circle cx="813.21" cy="349.71" r="4.8" fill="url(#ball)"/><circle cx="813.66" cy="348.21" r="4.8" fill="url(#ball)"/><circle cx="814.11" cy="348.83" r="4.8" fill="url(#ball)"/><circle cx="814.56" cy="351.45" r="4.8" fill="url(#ball)"/><circle cx="815.01" cy="347.82" r="4.8" fill="url(#ball)"/><circle cx="815.46" cy="349.57" r="4.8" fill="url(#ball)"/><circle cx="815.91" cy="350.09" r="4.8" fill="url(#ball)"/><circle cx="816.36" cy="349.51" r="4.8" fill="url(#ball)"/><circle cx="816.81" cy="349.08" r="4.8" fill="url(#ball)"/><circle cx="817.26" cy="349.78" r="4.8" fill="url(#ball)"/><circle cx="817.71" cy="349.82" r="4.8" fill="url(#ball)"/><circle cx="818.16" cy="349.73" r="4.8" fill="url(#ball)"/><circle cx="818.61" cy="348.02" r="4.8" fill="url(#ball)"/><circle cx="819.06" cy="349.64" r="4.8" fill="url(#ball)"/><circle cx="819.51" cy="348.96" r="4.8" fill="url(#ball)"/><circle cx="819.96" cy="349.24" r="4.8" fill="url(#ball)"/><circle cx="820.41" cy="349.96" r="4.8" fill="url(#ball)"/><circle cx="820.86" cy="350.33" r="4.8" fill="url(#ball)"/><circle cx="821.31" cy="350.56" r="4.8" fill="url(#ball)"/><circle cx="821.76" cy="349.22" r="4.8" fill="url(#ball)"/><circle cx="822.21" cy="350.56" r="4.8" fill="url(#ball)"/><circle cx="822.66" cy="350.78" r="4.8" fill="url(#ball)"/><circle cx="823.11" cy="350.72" r="4.8" fill="url(#ball)"/><circle cx="823.56" cy="350.95" r="4.8" fill="url(#ball)"/><circle cx="824.01" cy="349.47" r="4.8" fill="url(#ball)"/><circle cx="824.46" cy="349.43" r="4.8" fill="url(#ball)"/><circle cx="824.91" cy="350.36" r="4.8" fill="url(#ball)"/><circle cx="825.36" cy="348.25" r="4.8" fill="url(#ball)"/><circle cx="825.81" cy="349.73" r="4.8" fill="url(#ball)"/><circle cx="826.26" cy="349.01" r="4.8" fill="url(#ball)"/><circle cx="826.71" cy="349.14" r="4.8" fill="url(#ball)"/><circle cx="827.16" cy="347.82" r="4.8" fill="url(#ball)"/><circle cx="827.61" cy="348.6" r="4.8" fill="url(#ball)"/><circle cx="828.06" cy="349.41" r="4.8" fill="url(#ball)"/><circle cx="828.51" cy="350.25" r="4.8" fill="url(#ball)"/><circle cx="828.96" cy="350.32" r="4.8" fill="url(#ball)"/><circle cx="829.41" cy="349.28" r="4.8" fill="url(#ball)"/><circle cx="829.86" cy="349.15" r="4.8" fill="url(#ball)"/><circle cx="830.31" cy="348.52" r="4.8" fill="url(#ball)"/><circle cx="830.76" cy="349.67" r="4.8" fill="url(#ball)"/><circle cx="831.21" cy="349.02" r="4.8" fill="url(#ball)"/><circle cx="831.66" cy="349.81" r="4.8" fill="url(#ball)"/><circle cx="832.11" cy="350.87" r="4.8" fill="url(#ball)"/><circle cx="832.56" cy="349.14" r="4.8" fill="url(#ball)"/><circle cx="833.01" cy="347.72" r="4.8" fill="url(#ball)"/><circle cx="833.46" cy="348.3" r="4.8" fill="url(#ball)"/><circle cx="833.91" cy="347.7" r="4.8" fill="url(#ball)"/><circle cx="834.36" cy="347.92" r="4.8" fill="url(#ball)"/><circle cx="834.81" cy="350.26" r="4.8" fill="url(#ball)"/><circle cx="835.26" cy="349.2" r="4.8" fill="url(#ball)"/><circle cx="835.71" cy="347.51" r="4.8" fill="url(#ball)"/><circle cx="836.16" cy="349.54" r="4.8" fill="url(#ball)"/><circle cx="836.61" cy="350.08" r="4.8" fill="url(#ball)"/><circle cx="837.06" cy="348.5" r="4.8" fill="url(#ball)"/><circle cx="837.51" cy="348.16" r="4.8" fill="url(#ball)"/><circle cx="837.96" cy="348.45" r="4.8" fill="url(#ball)"/><circle cx="838.41" cy="349" r="4.8" fill="url(#ball)"/><circle cx="838.86" cy="349.29" r="4.8" fill="url(#ball)"/><circle cx="839.31" cy="349.76" r="4.8" fill="url(#ball)"/><circle cx="839.76" cy="349.75" r="4.8" fill="url(#ball)"/><circle cx="840.21" cy="349.68" r="4.8" fill="url(#ball)"/><circle cx="840.66" cy="349.8" r="4.8" fill="url(#ball)"/><circle cx="841.11" cy="349.08" r="4.8" fill="url(#ball)"/><circle cx="841.56" cy="346.95" r="4.8" fill="url(#ball)"/><circle cx="842.01" cy="348.23" r="4.8" fill="url(#ball)"/><circle cx="842.46" cy="348.59" r="4.8" fill="url(#ball)"/><circle cx="842.91" cy="347.88" r="4.8" fill="url(#ball)"/><circle cx="843.36" cy="349.05" r="4.8" fill="url(#ball)"/><circle cx="843.81" cy="347.78" r="4.8" fill="url(#ball)"/><circle cx="844.26" cy="347.18" r="4.8" fill="url(#ball)"/><circle cx="844.71" cy="349.37" r="4.8" fill="url(#ball)"/><circle cx="845.16" cy="348.56" r="4.8" fill="url(#ball)"/><circle cx="845.61" cy="348.07" r="4.8" fill="url(#ball)"/><circle cx="846.06" cy="348.67" r="4.8" fill="url(#ball)"/><circle cx="846.51" cy="348.73" r="4.8" fill="url(#ball)"/><circle cx="846.96" cy="347.97" r="4.8" fill="url(#ball)"/><circle cx="847.41" cy="345.23" r="4.8" fill="url(#ball)"/><circle cx="847.86" cy="346.84" r="4.8" fill="url(#ball)"/><circle cx="848.31" cy="346.96" r="4.8" fill="url(#ball)"/><circle cx="848.76" cy="346.37" r="4.8" fill="url(#ball)"/><circle cx="849.21" cy="347.4" r="4.8" fill="url(#ball)"/><circle cx="849.66" cy="348.25" r="4.8" fill="url(#ball)"/><circle cx="850.11" cy="346.56" r="4.8" fill="url(#ball)"/><circle cx="850.56" cy="345.84" r="4.8" fill="url(#ball)"/><circle cx="851.01" cy="348.73" r="4.8" fill="url(#ball)"/><circle cx="851.46" cy="346.26" r="4.8" fill="url(#ball)"/><circle cx="851.91" cy="345.4" r="4.8" fill="url(#ball)"/><circle cx="852.36" cy="346.68" r="4.8" fill="url(#ball)"/><circle cx="852.81" cy="346.73" r="4.8" fill="url(#ball)"/><circle cx="853.26" cy="345.52" r="4.8" fill="url(#ball)"/><circle cx="853.71" cy="346.8" r="4.8" fill="url(#ball)"/><circle cx="854.16" cy="345.44" r="4.8" fill="url(#ball)"/><circle cx="854.61" cy="344.88" r="4.8" fill="url(#ball)"/><circle cx="855.06" cy="345.76" r="4.8" fill="url(#ball)"/><circle cx="855.51" cy="346.16" r="4.8" fill="url(#ball)"/><circle cx="855.96" cy="344.65" r="4.8" fill="url(#ball)"/><circle cx="856.41" cy="345.38" r="4.8" fill="url(#ball)"/><circle cx="856.86" cy="344.78" r="4.8" fill="url(#ball)"/><circle cx="857.31" cy="347.35" r="4.8" fill="url(#ball)"/><circle cx="857.76" cy="343.78" r="4.8" fill="url(#ball)"/><circle cx="858.21" cy="345.54" r="4.8" fill="url(#ball)"/><circle cx="858.66" cy="343.94" r="4.8" fill="url(#ball)"/><circle cx="859.11" cy="343.61" r="4.8" fill="url(#ball)"/><circle cx="859.56" cy="344.15" r="4.8" fill="url(#ball)"/><circle cx="860.01" cy="344.04" r="4.8" fill="url(#ball)"/><circle cx="860.46" cy="344.09" r="4.8" fill="url(#ball)"/><circle cx="860.91" cy="342.89" r="4.8" fill="url(#ball)"/><circle cx="861.36" cy="341.67" r="4.8" fill="url(#ball)"/><circle cx="861.81" cy="341.37" r="4.8" fill="url(#ball)"/><circle cx="862.26" cy="341.99" r="4.8" fill="url(#ball)"/><circle cx="862.71" cy="341.66" r="4.8" fill="url(#ball)"/><circle cx="863.16" cy="342.01" r="4.8" fill="url(#ball)"/><circle cx="863.61" cy="340.62" r="4.8" fill="url(#ball)"/><circle cx="864.06" cy="340.75" r="4.8" fill="url(#ball)"/><circle cx="864.51" cy="340.66" r="4.8" fill="url(#ball)"/><circle cx="864.96" cy="338.82" r="4.8" fill="url(#ball)"/><circle cx="865.41" cy="336.65" r="4.8" fill="url(#ball)"/><circle cx="865.86" cy="336.3" r="4.8" fill="url(#ball)"/><circle cx="866.31" cy="335.36" r="4.8" fill="url(#ball)"/><circle cx="866.76" cy="337.49" r="4.8" fill="url(#ball)"/><circle cx="867.21" cy="334.36" r="4.8" fill="url(#ball)"/><circle cx="867.66" cy="335.46" r="4.8" fill="url(#ball)"/><circle cx="868.11" cy="333.89" r="4.8" fill="url(#ball)"/><circle cx="868.56" cy="333.92" r="4.8" fill="url(#ball)"/><circle cx="869.01" cy="332.11" r="4.8" fill="url(#ball)"/><circle cx="869.46" cy="329.81" r="4.8" fill="url(#ball)"/><circle cx="869.91" cy="328.35" r="4.8" fill="url(#ball)"/><circle cx="870.36" cy="327.11" r="4.8" fill="url(#ball)"/><circle cx="870.81" cy="325.51" r="4.8" fill="url(#ball)"/><circle cx="871.26" cy="322.96" r="4.8" fill="url(#ball)"/><circle cx="871.71" cy="321.33" r="4.8" fill="url(#ball)"/><circle cx="872.16" cy="320.52" r="4.8" fill="url(#ball)"/><circle cx="872.61" cy="314.69" r="4.8" fill="url(#ball)"/><circle cx="873.06" cy="313.5" r="4.8" fill="url(#ball)"/><circle cx="873.51" cy="308.9" r="4.8" fill="url(#ball)"/><circle cx="873.96" cy="305.92" r="4.8" fill="url(#ball)"/><circle cx="874.41" cy="301.91" r="4.8" fill="url(#ball)"/><circle cx="874.86" cy="295.7" r="4.8" fill="url(#ball)"/><circle cx="875.31" cy="290.27" r="4.8" fill="url(#ball)"/><circle cx="875.76" cy="280.82" r="4.8" fill="url(#ball)"/><circle cx="876.21" cy="275.04" r="4.8" fill="url(#ball)"/><circle cx="876.66" cy="263.77" r="4.8" fill="url(#ball)"/><circle cx="877.11" cy="253.86" r="4.8" fill="url(#ball)"/><circle cx="877.56" cy="240.82" r="4.8" fill="url(#ball)"/><circle cx="878.01" cy="223.96" r="4.8" fill="url(#ball)"/><circle cx="878.46" cy="209.9" r="4.8" fill="url(#ball)"/><circle cx="878.91" cy="193.6" r="4.8" fill="url(#ball)"/><circle cx="879.36" cy="176.5" r="4.8" fill="url(#ball)"/><circle cx="879.81" cy="156.23" r="4.8" fill="url(#ball)"/><circle cx="880.26" cy="137.07" r="4.8" fill="url(#ball)"/><circle cx="880.71" cy="117.02" r="4.8" fill="url(#ball)"/><circle cx="881.16" cy="102.76" r="4.8" fill="url(#ball)"/><circle cx="881.61" cy="88.52" r="4.8" fill="url(#ball)"/><circle cx="882.06" cy="75.37" r="4.8" fill="url(#ball)"/><circle cx="882.51" cy="67.46" r="4.8" fill="url(#ball)"/><circle cx="882.96" cy="62.69" r="4.8" fill="url(#ball)"/><circle cx="883.41" cy="66.06" r="4.8" fill="url(#ball)"/><circle cx="883.86" cy="73.16" r="4.8" fill="url(#ball)"/><circle cx="884.31" cy="80.71" r="4.8" fill="url(#ball)"/><circle cx="884.76" cy="94.2" r="4.8" fill="url(#ball)"/><circle cx="885.21" cy="109.29" r="4.8" fill="url(#ball)"/><circle cx="885.66" cy="125.61" r="4.8" fill="url(#ball)"/><circle cx="886.11" cy="146.72" r="4.8" fill="url(#ball)"/><circle cx="886.56" cy="163.5" r="4.8" fill="url(#ball)"/><circle cx="887.01" cy="183.32" r="4.8" fill="url(#ball)"/><circle cx="887.46" cy="201.72" r="4.8" fill="url(#ball)"/><circle cx="887.91" cy="218.92" r="4.8" fill="url(#ball)"/><circle cx="888.36" cy="233.59" r="4.8" fill="url(#ball)"/><circle cx="888.81" cy="247.06" r="4.8" fill="url(#ball)"/><circle cx="889.26" cy="257.88" r="4.8" fill="url(#ball)"/><circle cx="889.71" cy="267.77" r="4.8" fill="url(#ball)"/><circle cx="890.16" cy="278.07" r="4.8" fill="url(#ball)"/><circle cx="890.61" cy="285.12" r="4.8" fill="url(#ball)"/><circle cx="891.06" cy="291.26" r="4.8" fill="url(#ball)"/><circle cx="891.51" cy="297.07" r="4.8" fill="url(#ball)"/><circle cx="891.96" cy="302.78" r="4.8" fill="url(#ball)"/><circle cx="892.41" cy="305.78" r="4.8" fill="url(#ball)"/><circle cx="892.86" cy="309.97" r="4.8" fill="url(#ball)"/><circle cx="893.31" cy="312.93" r="4.8" fill="url(#ball)"/><circle cx="893.76" cy="317.48" r="4.8" fill="url(#ball)"/><circle cx="894.21" cy="320.17" r="4.8" fill="url(#ball)"/><circle cx="894.66" cy="323.87" r="4.8" fill="url(#ball)"/><circle cx="895.11" cy="322.47" r="4.8" fill="url(#ball)"/><circle cx="895.56" cy="324.96" r="4.8" fill="url(#ball)"/><circle cx="896.01" cy="328" r="4.8" fill="url(#ball)"/><circle cx="896.46" cy="328.29" r="4.8" fill="url(#ball)"/><circle cx="896.91" cy="329.4" r="4.8" fill="url(#ball)"/><circle cx="897.36" cy="332.43" r="4.8" fill="url(#ball)"/><circle cx="897.81" cy="331.47" r="4.8" fill="url(#ball)"/><circle cx="898.26" cy="331.57" r="4.8" fill="url(#ball)"/><circle cx="898.71" cy="332.21" r="4.8" fill="url(#ball)"/><circle cx="899.16" cy="334.49" r="4.8" fill="url(#ball)"/><circle cx="899.61" cy="335.09" r="4.8" fill="url(#ball)"/><circle cx="900.06" cy="334.07" r="4.8" fill="url(#ball)"/><circle cx="900.51" cy="334.94" r="4.8" fill="url(#ball)"/><circle cx="900.96" cy="336.85" r="4.8" fill="url(#ball)"/><circle cx="901.41" cy="337.31" r="4.8" fill="url(#ball)"/><circle cx="901.86" cy="336.54" r="4.8" fill="url(#ball)"/><circle cx="902.31" cy="338.12" r="4.8" fill="url(#ball)"/><circle cx="902.76" cy="338.45" r="4.8" fill="url(#ball)"/><circle cx="903.21" cy="336.59" r="4.8" fill="url(#ball)"/><circle cx="903.66" cy="338.38" r="4.8" fill="url(#ball)"/><circle cx="904.11" cy="339.49" r="4.8" fill="url(#ball)"/><circle cx="904.56" cy="338.98" r="4.8" fill="url(#ball)"/><circle cx="905.01" cy="337.94" r="4.8" fill="url(#ball)"/><circle cx="905.46" cy="340.15" r="4.8" fill="url(#ball)"/><circle cx="905.91" cy="341.59" r="4.8" fill="url(#ball)"/><circle cx="906.36" cy="342.82" r="4.8" fill="url(#ball)"/><circle cx="906.81" cy="339.66" r="4.8" fill="url(#ball)"/><circle cx="907.26" cy="344.64" r="4.8" fill="url(#ball)"/><circle cx="907.71" cy="341.47" r="4.8" fill="url(#ball)"/><circle cx="908.16" cy="343.82" r="4.8" fill="url(#ball)"/><circle cx="908.61" cy="344.43" r="4.8" fill="url(#ball)"/><circle cx="909.06" cy="344.52" r="4.8" fill="url(#ball)"/><circle cx="909.51" cy="344.03" r="4.8" fill="url(#ball)"/><circle cx="909.96" cy="343.07" r="4.8" fill="url(#ball)"/><circle cx="910.41" cy="345.03" r="4.8" fill="url(#ball)"/><circle cx="910.86" cy="344" r="4.8" fill="url(#ball)"/><circle cx="911.31" cy="342.52" r="4.8" fill="url(#ball)"/><circle cx="911.76" cy="347.82" r="4.8" fill="url(#ball)"/><circle cx="912.21" cy="346.01" r="4.8" fill="url(#ball)"/><circle cx="912.66" cy="347.26" r="4.8" fill="url(#ball)"/><circle cx="913.11" cy="344.84" r="4.8" fill="url(#ball)"/><circle cx="913.56" cy="347.28" r="4.8" fill="url(#ball)"/><circle cx="914.01" cy="347.55" r="4.8" fill="url(#ball)"/><circle cx="914.46" cy="347.67" r="4.8" fill="url(#ball)"/><circle cx="914.91" cy="346.32" r="4.8" fill="url(#ball)"/><circle cx="915.36" cy="345.34" r="4.8" fill="url(#ball)"/><circle cx="915.81" cy="346.44" r="4.8" fill="url(#ball)"/><circle cx="916.26" cy="344.64" r="4.8" fill="url(#ball)"/><circle cx="916.71" cy="345.24" r="4.8" fill="url(#ball)"/><circle cx="917.16" cy="347.05" r="4.8" fill="url(#ball)"/><circle cx="917.61" cy="346.13" r="4.8" fill="url(#ball)"/><circle cx="918.06" cy="347.02" r="4.8" fill="url(#ball)"/><circle cx="918.51" cy="347.17" r="4.8" fill="url(#ball)"/><circle cx="918.96" cy="349.2" r="4.8" fill="url(#ball)"/><circle cx="919.41" cy="348.69" r="4.8" fill="url(#ball)"/><circle cx="919.86" cy="347.5" r="4.8" fill="url(#ball)"/><circle cx="920.31" cy="348.78" r="4.8" fill="url(#ball)"/><circle cx="920.76" cy="346.97" r="4.8" fill="url(#ball)"/><circle cx="921.21" cy="347.47" r="4.8" fill="url(#ball)"/><circle cx="921.66" cy="348.73" r="4.8" fill="url(#ball)"/><circle cx="922.11" cy="346.75" r="4.8" fill="url(#ball)"/><circle cx="922.56" cy="347.74" r="4.8" fill="url(#ball)"/><circle cx="923.01" cy="346.81" r="4.8" fill="url(#ball)"/><circle cx="923.46" cy="348.24" r="4.8" fill="url(#ball)"/><circle cx="923.91" cy="349.74" r="4.8" fill="url(#ball)"/><circle cx="924.36" cy="347.54" r="4.8" fill="url(#ball)"/><circle cx="924.81" cy="348.52" r="4.8" fill="url(#ball)"/><circle cx="925.26" cy="347.51" r="4.8" fill="url(#ball)"/><circle cx="925.71" cy="347.32" r="4.8" fill="url(#ball)"/><circle cx="926.16" cy="347.29" r="4.8" fill="url(#ball)"/><circle cx="926.61" cy="349.9" r="4.8" fill="url(#ball)"/><circle cx="927.06" cy="350.81" r="4.8" fill="url(#ball)"/><circle cx="927.51" cy="349.07" r="4.8" fill="url(#ball)"/><circle cx="927.96" cy="347.98" r="4.8" fill="url(#ball)"/><circle cx="928.41" cy="349.37" r="4.8" fill="url(#ball)"/><circle cx="928.86" cy="348.42" r="4.8" fill="url(#ball)"/><circle cx="929.31" cy="349.54" r="4.8" fill="url(#ball)"/><circle cx="929.76" cy="349.1" r="4.8" fill="url(#ball)"/><circle cx="930.21" cy="349.13" r="4.8" fill="url(#ball)"/><circle cx="930.66" cy="349.48" r="4.8" fill="url(#ball)"/><circle cx="931.11" cy="348.38" r="4.8" fill="url(#ball)"/><circle cx="931.56" cy="348.59" r="4.8" fill="url(#ball)"/><circle cx="932.01" cy="347.37" r="4.8" fill="url(#ball)"/><circle cx="932.46" cy="348.62" r="4.8" fill="url(#ball)"/><circle cx="932.91" cy="347.72" r="4.8" fill="url(#ball)"/><circle cx="933.36" cy="348.96" r="4.8" fill="url(#ball)"/><circle cx="933.81" cy="348.22" r="4.8" fill="url(#ball)"/><circle cx="934.26" cy="349.26" r="4.8" fill="url(#ball)"/><circle cx="934.71" cy="349.62" r="4.8" fill="url(#ball)"/><circle cx="935.16" cy="347.87" r="4.8" fill="url(#ball)"/><circle cx="935.61" cy="348.47" r="4.8" fill="url(#ball)"/><circle cx="936.06" cy="348.38" r="4.8" fill="url(#ball)"/><circle cx="936.51" cy="350.01" r="4.8" fill="url(#ball)"/><circle cx="936.96" cy="350.95" r="4.8" fill="url(#ball)"/><circle cx="937.41" cy="350.16" r="4.8" fill="url(#ball)"/><circle cx="937.86" cy="349.04" r="4.8" fill="url(#ball)"/><circle cx="938.31" cy="350.79" r="4.8" fill="url(#ball)"/><circle cx="938.76" cy="347.98" r="4.8" fill="url(#ball)"/><circle cx="939.21" cy="350.87" r="4.8" fill="url(#ball)"/><circle cx="939.66" cy="348.84" r="4.8" fill="url(#ball)"/><circle cx="940.11" cy="346.84" r="4.8" fill="url(#ball)"/><circle cx="940.56" cy="352.03" r="4.8" fill="url(#ball)"/><circle cx="941.01" cy="351.03" r="4.8" fill="url(#ball)"/><circle cx="941.46" cy="348.57" r="4.8" fill="url(#ball)"/><circle cx="941.91" cy="349.73" r="4.8" fill="url(#ball)"/><circle cx="942.36" cy="349.38" r="4.8" fill="url(#ball)"/><circle cx="942.81" cy="349.7" r="4.8" fill="url(#ball)"/><circle cx="943.26" cy="348.21" r="4.8" fill="url(#ball)"/><circle cx="943.71" cy="348.99" r="4.8" fill="url(#ball)"/><circle cx="944.16" cy="350.1" r="4.8" fill="url(#ball)"/><circle cx="944.61" cy="349.89" r="4.8" fill="url(#ball)"/><circle cx="945.06" cy="350.83" r="4.8" fill="url(#ball)"/><circle cx="945.51" cy="349.78" r="4.8" fill="url(#ball)"/><circle cx="945.96" cy="351.95" r="4.8" fill="url(#ball)"/><circle cx="946.41" cy="349.06" r="4.8" fill="url(#ball)"/><circle cx="946.86" cy="350" r="4.8" fill="url(#ball)"/><circle cx="947.31" cy="347.95" r="4.8" fill="url(#ball)"/><circle cx="947.76" cy="348.59" r="4.8" fill="url(#ball)"/><circle cx="948.21" cy="351.06" r="4.8" fill="url(#ball)"/><circle cx="948.66" cy="348.91" r="4.8" fill="url(#ball)"/><circle cx="949.11" cy="350.33" r="4.8" fill="url(#ball)"/><circle cx="949.56" cy="349.78" r="4.8" fill="url(#ball)"/><circle cx="950.01" cy="348.86" r="4.8" fill="url(#ball)"/><circle cx="950.46" cy="349.53" r="4.8" fill="url(#ball)"/><circle cx="950.91" cy="349.39" r="4.8" fill="url(#ball)"/><circle cx="951.36" cy="349.42" r="4.8" fill="url(#ball)"/><circle cx="951.81" cy="350.62" r="4.8" fill="url(#ball)"/><circle cx="952.26" cy="350.53" r="4.8" fill="url(#ball)"/><circle cx="952.71" cy="349.37" r="4.8" fill="url(#ball)"/><circle cx="953.16" cy="349.07" r="4.8" fill="url(#ball)"/><circle cx="953.61" cy="350.21" r="4.8" fill="url(#ball)"/><circle cx="954.06" cy="349.86" r="4.8" fill="url(#ball)"/><circle cx="954.51" cy="350.94" r="4.8" fill="url(#ball)"/><circle cx="954.96" cy="352.5" r="4.8" fill="url(#ball)"/><circle cx="955.41" cy="350.79" r="4.8" fill="url(#ball)"/><circle cx="955.86" cy="349.96" r="4.8" fill="url(#ball)"/><circle cx="956.31" cy="349.84" r="4.8" fill="url(#ball)"/><circle cx="956.76" cy="349.2" r="4.8" fill="url(#ball)"/><circle cx="957.21" cy="349.17" r="4.8" fill="url(#ball)"/><circle cx="957.66" cy="349.08" r="4.8" fill="url(#ball)"/><circle cx="958.11" cy="349.67" r="4.8" fill="url(#ball)"/><circle cx="958.56" cy="349.65" r="4.8" fill="url(#ball)"/><circle cx="959.01" cy="350.77" r="4.8" fill="url(#ball)"/><circle cx="959.46" cy="349.69" r="4.8" fill="url(#ball)"/><circle cx="959.91" cy="349.89" r="4.8" fill="url(#ball)"/><circle cx="960.36" cy="348.93" r="4.8" fill="url(#ball)"/><circle cx="960.81" cy="351.66" r="4.8" fill="url(#ball)"/><circle cx="961.26" cy="350.59" r="4.8" fill="url(#ball)"/><circle cx="961.71" cy="351.81" r="4.8" fill="url(#ball)"/><circle cx="962.16" cy="350.88" r="4.8" fill="url(#ball)"/><circle cx="962.61" cy="351.54" r="4.8" fill="url(#ball)"/><circle cx="963.06" cy="349.9" r="4.8" fill="url(#ball)"/><circle cx="963.51" cy="350.83" r="4.8" fill="url(#ball)"/><circle cx="963.96" cy="352.72" r="4.8" fill="url(#ball)"/><circle cx="964.41" cy="349" r="4.8" fill="url(#ball)"/><circle cx="964.86" cy="351.28" r="4.8" fill="url(#ball)"/><circle cx="965.31" cy="351.79" r="4.8" fill="url(#ball)"/><circle cx="965.76" cy="350.58" r="4.8" fill="url(#ball)"/><circle cx="966.21" cy="350.91" r="4.8" fill="url(#ball)"/><circle cx="966.66" cy="351.41" r="4.8" fill="url(#ball)"/><circle cx="967.11" cy="349.56" r="4.8" fill="url(#ball)"/><circle cx="967.56" cy="350.6" r="4.8" fill="url(#ball)"/><circle cx="968.01" cy="349.37" r="4.8" fill="url(#ball)"/><circle cx="968.46" cy="349.56" r="4.8" fill="url(#ball)"/><circle cx="968.91" cy="349.62" r="4.8" fill="url(#ball)"/><circle cx="969.36" cy="350.09" r="4.8" fill="url(#ball)"/><circle cx="969.81" cy="350.38" r="4.8" fill="url(#ball)"/><circle cx="970.26" cy="350.68" r="4.8" fill="url(#ball)"/><circle cx="970.71" cy="348.87" r="4.8" fill="url(#ball)"/><circle cx="971.16" cy="352.18" r="4.8" fill="url(#ball)"/><circle cx="971.61" cy="351.38" r="4.8" fill="url(#ball)"/><circle cx="972.06" cy="350.97" r="4.8" fill="url(#ball)"/><circle cx="972.51" cy="349.92" r="4.8" fill="url(#ball)"/><circle cx="972.96" cy="350.19" r="4.8" fill="url(#ball)"/><circle cx="973.41" cy="350.81" r="4.8" fill="url(#ball)"/><circle cx="973.86" cy="350.69" r="4.8" fill="url(#ball)"/><circle cx="974.31" cy="348.66" r="4.8" fill="url(#ball)"/><circle cx="974.76" cy="351.02" r="4.8" fill="url(#ball)"/><circle cx="975.21" cy="353.14" r="4.8" fill="url(#ball)"/><circle cx="975.66" cy="348.51" r="4.8" fill="url(#ball)"/><circle cx="976.11" cy="351.28" r="4.8" fill="url(#ball)"/><circle cx="976.56" cy="350.68" r="4.8" fill="url(#ball)"/><circle cx="977.01" cy="350.21" r="4.8" fill="url(#ball)"/><circle cx="977.46" cy="351.66" r="4.8" fill="url(#ball)"/><circle cx="977.91" cy="349.18" r="4.8" fill="url(#ball)"/><circle cx="978.36" cy="350.49" r="4.8" fill="url(#ball)"/><circle cx="978.81" cy="351.76" r="4.8" fill="url(#ball)"/><circle cx="979.26" cy="350.15" r="4.8" fill="url(#ball)"/><circle cx="979.71" cy="349.94" r="4.8" fill="url(#ball)"/><circle cx="980.16" cy="350.46" r="4.8" fill="url(#ball)"/><circle cx="980.61" cy="349.92" r="4.8" fill="url(#ball)"/><circle cx="981.06" cy="351.87" r="4.8" fill="url(#ball)"/><circle cx="981.51" cy="349.48" r="4.8" fill="url(#ball)"/><circle cx="981.96" cy="351.22" r="4.8" fill="url(#ball)"/><circle cx="982.41" cy="349.15" r="4.8" fill="url(#ball)"/><circle cx="982.86" cy="351.03" r="4.8" fill="url(#ball)"/><circle cx="983.31" cy="350.28" r="4.8" fill="url(#ball)"/><circle cx="983.76" cy="347.86" r="4.8" fill="url(#ball)"/><circle cx="984.21" cy="350.38" r="4.8" fill="url(#ball)"/><circle cx="984.66" cy="349.35" r="4.8" fill="url(#ball)"/><circle cx="985.11" cy="349.96" r="4.8" fill="url(#ball)"/><circle cx="985.56" cy="351.9" r="4.8" fill="url(#ball)"/><circle cx="986.01" cy="349.31" r="4.8" fill="url(#ball)"/><circle cx="986.46" cy="349.37" r="4.8" fill="url(#ball)"/><circle cx="986.91" cy="351.81" r="4.8" fill="url(#ball)"/><circle cx="987.36" cy="350.52" r="4.8" fill="url(#ball)"/><circle cx="987.81" cy="351.92" r="4.8" fill="url(#ball)"/><circle cx="988.26" cy="350.73" r="4.8" fill="url(#ball)"/><circle cx="988.71" cy="349.56" r="4.8" fill="url(#ball)"/><circle cx="989.16" cy="350.36" r="4.8" fill="url(#ball)"/><circle cx="989.61" cy="351.63" r="4.8" fill="url(#ball)"/><circle cx="990.06" cy="351.35" r="4.8" fill="url(#ball)"/><circle cx="990.51" cy="350.43" r="4.8" fill="url(#ball)"/><circle cx="990.96" cy="350.48" r="4.8" fill="url(#ball)"/><circle cx="991.41" cy="350.33" r="4.8" fill="url(#ball)"/><circle cx="991.86" cy="349.88" r="4.8" fill="url(#ball)"/><circle cx="992.31" cy="352.33" r="4.8" fill="url(#ball)"/><circle cx="992.76" cy="350.46" r="4.8" fill="url(#ball)"/><circle cx="993.21" cy="349.35" r="4.8" fill="url(#ball)"/><circle cx="993.66" cy="349.99" r="4.8" fill="url(#ball)"/><circle cx="994.11" cy="351.17" r="4.8" fill="url(#ball)"/><circle cx="994.56" cy="351.09" r="4.8" fill="url(#ball)"/><circle cx="995.01" cy="350.33" r="4.8" fill="url(#ball)"/><circle cx="995.46" cy="349.81" r="4.8" fill="url(#ball)"/><circle cx="995.91" cy="350.49" r="4.8" fill="url(#ball)"/><circle cx="996.36" cy="348.84" r="4.8" fill="url(#ball)"/><circle cx="996.81" cy="349.2" r="4.8" fill="url(#ball)"/><circle cx="997.26" cy="351.26" r="4.8" fill="url(#ball)"/><circle cx="997.71" cy="350.01" r="4.8" fill="url(#ball)"/><circle cx="998.16" cy="350.85" r="4.8" fill="url(#ball)"/><circle cx="998.61" cy="351.67" r="4.8" fill="url(#ball)"/><circle cx="999.06" cy="351.12" r="4.8" fill="url(#ball)"/><circle cx="999.51" cy="350.51" r="4.8" fill="url(#ball)"/><circle cx="999.96" cy="352.57" r="4.8" fill="url(#ball)"/><circle cx="1000.41" cy="351.15" r="4.8" fill="url(#ball)"/><circle cx="1000.86" cy="350.15" r="4.8" fill="url(#ball)"/><circle cx="1001.31" cy="351.21" r="4.8" fill="url(#ball)"/><circle cx="1001.76" cy="350.9" r="4.8" fill="url(#ball)"/><circle cx="1002.21" cy="349.67" r="4.8" fill="url(#ball)"/><circle cx="1002.66" cy="350.58" r="4.8" fill="url(#ball)"/><circle cx="1003.11" cy="350.35" r="4.8" fill="url(#ball)"/><circle cx="1003.56" cy="348.59" r="4.8" fill="url(#ball)"/><circle cx="1004.01" cy="350.34" r="4.8" fill="url(#ball)"/><circle cx="1004.46" cy="350.24" r="4.8" fill="url(#ball)"/><circle cx="1004.91" cy="350.09" r="4.8" fill="url(#ball)"/><circle cx="1005.36" cy="348.91" r="4.8" fill="url(#ball)"/><circle cx="1005.81" cy="350.17" r="4.8" fill="url(#ball)"/><circle cx="1006.26" cy="350.48" r="4.8" fill="url(#ball)"/><circle cx="1006.71" cy="350.62" r="4.8" fill="url(#ball)"/><circle cx="1007.16" cy="349.42" r="4.8" fill="url(#ball)"/><circle cx="1007.61" cy="351.15" r="4.8" fill="url(#ball)"/><circle cx="1008.06" cy="349.34" r="4.8" fill="url(#ball)"/><circle cx="1008.51" cy="350.31" r="4.8" fill="url(#ball)"/><circle cx="1008.96" cy="351.81" r="4.8" fill="url(#ball)"/><circle cx="1009.41" cy="349.86" r="4.8" fill="url(#ball)"/><circle cx="1009.86" cy="350.04" r="4.8" fill="url(#ball)"/><circle cx="1010.31" cy="351.59" r="4.8" fill="url(#ball)"/><circle cx="1010.76" cy="350.17" r="4.8" fill="url(#ball)"/><circle cx="1011.21" cy="350.25" r="4.8" fill="url(#ball)"/><circle cx="1011.66" cy="350.76" r="4.8" fill="url(#ball)"/><circle cx="1012.11" cy="351.57" r="4.8" fill="url(#ball)"/><circle cx="1012.56" cy="348.4" r="4.8" fill="url(#ball)"/><circle cx="1013.01" cy="349.74" r="4.8" fill="url(#ball)"/><circle cx="1013.46" cy="349.57" r="4.8" fill="url(#ball)"/><circle cx="1013.91" cy="349.49" r="4.8" fill="url(#ball)"/><circle cx="1014.36" cy="349.72" r="4.8" fill="url(#ball)"/><circle cx="1014.81" cy="349.74" r="4.8" fill="url(#ball)"/><circle cx="1015.26" cy="350.85" r="4.8" fill="url(#ball)"/><circle cx="1015.71" cy="349.69" r="4.8" fill="url(#ball)"/><circle cx="1016.16" cy="350.68" r="4.8" fill="url(#ball)"/><circle cx="1016.61" cy="350.95" r="4.8" fill="url(#ball)"/><circle cx="1017.06" cy="349.85" r="4.8" fill="url(#ball)"/><circle cx="1017.51" cy="350.69" r="4.8" fill="url(#ball)"/><circle cx="1017.96" cy="352.16" r="4.8" fill="url(#ball)"/><circle cx="1018.41" cy="350.88" r="4.8" fill="url(#ball)"/><circle cx="1018.86" cy="349.95" r="4.8" fill="url(#ball)"/><circle cx="1019.31" cy="350.51" r="4.8" fill="url(#ball)"/><circle cx="1019.76" cy="349.68" r="4.8" fill="url(#ball)"/><circle cx="1020.21" cy="350.84" r="4.8" fill="url(#ball)"/><circle cx="1020.66" cy="351.42" r="4.8" fill="url(#ball)"/><circle cx="1021.11" cy="349.78" r="4.8" fill="url(#ball)"/><circle cx="1021.56" cy="350.38" r="4.8" fill="url(#ball)"/><circle cx="1022.01" cy="351.66" r="4.8" fill="url(#ball)"/><circle cx="1022.46" cy="350.1" r="4.8" fill="url(#ball)"/><circle cx="1022.91" cy="350.77" r="4.8" fill="url(#ball)"/><circle cx="1023.36" cy="349.59" r="4.8" fill="url(#ball)"/><circle cx="1023.81" cy="349.79" r="4.8" fill="url(#ball)"/><circle cx="1024.26" cy="350.09" r="4.8" fill="url(#ball)"/><circle cx="1024.71" cy="352.66" r="4.8" fill="url(#ball)"/><circle cx="1025.16" cy="350.2" r="4.8" fill="url(#ball)"/><circle cx="1025.61" cy="350.09" r="4.8" fill="url(#ball)"/><circle cx="1026.06" cy="350.06" r="4.8" fill="url(#ball)"/><circle cx="1026.51" cy="350.44" r="4.8" fill="url(#ball)"/><circle cx="1026.96" cy="351.22" r="4.8" fill="url(#ball)"/><circle cx="1027.41" cy="350.78" r="4.8" fill="url(#ball)"/><circle cx="1027.86" cy="352.55" r="4.8" fill="url(#ball)"/><circle cx="1028.31" cy="350.8" r="4.8" fill="url(#ball)"/><circle cx="1028.76" cy="351.98" r="4.8" fill="url(#ball)"/><circle cx="1029.21" cy="350.87" r="4.8" fill="url(#ball)"/><circle cx="1029.66" cy="351.18" r="4.8" fill="url(#ball)"/><circle cx="1030.11" cy="349.23" r="4.8" fill="url(#ball)"/><circle cx="1030.56" cy="350.49" r="4.8" fill="url(#ball)"/><circle cx="1031.01" cy="350.54" r="4.8" fill="url(#ball)"/><circle cx="1031.46" cy="350.38" r="4.8" fill="url(#ball)"/><circle cx="1031.91" cy="348.56" r="4.8" fill="url(#ball)"/><circle cx="1032.36" cy="351.45" r="4.8" fill="url(#ball)"/><circle cx="1032.81" cy="350.24" r="4.8" fill="url(#ball)"/><circle cx="1033.26" cy="350.2" r="4.8" fill="url(#ball)"/><circle cx="1033.71" cy="350.37" r="4.8" fill="url(#ball)"/><circle cx="1034.16" cy="350.4" r="4.8" fill="url(#ball)"/><circle cx="1034.61" cy="351" r="4.8" fill="url(#ball)"/><circle cx="1035.06" cy="349.41" r="4.8" fill="url(#ball)"/><circle cx="1035.51" cy="349.73" r="4.8" fill="url(#ball)"/><circle cx="1035.96" cy="350.9" r="4.8" fill="url(#ball)"/><circle cx="1036.41" cy="350.76" r="4.8" fill="url(#ball)"/><circle cx="1036.86" cy="350.26" r="4.8" fill="url(#ball)"/><circle cx="1037.31" cy="350.08" r="4.8" fill="url(#ball)"/><circle cx="1037.76" cy="349.83" r="4.8" fill="url(#ball)"/><circle cx="1038.21" cy="350.57" r="4.8" fill="url(#ball)"/><circle cx="1038.66" cy="351.75" r="4.8" fill="url(#ball)"/><circle cx="1039.11" cy="349.62" r="4.8" fill="url(#ball)"/><circle cx="1039.56" cy="352.07" r="4.8" fill="url(#ball)"/><circle cx="1040.01" cy="351.43" r="4.8" fill="url(#ball)"/><circle cx="1040.46" cy="350.2" r="4.8" fill="url(#ball)"/><circle cx="1040.91" cy="351.37" r="4.8" fill="url(#ball)"/><circle cx="1041.36" cy="349.24" r="4.8" fill="url(#ball)"/><circle cx="1041.81" cy="348.99" r="4.8" fill="url(#ball)"/><circle cx="1042.26" cy="349.41" r="4.8" fill="url(#ball)"/><circle cx="1042.71" cy="350.25" r="4.8" fill="url(#ball)"/><circle cx="1043.16" cy="350.33" r="4.8" fill="url(#ball)"/><circle cx="1043.61" cy="350.15" r="4.8" fill="url(#ball)"/><circle cx="1044.06" cy="350.73" r="4.8" fill="url(#ball)"/><circle cx="1044.51" cy="348.61" r="4.8" fill="url(#ball)"/><circle cx="1044.96" cy="351.11" r="4.8" fill="url(#ball)"/><circle cx="1045.41" cy="349.29" r="4.8" fill="url(#ball)"/><circle cx="1045.86" cy="350.01" r="4.8" fill="url(#ball)"/><circle cx="1046.31" cy="350.25" r="4.8" fill="url(#ball)"/><circle cx="1046.76" cy="349.54" r="4.8" fill="url(#ball)"/><circle cx="1047.21" cy="349.34" r="4.8" fill="url(#ball)"/><circle cx="1047.66" cy="349.69" r="4.8" fill="url(#ball)"/><circle cx="1048.11" cy="350.63" r="4.8" fill="url(#ball)"/><circle cx="1048.56" cy="351.21" r="4.8" fill="url(#ball)"/><circle cx="1049.01" cy="351.18" r="4.8" fill="url(#ball)"/><circle cx="1049.46" cy="349.7" r="4.8" fill="url(#ball)"/><circle cx="1049.91" cy="349.9" r="4.8" fill="url(#ball)"/><circle cx="1050.36" cy="349.77" r="4.8" fill="url(#ball)"/><circle cx="1050.81" cy="351.08" r="4.8" fill="url(#ball)"/><circle cx="1051.26" cy="348.72" r="4.8" fill="url(#ball)"/><circle cx="1051.71" cy="351.83" r="4.8" fill="url(#ball)"/><circle cx="1052.16" cy="350.19" r="4.8" fill="url(#ball)"/><circle cx="1052.61" cy="349.91" r="4.8" fill="url(#ball)"/><circle cx="1053.06" cy="350.98" r="4.8" fill="url(#ball)"/><circle cx="1053.51" cy="351.64" r="4.8" fill="url(#ball)"/><circle cx="1053.96" cy="350.98" r="4.8" fill="url(#ball)"/><circle cx="1054.41" cy="351.66" r="4.8" fill="url(#ball)"/><circle cx="1054.86" cy="350.78" r="4.8" fill="url(#ball)"/><circle cx="1055.31" cy="351.83" r="4.8" fill="url(#ball)"/><circle cx="1055.76" cy="351.84" r="4.8" fill="url(#ball)"/><circle cx="1056.21" cy="350.56" r="4.8" fill="url(#ball)"/><circle cx="1056.66" cy="352.03" r="4.8" fill="url(#ball)"/><circle cx="1057.11" cy="350.82" r="4.8" fill="url(#ball)"/><circle cx="1057.56" cy="350.74" r="4.8" fill="url(#ball)"/><circle cx="1058.01" cy="349.79" r="4.8" fill="url(#ball)"/><circle cx="1058.46" cy="350.39" r="4.8" fill="url(#ball)"/><circle cx="1058.91" cy="351.4" r="4.8" fill="url(#ball)"/><circle cx="1059.36" cy="349.42" r="4.8" fill="url(#ball)"/><circle cx="1059.81" cy="351.28" r="4.8" fill="url(#ball)"/><circle cx="1060.26" cy="351" r="4.8" fill="url(#ball)"/><circle cx="1060.71" cy="350.93" r="4.8" fill="url(#ball)"/><circle cx="1061.16" cy="348.57" r="4.8" fill="url(#ball)"/><circle cx="1061.61" cy="350.57" r="4.8" fill="url(#ball)"/><circle cx="1062.06" cy="351.28" r="4.8" fill="url(#ball)"/><circle cx="1062.51" cy="349.94" r="4.8" fill="url(#ball)"/><circle cx="1062.96" cy="350.76" r="4.8" fill="url(#ball)"/><circle cx="1063.41" cy="348.41" r="4.8" fill="url(#ball)"/><circle cx="1063.86" cy="351.31" r="4.8" fill="url(#ball)"/><circle cx="1064.31" cy="350.04" r="4.8" fill="url(#ball)"/><circle cx="1064.76" cy="351.5" r="4.8" fill="url(#ball)"/><circle cx="1065.21" cy="348.92" r="4.8" fill="url(#ball)"/><circle cx="1065.66" cy="351.33" r="4.8" fill="url(#ball)"/><circle cx="1066.11" cy="350.45" r="4.8" fill="url(#ball)"/><circle cx="1066.56" cy="351.44" r="4.8" fill="url(#ball)"/><circle cx="1067.01" cy="349.8" r="4.8" fill="url(#ball)"/><circle cx="1067.46" cy="350.09" r="4.8" fill="url(#ball)"/><circle cx="1067.91" cy="352.81" r="4.8" fill="url(#ball)"/><circle cx="1068.36" cy="349.89" r="4.8" fill="url(#ball)"/><circle cx="1068.81" cy="350.01" r="4.8" fill="url(#ball)"/><circle cx="1069.26" cy="350.42" r="4.8" fill="url(#ball)"/><circle cx="1069.71" cy="349.71" r="4.8" fill="url(#ball)"/><circle cx="1070.16" cy="351.81" r="4.8" fill="url(#ball)"/><circle cx="1070.61" cy="352.32" r="4.8" fill="url(#ball)"/><circle cx="1071.06" cy="350.01" r="4.8" fill="url(#ball)"/><circle cx="1071.51" cy="349.04" r="4.8" fill="url(#ball)"/><circle cx="1071.96" cy="351.8" r="4.8" fill="url(#ball)"/><circle cx="1072.41" cy="351.74" r="4.8" fill="url(#ball)"/><circle cx="1072.86" cy="351.46" r="4.8" fill="url(#ball)"/><circle cx="1073.31" cy="351.78" r="4.8" fill="url(#ball)"/><circle cx="1073.76" cy="349.86" r="4.8" fill="url(#ball)"/><circle cx="1074.21" cy="350.52" r="4.8" fill="url(#ball)"/><circle cx="1074.66" cy="349.37" r="4.8" fill="url(#ball)"/><circle cx="1075.11" cy="349.34" r="4.8" fill="url(#ball)"/><circle cx="1075.56" cy="351.62" r="4.8" fill="url(#ball)"/><circle cx="1076.01" cy="350.05" r="4.8" fill="url(#ball)"/><circle cx="1076.46" cy="352.85" r="4.8" fill="url(#ball)"/><circle cx="1076.91" cy="350.76" r="4.8" fill="url(#ball)"/><circle cx="1077.36" cy="350.08" r="4.8" fill="url(#ball)"/><circle cx="1077.81" cy="351.45" r="4.8" fill="url(#ball)"/><circle cx="1078.26" cy="352.4" r="4.8" fill="url(#ball)"/><circle cx="1078.71" cy="351.15" r="4.8" fill="url(#ball)"/><circle cx="1079.16" cy="349.53" r="4.8" fill="url(#ball)"/><circle cx="1079.61" cy="351.04" r="4.8" fill="url(#ball)"/><circle cx="1080.06" cy="352" r="4.8" fill="url(#ball)"/><circle cx="1080.51" cy="350.22" r="4.8" fill="url(#ball)"/><circle cx="1080.96" cy="349.96" r="4.8" fill="url(#ball)"/><circle cx="1081.41" cy="351.66" r="4.8" fill="url(#ball)"/><circle cx="1081.86" cy="350.83" r="4.8" fill="url(#ball)"/>
</g>
<g transform="scale(0.82 1)"><path d="M837.8 350.69 L838.41 350.69 L839.02 350.68 L839.63 350.68 L840.24 350.68 L840.85 350.68 L841.46 350.68 L842.07 350.68 L842.68 350.68 L843.29 350.68 L843.9 350.68 L844.51 350.68 L845.12 350.68 L845.73 350.68 L846.34 350.68 L846.95 350.68 L847.56 350.68 L848.17 350.68 L848.78 350.67 L849.39 350.67 L850 350.67 L850.61 350.67 L851.22 350.67 L851.83 350.67 L852.44 350.67 L853.05 350.67 L853.66 350.67 L854.27 350.67 L854.88 350.67 L855.49 350.67 L856.1 350.67 L856.71 350.67 L857.32 350.66 L857.93 350.66 L858.54 350.66 L859.15 350.66 L859.76 350.66 L860.37 350.66 L860.98 350.66 L861.59 350.66 L862.2 350.66 L862.8 350.66 L863.41 350.66 L864.02 350.66 L864.63 350.66 L865.24 350.65 L865.85 350.65 L866.46 350.65 L867.07 350.65 L867.68 350.65 L868.29 350.65 L868.9 350.65 L869.51 350.65 L870.12 350.65 L870.73 350.65 L871.34 350.65 L871.95 350.64 L872.56 350.64 L873.17 350.64 L873.78 350.64 L874.39 350.64 L875 350.64 L875.61 350.64 L876.22 350.64 L876.83 350.64 L877.44 350.64 L878.05 350.64 L878.66 350.63 L879.27 350.63 L879.88 350.63 L880.49 350.63 L881.1 350.63 L881.71 350.63 L882.32 350.63 L882.93 350.63 L883.54 350.63 L884.15 350.62 L884.76 350.62 L885.37 350.62 L885.98 350.62 L886.59 350.62 L887.2 350.62 L887.8 350.62 L888.41 350.62 L889.02 350.62 L889.63 350.61 L890.24 350.61 L890.85 350.61 L891.46 350.61 L892.07 350.61 L892.68 350.61 L893.29 350.61 L893.9 350.61 L894.51 350.6 L895.12 350.6 L895.73 350.6 L896.34 350.6 L896.95 350.6 L897.56 350.6 L898.17 350.6 L898.78 350.6 L899.39 350.59 L900 350.59 L900.61 350.59 L901.22 350.59 L901.83 350.59 L902.44 350.59 L903.05 350.59 L903.66 350.58 L904.27 350.58 L904.88 350.58 L905.49 350.58 L906.1 350.58 L906.71 350.58 L907.32 350.57 L907.93 350.57 L908.54 350.57 L909.15 350.57 L909.76 350.57 L910.37 350.57 L910.98 350.56 L911.59 350.56 L912.2 350.56 L912.8 350.56 L913.41 350.56 L914.02 350.56 L914.63 350.55 L915.24 350.55 L915.85 350.55 L916.46 350.55 L917.07 350.55 L917.68 350.54 L918.29 350.54 L918.9 350.54 L919.51 350.54 L920.12 350.54 L920.73 350.53 L921.34 350.53 L921.95 350.53 L922.56 350.53 L923.17 350.53 L923.78 350.52 L924.39 350.52 L925 350.52 L925.61 350.52 L926.22 350.51 L926.83 350.51 L927.44 350.51 L928.05 350.51 L928.66 350.51 L929.27 350.5 L929.88 350.5 L930.49 350.5 L931.1 350.5 L931.71 350.49 L932.32 350.49 L932.93 350.49 L933.54 350.48 L934.15 350.48 L934.76 350.48 L935.37 350.48 L935.98 350.47 L936.59 350.47 L937.2 350.47 L937.8 350.47 L938.41 350.46 L939.02 350.46 L939.63 350.46 L940.24 350.45 L940.85 350.45 L941.46 350.45 L942.07 350.44 L942.68 350.44 L943.29 350.44 L943.9 350.43 L944.51 350.43 L945.12 350.43 L945.73 350.42 L946.34 350.42 L946.95 350.42 L947.56 350.41 L948.17 350.41 L948.78 350.41 L949.39 350.4 L950 350.4 L950.61 350.39 L951.22 350.39 L951.83 350.39 L952.44 350.38 L953.05 350.38 L953.66 350.37 L954.27 350.37 L954.88 350.37 L955.49 350.36 L956.1 350.36 L956.71 350.35 L957.32 350.35 L957.93 350.34 L958.54 350.34 L959.15 350.33 L959.76 350.33 L960.37 350.32 L960.98 350.32 L961.59 350.31 L962.2 350.31 L962.8 350.3 L963.41 350.3 L964.02 350.29 L964.63 350.29 L965.24 350.28 L965.85 350.28 L966.46 350.27 L967.07 350.27 L967.68 350.26 L968.29 350.25 L968.9 350.25 L969.51 350.24 L970.12 350.23 L970.73 350.23 L971.34 350.22 L971.95 350.22 L972.56 350.21 L973.17 350.2 L973.78 350.19 L974.39 350.19 L975 350.18 L975.61 350.17 L976.22 350.17 L976.83 350.16 L977.44 350.15 L978.05 350.14 L978.66 350.13 L979.27 350.13 L979.88 350.12 L980.49 350.11 L981.1 350.1 L981.71 350.09 L982.32 350.08 L982.93 350.07 L983.54 350.06 L984.15 350.05 L984.76 350.04 L985.37 350.03 L985.98 350.02 L986.59 350.01 L987.2 350 L987.8 349.99 L988.41 349.98 L989.02 349.97 L989.63 349.96 L990.24 349.95 L990.85 349.93 L991.46 349.92 L992.07 349.91 L992.68 349.9 L993.29 349.88 L993.9 349.87 L994.51 349.86 L995.12 349.84 L995.73 349.83 L996.34 349.81 L996.95 349.8 L997.56 349.78 L998.17 349.77 L998.78 349.75 L999.39 349.74 L1000 349.72 L1000.61 349.7 L1001.22 349.68 L1001.83 349.67 L1002.44 349.65 L1003.05 349.63 L1003.66 349.61 L1004.27 349.59 L1004.88 349.57 L1005.49 349.55 L1006.1 349.53 L1006.71 349.51 L1007.32 349.48 L1007.93 349.46 L1008.54 349.44 L1009.15 349.41 L1009.76 349.39 L1010.37 349.36 L1010.98 349.33 L1011.59 349.31 L1012.2 349.28 L1012.8 349.25 L1013.41 349.22 L1014.02 349.19 L1014.63 349.16 L1015.24 349.13 L1015.85 349.1 L1016.46 349.06 L1017.07 349.03 L1017.68 348.99 L1018.29 348.95 L1018.9 348.91 L1019.51 348.87 L1020.12 348.83 L1020.73 348.79 L1021.34 348.75 L1021.95 348.7 L1022.56 348.66 L1023.17 348.61 L1023.78 348.56 L1024.39 348.51 L1025 348.45 L1025.61 348.4 L1026.22 348.34 L1026.83 348.28 L1027.44 348.22 L1028.05 348.16 L1028.66 348.09 L1029.27 348.02 L1029.88 347.95 L1030.49 347.88 L1031.1 347.8 L1031.71 347.72 L1032.32 347.64 L1032.93 347.55 L1033.54 347.46 L1034.15 347.37 L1034.76 347.27 L1035.37 347.17 L1035.98 347.06 L1036.59 346.95 L1037.2 346.83 L1037.8 346.71 L1038.41 346.59 L1039.02 346.45 L1039.63 346.31 L1040.24 346.17 L1040.85 346.01 L1041.46 345.85 L1042.07 345.68 L1042.68 345.5 L1043.29 345.31 L1043.9 345.11 L1044.51 344.9 L1045.12 344.68 L1045.73 344.45 L1046.34 344.2 L1046.95 343.94 L1047.56 343.66 L1048.17 343.36 L1048.78 343.05 L1049.39 342.71 L1050 342.36 L1050.61 341.97 L1051.22 341.57 L1051.83 341.13 L1052.44 340.66 L1053.05 340.16 L1053.66 339.62 L1054.27 339.04 L1054.88 338.41 L1055.49 337.74 L1056.1 337 L1056.71 336.2 L1057.32 335.33 L1057.93 334.39 L1058.54 333.35 L1059.15 332.22 L1059.76 330.97 L1060.37 329.6 L1060.98 328.08 L1061.59 326.4 L1062.2 324.52 L1062.8 322.44 L1063.41 320.1 L1064.02 317.47 L1064.63 314.5 L1065.24 311.14 L1065.85 307.32 L1066.46 302.95 L1067.07 297.93 L1067.68 292.14 L1068.29 285.44 L1068.9 277.65 L1069.51 268.55 L1070.12 257.9 L1070.73 245.42 L1071.34 230.79 L1071.95 213.72 L1072.56 193.96 L1073.17 171.45 L1073.78 146.5 L1074.39 120.01 L1075 93.77 L1075.61 70.51 L1076.22 53.56 L1076.83 45.95 L1077.44 49.23 L1078.05 62.69 L1078.66 83.79 L1079.27 109.17 L1079.88 135.77 L1080.49 161.44 L1081.1 184.93 L1081.71 205.74 L1082.32 223.81 L1082.93 239.32 L1083.54 252.56 L1084.15 263.84 L1084.76 273.45 L1085.37 281.66 L1085.98 288.69 L1086.59 294.74 L1087.2 299.95 L1087.8 304.47 L1088.41 308.39 L1089.02 311.8 L1089.63 314.79 L1090.24 317.4 L1090.85 319.69 L1091.46 321.7 L1092.07 323.46 L1092.68 325 L1093.29 326.34 L1093.9 327.5 L1094.51 328.51 L1095.12 329.36 L1095.73 330.07 L1096.34 330.66 L1096.95 331.12 L1097.56 331.48 L1098.17 331.74 L1098.78 331.92 L1099.39 332.03 L1100 332.1 L1100.61 332.16 L1101.22 332.25 L1101.83 332.39 L1102.44 332.62 L1103.05 332.96 L1103.66 333.42 L1104.27 334 L1104.88 334.68 L1105.49 335.42 L1106.1 336.21 L1106.71 337.02 L1107.32 337.82 L1107.93 338.59 L1108.54 339.32 L1109.15 340.01 L1109.76 340.65 L1110.37 341.24 L1110.98 341.78 L1111.59 342.28 L1112.2 342.74 L1112.8 343.16 L1113.41 343.55 L1114.02 343.91 L1114.63 344.24 L1115.24 344.54 L1115.85 344.82 L1116.46 345.08 L1117.07 345.32 L1117.68 345.55 L1118.29 345.76 L1118.9 345.95 L1119.51 346.13 L1120.12 346.31 L1120.73 346.47 L1121.34 346.62 L1121.95 346.76 L1122.56 346.9 L1123.17 347.03 L1123.78 347.15 L1124.39 347.26 L1125 347.37 L1125.61 347.47 L1126.22 347.57 L1126.83 347.66 L1127.44 347.75 L1128.05 347.84 L1128.66 347.92 L1129.27 348 L1129.88 348.07 L1130.49 348.14 L1131.1 348.21 L1131.71 348.28 L1132.32 348.34 L1132.93 348.4 L1133.54 348.46 L1134.15 348.52 L1134.76 348.57 L1135.37 348.62 L1135.98 348.67 L1136.59 348.72 L1137.2 348.77 L1137.8 348.81 L1138.41 348.86 L1139.02 348.9 L1139.63 348.94 L1140.24 348.98 L1140.85 349.01 L1141.46 349.05 L1142.07 349.09 L1142.68 349.12 L1143.29 349.15 L1143.9 349.19 L1144.51 349.22 L1145.12 349.25 L1145.73 349.28 L1146.34 349.31 L1146.95 349.33 L1147.56 349.36 L1148.17 349.39 L1148.78 349.41 L1149.39 349.44 L1150 349.46 L1150.61 349.49 L1151.22 349.51 L1151.83 349.53 L1152.44 349.55 L1153.05 349.57 L1153.66 349.59 L1154.27 349.61 L1154.88 349.63 L1155.49 349.65 L1156.1 349.67 L1156.71 349.69 L1157.32 349.71 L1157.93 349.72 L1158.54 349.74 L1159.15 349.76 L1159.76 349.77 L1160.37 349.79 L1160.98 349.81 L1161.59 349.82 L1162.2 349.83 L1162.8 349.85 L1163.41 349.86 L1164.02 349.88 L1164.63 349.89 L1165.24 349.9 L1165.85 349.92 L1166.46 349.93 L1167.07 349.94 L1167.68 349.95 L1168.29 349.96 L1168.9 349.98 L1169.51 349.99 L1170.12 350 L1170.73 350.01 L1171.34 350.02 L1171.95 350.03 L1172.56 350.04 L1173.17 350.05 L1173.78 350.06 L1174.39 350.07 L1175 350.08 L1175.61 350.09 L1176.22 350.1 L1176.83 350.11 L1177.44 350.11 L1178.05 350.12 L1178.66 350.13 L1179.27 350.14 L1179.88 350.15 L1180.49 350.16 L1181.1 350.16 L1181.71 350.17 L1182.32 350.18 L1182.93 350.19 L1183.54 350.19 L1184.15 350.2 L1184.76 350.21 L1185.37 350.21 L1185.98 350.22 L1186.59 350.23 L1187.2 350.23 L1187.8 350.24 L1188.41 350.25 L1189.02 350.25 L1189.63 350.26 L1190.24 350.26 L1190.85 350.27 L1191.46 350.28 L1192.07 350.28 L1192.68 350.29 L1193.29 350.29 L1193.9 350.3 L1194.51 350.3 L1195.12 350.31 L1195.73 350.31 L1196.34 350.32 L1196.95 350.32 L1197.56 350.33 L1198.17 350.33 L1198.78 350.34 L1199.39 350.34 L1200 350.35 L1200.61 350.35 L1201.22 350.36 L1201.83 350.36 L1202.44 350.37 L1203.05 350.37 L1203.66 350.37 L1204.27 350.38 L1204.88 350.38 L1205.49 350.39 L1206.1 350.39 L1206.71 350.39 L1207.32 350.4 L1207.93 350.4 L1208.54 350.41 L1209.15 350.41 L1209.76 350.41 L1210.37 350.42 L1210.98 350.42 L1211.59 350.42 L1212.2 350.43 L1212.8 350.43 L1213.41 350.43 L1214.02 350.44 L1214.63 350.44 L1215.24 350.44 L1215.85 350.45 L1216.46 350.45 L1217.07 350.45 L1217.68 350.46 L1218.29 350.46 L1218.9 350.46 L1219.51 350.47 L1220.12 350.47 L1220.73 350.47 L1221.34 350.47 L1221.95 350.48 L1222.56 350.48 L1223.17 350.48 L1223.78 350.48 L1224.39 350.49 L1225 350.49 L1225.61 350.49 L1226.22 350.5 L1226.83 350.5 L1227.44 350.5 L1228.05 350.5 L1228.66 350.51 L1229.27 350.51 L1229.88 350.51 L1230.49 350.51 L1231.1 350.51 L1231.71 350.52 L1232.32 350.52 L1232.93 350.52 L1233.54 350.52 L1234.15 350.53 L1234.76 350.53 L1235.37 350.53 L1235.98 350.53 L1236.59 350.53 L1237.2 350.54 L1237.8 350.54 L1238.41 350.54 L1239.02 350.54 L1239.63 350.54 L1240.24 350.55 L1240.85 350.55 L1241.46 350.55 L1242.07 350.55 L1242.68 350.55 L1243.29 350.56 L1243.9 350.56 L1244.51 350.56 L1245.12 350.56 L1245.73 350.56 L1246.34 350.56 L1246.95 350.57 L1247.56 350.57 L1248.17 350.57 L1248.78 350.57 L1249.39 350.57 L1250 350.57 L1250.61 350.58 L1251.22 350.58 L1251.83 350.58 L1252.44 350.58 L1253.05 350.58 L1253.66 350.58 L1254.27 350.59 L1254.88 350.59 L1255.49 350.59 L1256.1 350.59 L1256.71 350.59 L1257.32 350.59 L1257.93 350.59 L1258.54 350.6 L1259.15 350.6 L1259.76 350.6 L1260.37 350.6 L1260.98 350.6 L1261.59 350.6 L1262.2 350.6 L1262.8 350.6 L1263.41 350.61 L1264.02 350.61 L1264.63 350.61 L1265.24 350.61 L1265.85 350.61 L1266.46 350.61 L1267.07 350.61 L1267.68 350.61 L1268.29 350.62 L1268.9 350.62 L1269.51 350.62 L1270.12 350.62 L1270.73 350.62 L1271.34 350.62 L1271.95 350.62 L1272.56 350.62 L1273.17 350.63 L1273.78 350.63 L1274.39 350.63 L1275 350.63 L1275.61 350.63 L1276.22 350.63 L1276.83 350.63 L1277.44 350.63 L1278.05 350.63 L1278.66 350.63 L1279.27 350.64 L1279.88 350.64 L1280.49 350.64 L1281.1 350.64 L1281.71 350.64 L1282.32 350.64 L1282.93 350.64 L1283.54 350.64 L1284.15 350.64 L1284.76 350.64 L1285.37 350.65 L1285.98 350.65 L1286.59 350.65 L1287.2 350.65 L1287.8 350.65 L1288.41 350.65 L1289.02 350.65 L1289.63 350.65 L1290.24 350.65 L1290.85 350.65 L1291.46 350.65 L1292.07 350.65 L1292.68 350.66 L1293.29 350.66 L1293.9 350.66 L1294.51 350.66 L1295.12 350.66 L1295.73 350.66 L1296.34 350.66 L1296.95 350.66 L1297.56 350.66 L1298.17 350.66 L1298.78 350.66 L1299.39 350.66 L1300 350.67 L1300.61 350.67 L1301.22 350.67 L1301.83 350.67 L1302.44 350.67 L1303.05 350.67 L1303.66 350.67 L1304.27 350.67 L1304.88 350.67 L1305.49 350.67 L1306.1 350.67 L1306.71 350.67 L1307.32 350.67 L1307.93 350.67 L1308.54 350.67 L1309.15 350.68 L1309.76 350.68 L1310.37 350.68 L1310.98 350.68 L1311.59 350.68 L1312.2 350.68 L1312.8 350.68 L1313.41 350.68 L1314.02 350.68 L1314.63 350.68 L1315.24 350.68 L1315.85 350.68 L1316.46 350.68 L1317.07 350.68 L1317.68 350.68 L1318.29 350.68 L1318.9 350.69 L1319.51 350.69 L1320.12 350.69 L1320.73 350.69" fill="none" stroke="#ff2a2a" stroke-width="1.9"/></g>
<path d="M687 351.69 L687.5 351.69 L688 351.69 L688.5 351.69 L689 351.69 L689.5 351.69 L690 351.69 L690.5 351.69 L691 351.69 L691.5 351.69 L692 351.69 L692.5 351.69 L693 351.69 L693.5 351.69 L694 351.69 L694.5 351.69 L695 351.69 L695.5 351.69 L696 351.69 L696.5 351.69 L697 351.69 L697.5 351.69 L698 351.69 L698.5 351.69 L699 351.69 L699.5 351.69 L700 351.69 L700.5 351.69 L701 351.69 L701.5 351.69 L702 351.69 L702.5 351.69 L703 351.69 L703.5 351.69 L704 351.69 L704.5 351.69 L705 351.69 L705.5 351.69 L706 351.69 L706.5 351.69 L707 351.69 L707.5 351.69 L708 351.69 L708.5 351.69 L709 351.69 L709.5 351.69 L710 351.69 L710.5 351.69 L711 351.69 L711.5 351.69 L712 351.69 L712.5 351.69 L713 351.69 L713.5 351.69 L714 351.69 L714.5 351.69 L715 351.69 L715.5 351.69 L716 351.69 L716.5 351.69 L717 351.69 L717.5 351.69 L718 351.69 L718.5 351.69 L719 351.69 L719.5 351.69 L720 351.69 L720.5 351.69 L721 351.69 L721.5 351.69 L722 351.69 L722.5 351.69 L723 351.69 L723.5 351.69 L724 351.69 L724.5 351.69 L725 351.69 L725.5 351.69 L726 351.69 L726.5 351.69 L727 351.69 L727.5 351.69 L728 351.69 L728.5 351.69 L729 351.69 L729.5 351.69 L730 351.69 L730.5 351.69 L731 351.69 L731.5 351.69 L732 351.69 L732.5 351.69 L733 351.69 L733.5 351.69 L734 351.69 L734.5 351.69 L735 351.69 L735.5 351.69 L736 351.69 L736.5 351.69 L737 351.69 L737.5 351.69 L738 351.69 L738.5 351.69 L739 351.69 L739.5 351.69 L740 351.69 L740.5 351.69 L741 351.69 L741.5 351.69 L742 351.69 L742.5 351.69 L743 351.69 L743.5 351.69 L744 351.69 L744.5 351.69 L745 351.69 L745.5 351.69 L746 351.69 L746.5 351.69 L747 351.69 L747.5 351.69 L748 351.69 L748.5 351.69 L749 351.69 L749.5 351.69 L750 351.69 L750.5 351.69 L751 351.69 L751.5 351.69 L752 351.69 L752.5 351.69 L753 351.69 L753.5 351.69 L754 351.69 L754.5 351.69 L755 351.69 L755.5 351.69 L756 351.69 L756.5 351.69 L757 351.69 L757.5 351.69 L758 351.69 L758.5 351.69 L759 351.69 L759.5 351.69 L760 351.69 L760.5 351.69 L761 351.69 L761.5 351.69 L762 351.69 L762.5 351.69 L763 351.69 L763.5 351.69 L764 351.69 L764.5 351.69 L765 351.69 L765.5 351.69 L766 351.69 L766.5 351.69 L767 351.69 L767.5 351.69 L768 351.69 L768.5 351.68 L769 351.68 L769.5 351.68 L770 351.68 L770.5 351.68 L771 351.68 L771.5 351.68 L772 351.68 L772.5 351.68 L773 351.68 L773.5 351.68 L774 351.68 L774.5 351.68 L775 351.68 L775.5 351.68 L776 351.68 L776.5 351.68 L777 351.68 L777.5 351.68 L778 351.68 L778.5 351.68 L779 351.68 L779.5 351.68 L780 351.68 L780.5 351.68 L781 351.68 L781.5 351.68 L782 351.68 L782.5 351.68 L783 351.68 L783.5 351.68 L784 351.68 L784.5 351.68 L785 351.68 L785.5 351.68 L786 351.68 L786.5 351.68 L787 351.68 L787.5 351.68 L788 351.68 L788.5 351.68 L789 351.68 L789.5 351.68 L790 351.68 L790.5 351.68 L791 351.68 L791.5 351.68 L792 351.68 L792.5 351.68 L793 351.68 L793.5 351.68 L794 351.68 L794.5 351.68 L795 351.68 L795.5 351.67 L796 351.67 L796.5 351.67 L797 351.67 L797.5 351.67 L798 351.67 L798.5 351.67 L799 351.67 L799.5 351.67 L800 351.67 L800.5 351.67 L801 351.67 L801.5 351.67 L802 351.67 L802.5 351.67 L803 351.67 L803.5 351.67 L804 351.67 L804.5 351.67 L805 351.67 L805.5 351.67 L806 351.67 L806.5 351.67 L807 351.67 L807.5 351.67 L808 351.67 L808.5 351.67 L809 351.67 L809.5 351.67 L810 351.66 L810.5 351.66 L811 351.66 L811.5 351.66 L812 351.66 L812.5 351.66 L813 351.66 L813.5 351.66 L814 351.66 L814.5 351.66 L815 351.66 L815.5 351.66 L816 351.66 L816.5 351.66 L817 351.66 L817.5 351.66 L818 351.66 L818.5 351.66 L819 351.65 L819.5 351.65 L820 351.65 L820.5 351.65 L821 351.65 L821.5 351.65 L822 351.65 L822.5 351.65 L823 351.65 L823.5 351.65 L824 351.65 L824.5 351.65 L825 351.65 L825.5 351.64 L826 351.64 L826.5 351.64 L827 351.64 L827.5 351.64 L828 351.64 L828.5 351.64 L829 351.64 L829.5 351.64 L830 351.64 L830.5 351.63 L831 351.63 L831.5 351.63 L832 351.63 L832.5 351.63 L833 351.63 L833.5 351.63 L834 351.63 L834.5 351.62 L835 351.62 L835.5 351.62 L836 351.62 L836.5 351.62 L837 351.62 L837.5 351.61 L838 351.61 L838.5 351.61 L839 351.61 L839.5 351.61 L840 351.6 L840.5 351.6 L841 351.6 L841.5 351.6 L842 351.6 L842.5 351.59 L843 351.59 L843.5 351.59 L844 351.59 L844.5 351.58 L845 351.58 L845.5 351.58 L846 351.57 L846.5 351.57 L847 351.57 L847.5 351.56 L848 351.56 L848.5 351.56 L849 351.55 L849.5 351.55 L850 351.54 L850.5 351.54 L851 351.53 L851.5 351.53 L852 351.52 L852.5 351.52 L853 351.51 L853.5 351.51 L854 351.5 L854.5 351.49 L855 351.48 L855.5 351.48 L856 351.47 L856.5 351.46 L857 351.45 L857.5 351.44 L858 351.43 L858.5 351.42 L859 351.41 L859.5 351.4 L860 351.39 L860.5 351.37 L861 351.36 L861.5 351.34 L862 351.33 L862.5 351.31 L863 351.29 L863.5 351.27 L864 351.25 L864.5 351.22 L865 351.2 L865.5 351.17 L866 351.14 L866.5 351.1 L867 351.07 L867.5 351.03 L868 350.98 L868.5 350.94 L869 350.88 L869.5 350.82 L870 350.76 L870.5 350.69 L871 350.6 L871.5 350.51 L872 350.41 L872.5 350.3 L873 350.17 L873.5 350.03 L874 349.87 L874.5 349.69 L875 349.49 L875.5 349.27 L876 349.02 L876.5 348.75 L877 348.47 L877.5 348.17 L878 347.88 L878.5 347.6 L879 347.35 L879.5 347.16 L880 347.04 L880.5 347 L881 347.05 L881.5 347.19 L882 347.39 L882.5 347.64 L883 347.91 L883.5 348.19 L884 348.46 L884.5 348.72 L885 348.96 L885.5 349.18 L886 349.37 L886.5 349.54 L887 349.68 L887.5 349.81 L888 349.92 L888.5 350.01 L889 350.09 L889.5 350.15 L890 350.2 L890.5 350.24 L891 350.27 L891.5 350.28 L892 350.29 L892.5 350.28 L893 350.27 L893.5 350.24 L894 350.2 L894.5 350.15 L895 350.09 L895.5 350.01 L896 349.92 L896.5 349.81 L897 349.68 L897.5 349.54 L898 349.37 L898.5 349.18 L899 348.96 L899.5 348.72 L900 348.46 L900.5 348.19 L901 347.91 L901.5 347.64 L902 347.39 L902.5 347.19 L903 347.05 L903.5 347 L904 347.04 L904.5 347.16 L905 347.35 L905.5 347.6 L906 347.88 L906.5 348.17 L907 348.47 L907.5 348.75 L908 349.02 L908.5 349.27 L909 349.49 L909.5 349.69 L910 349.87 L910.5 350.03 L911 350.17 L911.5 350.3 L912 350.41 L912.5 350.51 L913 350.6 L913.5 350.69 L914 350.76 L914.5 350.82 L915 350.88 L915.5 350.94 L916 350.98 L916.5 351.03 L917 351.07 L917.5 351.1 L918 351.14 L918.5 351.17 L919 351.2 L919.5 351.22 L920 351.25 L920.5 351.27 L921 351.29 L921.5 351.31 L922 351.33 L922.5 351.34 L923 351.36 L923.5 351.37 L924 351.39 L924.5 351.4 L925 351.41 L925.5 351.42 L926 351.43 L926.5 351.44 L927 351.45 L927.5 351.46 L928 351.47 L928.5 351.48 L929 351.48 L929.5 351.49 L930 351.5 L930.5 351.51 L931 351.51 L931.5 351.52 L932 351.52 L932.5 351.53 L933 351.53 L933.5 351.54 L934 351.54 L934.5 351.55 L935 351.55 L935.5 351.56 L936 351.56 L936.5 351.56 L937 351.57 L937.5 351.57 L938 351.57 L938.5 351.58 L939 351.58 L939.5 351.58 L940 351.59 L940.5 351.59 L941 351.59 L941.5 351.59 L942 351.6 L942.5 351.6 L943 351.6 L943.5 351.6 L944 351.6 L944.5 351.61 L945 351.61 L945.5 351.61 L946 351.61 L946.5 351.61 L947 351.62 L947.5 351.62 L948 351.62 L948.5 351.62 L949 351.62 L949.5 351.62 L950 351.63 L950.5 351.63 L951 351.63 L951.5 351.63 L952 351.63 L952.5 351.63 L953 351.63 L953.5 351.63 L954 351.64 L954.5 351.64 L955 351.64 L955.5 351.64 L956 351.64 L956.5 351.64 L957 351.64 L957.5 351.64 L958 351.64 L958.5 351.64 L959 351.65 L959.5 351.65 L960 351.65 L960.5 351.65 L961 351.65 L961.5 351.65 L962 351.65 L962.5 351.65 L963 351.65 L963.5 351.65 L964 351.65 L964.5 351.65 L965 351.65 L965.5 351.66 L966 351.66 L966.5 351.66 L967 351.66 L967.5 351.66 L968 351.66 L968.5 351.66 L969 351.66 L969.5 351.66 L970 351.66 L970.5 351.66 L971 351.66 L971.5 351.66 L972 351.66 L972.5 351.66 L973 351.66 L973.5 351.66 L974 351.66 L974.5 351.67 L975 351.67 L975.5 351.67 L976 351.67 L976.5 351.67 L977 351.67 L977.5 351.67 L978 351.67 L978.5 351.67 L979 351.67 L979.5 351.67 L980 351.67 L980.5 351.67 L981 351.67 L981.5 351.67 L982 351.67 L982.5 351.67 L983 351.67 L983.5 351.67 L984 351.67 L984.5 351.67 L985 351.67 L985.5 351.67 L986 351.67 L986.5 351.67 L987 351.67 L987.5 351.67 L988 351.67 L988.5 351.67 L989 351.68 L989.5 351.68 L990 351.68 L990.5 351.68 L991 351.68 L991.5 351.68 L992 351.68 L992.5 351.68 L993 351.68 L993.5 351.68 L994 351.68 L994.5 351.68 L995 351.68 L995.5 351.68 L996 351.68 L996.5 351.68 L997 351.68 L997.5 351.68 L998 351.68 L998.5 351.68 L999 351.68 L999.5 351.68 L1000 351.68 L1000.5 351.68 L1001 351.68 L1001.5 351.68 L1002 351.68 L1002.5 351.68 L1003 351.68 L1003.5 351.68 L1004 351.68 L1004.5 351.68 L1005 351.68 L1005.5 351.68 L1006 351.68 L1006.5 351.68 L1007 351.68 L1007.5 351.68 L1008 351.68 L1008.5 351.68 L1009 351.68 L1009.5 351.68 L1010 351.68 L1010.5 351.68 L1011 351.68 L1011.5 351.68 L1012 351.68 L1012.5 351.68 L1013 351.68 L1013.5 351.68 L1014 351.68 L1014.5 351.68 L1015 351.68 L1015.5 351.68 L1016 351.69 L1016.5 351.69 L1017 351.69 L1017.5 351.69 L1018 351.69 L1018.5 351.69 L1019 351.69 L1019.5 351.69 L1020 351.69 L1020.5 351.69 L1021 351.69 L1021.5 351.69 L1022 351.69 L1022.5 351.69 L1023 351.69 L1023.5 351.69 L1024 351.69 L1024.5 351.69 L1025 351.69 L1025.5 351.69 L1026 351.69 L1026.5 351.69 L1027 351.69 L1027.5 351.69 L1028 351.69 L1028.5 351.69 L1029 351.69 L1029.5 351.69 L1030 351.69 L1030.5 351.69 L1031 351.69 L1031.5 351.69 L1032 351.69 L1032.5 351.69 L1033 351.69 L1033.5 351.69 L1034 351.69 L1034.5 351.69 L1035 351.69 L1035.5 351.69 L1036 351.69 L1036.5 351.69 L1037 351.69 L1037.5 351.69 L1038 351.69 L1038.5 351.69 L1039 351.69 L1039.5 351.69 L1040 351.69 L1040.5 351.69 L1041 351.69 L1041.5 351.69 L1042 351.69 L1042.5 351.69 L1043 351.69 L1043.5 351.69 L1044 351.69 L1044.5 351.69 L1045 351.69 L1045.5 351.69 L1046 351.69 L1046.5 351.69 L1047 351.69 L1047.5 351.69 L1048 351.69 L1048.5 351.69 L1049 351.69 L1049.5 351.69 L1050 351.69 L1050.5 351.69 L1051 351.69 L1051.5 351.69 L1052 351.69 L1052.5 351.69 L1053 351.69 L1053.5 351.69 L1054 351.69 L1054.5 351.69 L1055 351.69 L1055.5 351.69 L1056 351.69 L1056.5 351.69 L1057 351.69 L1057.5 351.69 L1058 351.69 L1058.5 351.69 L1059 351.69 L1059.5 351.69 L1060 351.69 L1060.5 351.69 L1061 351.69 L1061.5 351.69 L1062 351.69 L1062.5 351.69 L1063 351.69 L1063.5 351.69 L1064 351.69 L1064.5 351.69 L1065 351.69 L1065.5 351.69 L1066 351.69 L1066.5 351.69 L1067 351.69 L1067.5 351.69 L1068 351.69 L1068.5 351.69 L1069 351.69 L1069.5 351.69 L1070 351.69 L1070.5 351.69 L1071 351.69 L1071.5 351.69 L1072 351.69 L1072.5 351.69 L1073 351.69 L1073.5 351.69 L1074 351.69 L1074.5 351.69 L1075 351.69 L1075.5 351.69 L1076 351.69 L1076.5 351.69 L1077 351.69 L1077.5 351.69 L1078 351.69 L1078.5 351.69 L1079 351.69 L1079.5 351.69 L1080 351.69 L1080.5 351.69 L1081 351.69 L1081.5 351.69 L1082 351.69 L1082.5 351.69 L1083 351.69" fill="none" stroke="#1f6fe0" stroke-width="1.6"/>
<g transform="scale(0.82 1)"><path d="M837.8 350.69 L838.41 350.69 L839.02 350.69 L839.63 350.69 L840.24 350.69 L840.85 350.69 L841.46 350.69 L842.07 350.69 L842.68 350.69 L843.29 350.69 L843.9 350.69 L844.51 350.69 L845.12 350.69 L845.73 350.68 L846.34 350.68 L846.95 350.68 L847.56 350.68 L848.17 350.68 L848.78 350.68 L849.39 350.68 L850 350.68 L850.61 350.68 L851.22 350.68 L851.83 350.68 L852.44 350.68 L853.05 350.68 L853.66 350.68 L854.27 350.68 L854.88 350.67 L855.49 350.67 L856.1 350.67 L856.71 350.67 L857.32 350.67 L857.93 350.67 L858.54 350.67 L859.15 350.67 L859.76 350.67 L860.37 350.67 L860.98 350.67 L861.59 350.67 L862.2 350.67 L862.8 350.67 L863.41 350.66 L864.02 350.66 L864.63 350.66 L865.24 350.66 L865.85 350.66 L866.46 350.66 L867.07 350.66 L867.68 350.66 L868.29 350.66 L868.9 350.66 L869.51 350.66 L870.12 350.66 L870.73 350.66 L871.34 350.65 L871.95 350.65 L872.56 350.65 L873.17 350.65 L873.78 350.65 L874.39 350.65 L875 350.65 L875.61 350.65 L876.22 350.65 L876.83 350.65 L877.44 350.65 L878.05 350.64 L878.66 350.64 L879.27 350.64 L879.88 350.64 L880.49 350.64 L881.1 350.64 L881.71 350.64 L882.32 350.64 L882.93 350.64 L883.54 350.64 L884.15 350.63 L884.76 350.63 L885.37 350.63 L885.98 350.63 L886.59 350.63 L887.2 350.63 L887.8 350.63 L888.41 350.63 L889.02 350.63 L889.63 350.62 L890.24 350.62 L890.85 350.62 L891.46 350.62 L892.07 350.62 L892.68 350.62 L893.29 350.62 L893.9 350.62 L894.51 350.61 L895.12 350.61 L895.73 350.61 L896.34 350.61 L896.95 350.61 L897.56 350.61 L898.17 350.61 L898.78 350.61 L899.39 350.6 L900 350.6 L900.61 350.6 L901.22 350.6 L901.83 350.6 L902.44 350.6 L903.05 350.6 L903.66 350.59 L904.27 350.59 L904.88 350.59 L905.49 350.59 L906.1 350.59 L906.71 350.59 L907.32 350.59 L907.93 350.58 L908.54 350.58 L909.15 350.58 L909.76 350.58 L910.37 350.58 L910.98 350.58 L911.59 350.57 L912.2 350.57 L912.8 350.57 L913.41 350.57 L914.02 350.57 L914.63 350.57 L915.24 350.56 L915.85 350.56 L916.46 350.56 L917.07 350.56 L917.68 350.56 L918.29 350.56 L918.9 350.55 L919.51 350.55 L920.12 350.55 L920.73 350.55 L921.34 350.55 L921.95 350.54 L922.56 350.54 L923.17 350.54 L923.78 350.54 L924.39 350.54 L925 350.53 L925.61 350.53 L926.22 350.53 L926.83 350.53 L927.44 350.52 L928.05 350.52 L928.66 350.52 L929.27 350.52 L929.88 350.52 L930.49 350.51 L931.1 350.51 L931.71 350.51 L932.32 350.51 L932.93 350.5 L933.54 350.5 L934.15 350.5 L934.76 350.5 L935.37 350.49 L935.98 350.49 L936.59 350.49 L937.2 350.48 L937.8 350.48 L938.41 350.48 L939.02 350.48 L939.63 350.47 L940.24 350.47 L940.85 350.47 L941.46 350.46 L942.07 350.46 L942.68 350.46 L943.29 350.46 L943.9 350.45 L944.51 350.45 L945.12 350.45 L945.73 350.44 L946.34 350.44 L946.95 350.44 L947.56 350.43 L948.17 350.43 L948.78 350.42 L949.39 350.42 L950 350.42 L950.61 350.41 L951.22 350.41 L951.83 350.41 L952.44 350.4 L953.05 350.4 L953.66 350.39 L954.27 350.39 L954.88 350.39 L955.49 350.38 L956.1 350.38 L956.71 350.37 L957.32 350.37 L957.93 350.37 L958.54 350.36 L959.15 350.36 L959.76 350.35 L960.37 350.35 L960.98 350.34 L961.59 350.34 L962.2 350.33 L962.8 350.33 L963.41 350.32 L964.02 350.32 L964.63 350.31 L965.24 350.31 L965.85 350.3 L966.46 350.3 L967.07 350.29 L967.68 350.28 L968.29 350.28 L968.9 350.27 L969.51 350.27 L970.12 350.26 L970.73 350.25 L971.34 350.25 L971.95 350.24 L972.56 350.23 L973.17 350.23 L973.78 350.22 L974.39 350.21 L975 350.21 L975.61 350.2 L976.22 350.19 L976.83 350.19 L977.44 350.18 L978.05 350.17 L978.66 350.16 L979.27 350.15 L979.88 350.15 L980.49 350.14 L981.1 350.13 L981.71 350.12 L982.32 350.11 L982.93 350.1 L983.54 350.09 L984.15 350.09 L984.76 350.08 L985.37 350.07 L985.98 350.06 L986.59 350.05 L987.2 350.04 L987.8 350.03 L988.41 350.02 L989.02 350 L989.63 349.99 L990.24 349.98 L990.85 349.97 L991.46 349.96 L992.07 349.95 L992.68 349.93 L993.29 349.92 L993.9 349.91 L994.51 349.89 L995.12 349.88 L995.73 349.87 L996.34 349.85 L996.95 349.84 L997.56 349.82 L998.17 349.81 L998.78 349.79 L999.39 349.78 L1000 349.76 L1000.61 349.75 L1001.22 349.73 L1001.83 349.71 L1002.44 349.69 L1003.05 349.67 L1003.66 349.66 L1004.27 349.64 L1004.88 349.62 L1005.49 349.6 L1006.1 349.58 L1006.71 349.55 L1007.32 349.53 L1007.93 349.51 L1008.54 349.49 L1009.15 349.46 L1009.76 349.44 L1010.37 349.41 L1010.98 349.39 L1011.59 349.36 L1012.2 349.34 L1012.8 349.31 L1013.41 349.28 L1014.02 349.25 L1014.63 349.22 L1015.24 349.19 L1015.85 349.16 L1016.46 349.12 L1017.07 349.09 L1017.68 349.05 L1018.29 349.02 L1018.9 348.98 L1019.51 348.94 L1020.12 348.9 L1020.73 348.86 L1021.34 348.82 L1021.95 348.77 L1022.56 348.73 L1023.17 348.68 L1023.78 348.63 L1024.39 348.58 L1025 348.53 L1025.61 348.48 L1026.22 348.42 L1026.83 348.36 L1027.44 348.3 L1028.05 348.24 L1028.66 348.18 L1029.27 348.11 L1029.88 348.04 L1030.49 347.97 L1031.1 347.89 L1031.71 347.82 L1032.32 347.73 L1032.93 347.65 L1033.54 347.56 L1034.15 347.47 L1034.76 347.37 L1035.37 347.27 L1035.98 347.17 L1036.59 347.06 L1037.2 346.95 L1037.8 346.83 L1038.41 346.7 L1039.02 346.57 L1039.63 346.43 L1040.24 346.29 L1040.85 346.14 L1041.46 345.98 L1042.07 345.81 L1042.68 345.64 L1043.29 345.45 L1043.9 345.26 L1044.51 345.05 L1045.12 344.83 L1045.73 344.6 L1046.34 344.36 L1046.95 344.1 L1047.56 343.82 L1048.17 343.53 L1048.78 343.22 L1049.39 342.89 L1050 342.54 L1050.61 342.16 L1051.22 341.76 L1051.83 341.33 L1052.44 340.87 L1053.05 340.37 L1053.66 339.84 L1054.27 339.27 L1054.88 338.65 L1055.49 337.98 L1056.1 337.25 L1056.71 336.46 L1057.32 335.6 L1057.93 334.66 L1058.54 333.64 L1059.15 332.51 L1059.76 331.28 L1060.37 329.92 L1060.98 328.41 L1061.59 326.75 L1062.2 324.89 L1062.8 322.82 L1063.41 320.5 L1064.02 317.89 L1064.63 314.95 L1065.24 311.61 L1065.85 307.81 L1066.46 303.47 L1067.07 298.49 L1067.68 292.74 L1068.29 286.09 L1068.9 278.34 L1069.51 269.31 L1070.12 258.72 L1070.73 246.31 L1071.34 231.77 L1071.95 214.8 L1072.56 195.15 L1073.17 172.77 L1073.78 147.96 L1074.39 121.62 L1075 95.53 L1075.61 72.41 L1076.22 55.56 L1076.83 48.02 L1077.44 51.3 L1078.05 64.73 L1078.66 85.75 L1079.27 111.03 L1079.88 137.53 L1080.49 163.1 L1081.1 186.52 L1081.71 207.27 L1082.32 225.29 L1082.93 240.77 L1083.54 254 L1084.15 265.27 L1084.76 274.9 L1085.37 283.13 L1085.98 290.2 L1086.59 296.29 L1087.2 301.56 L1087.8 306.15 L1088.41 310.15 L1089.02 313.66 L1089.63 316.76 L1090.24 319.49 L1090.85 321.92 L1091.46 324.09 L1092.07 326.03 L1092.68 327.77 L1093.29 329.34 L1093.9 330.75 L1094.51 332.03 L1095.12 333.2 L1095.73 334.26 L1096.34 335.24 L1096.95 336.12 L1097.56 336.94 L1098.17 337.69 L1098.78 338.38 L1099.39 339.02 L1100 339.62 L1100.61 340.17 L1101.22 340.68 L1101.83 341.15 L1102.44 341.59 L1103.05 342.01 L1103.66 342.39 L1104.27 342.75 L1104.88 343.09 L1105.49 343.41 L1106.1 343.71 L1106.71 343.99 L1107.32 344.25 L1107.93 344.5 L1108.54 344.74 L1109.15 344.96 L1109.76 345.17 L1110.37 345.37 L1110.98 345.56 L1111.59 345.74 L1112.2 345.91 L1112.8 346.08 L1113.41 346.23 L1114.02 346.38 L1114.63 346.52 L1115.24 346.65 L1115.85 346.78 L1116.46 346.9 L1117.07 347.02 L1117.68 347.13 L1118.29 347.23 L1118.9 347.33 L1119.51 347.43 L1120.12 347.53 L1120.73 347.62 L1121.34 347.7 L1121.95 347.78 L1122.56 347.86 L1123.17 347.94 L1123.78 348.01 L1124.39 348.08 L1125 348.15 L1125.61 348.22 L1126.22 348.28 L1126.83 348.34 L1127.44 348.4 L1128.05 348.46 L1128.66 348.51 L1129.27 348.56 L1129.88 348.61 L1130.49 348.66 L1131.1 348.71 L1131.71 348.76 L1132.32 348.8 L1132.93 348.84 L1133.54 348.89 L1134.15 348.93 L1134.76 348.96 L1135.37 349 L1135.98 349.04 L1136.59 349.08 L1137.2 349.11 L1137.8 349.14 L1138.41 349.18 L1139.02 349.21 L1139.63 349.24 L1140.24 349.27 L1140.85 349.3 L1141.46 349.32 L1142.07 349.35 L1142.68 349.38 L1143.29 349.4 L1143.9 349.43 L1144.51 349.45 L1145.12 349.48 L1145.73 349.5 L1146.34 349.52 L1146.95 349.55 L1147.56 349.57 L1148.17 349.59 L1148.78 349.61 L1149.39 349.63 L1150 349.65 L1150.61 349.67 L1151.22 349.69 L1151.83 349.7 L1152.44 349.72 L1153.05 349.74 L1153.66 349.76 L1154.27 349.77 L1154.88 349.79 L1155.49 349.8 L1156.1 349.82 L1156.71 349.83 L1157.32 349.85 L1157.93 349.86 L1158.54 349.88 L1159.15 349.89 L1159.76 349.9 L1160.37 349.92 L1160.98 349.93 L1161.59 349.94 L1162.2 349.95 L1162.8 349.97 L1163.41 349.98 L1164.02 349.99 L1164.63 350 L1165.24 350.01 L1165.85 350.02 L1166.46 350.03 L1167.07 350.04 L1167.68 350.05 L1168.29 350.06 L1168.9 350.07 L1169.51 350.08 L1170.12 350.09 L1170.73 350.1 L1171.34 350.11 L1171.95 350.12 L1172.56 350.13 L1173.17 350.14 L1173.78 350.14 L1174.39 350.15 L1175 350.16 L1175.61 350.17 L1176.22 350.18 L1176.83 350.18 L1177.44 350.19 L1178.05 350.2 L1178.66 350.2 L1179.27 350.21 L1179.88 350.22 L1180.49 350.23 L1181.1 350.23 L1181.71 350.24 L1182.32 350.25 L1182.93 350.25 L1183.54 350.26 L1184.15 350.26 L1184.76 350.27 L1185.37 350.28 L1185.98 350.28 L1186.59 350.29 L1187.2 350.29 L1187.8 350.3 L1188.41 350.3 L1189.02 350.31 L1189.63 350.31 L1190.24 350.32 L1190.85 350.33 L1191.46 350.33 L1192.07 350.34 L1192.68 350.34 L1193.29 350.34 L1193.9 350.35 L1194.51 350.35 L1195.12 350.36 L1195.73 350.36 L1196.34 350.37 L1196.95 350.37 L1197.56 350.38 L1198.17 350.38 L1198.78 350.38 L1199.39 350.39 L1200 350.39 L1200.61 350.4 L1201.22 350.4 L1201.83 350.4 L1202.44 350.41 L1203.05 350.41 L1203.66 350.42 L1204.27 350.42 L1204.88 350.42 L1205.49 350.43 L1206.1 350.43 L1206.71 350.43 L1207.32 350.44 L1207.93 350.44 L1208.54 350.44 L1209.15 350.45 L1209.76 350.45 L1210.37 350.45 L1210.98 350.46 L1211.59 350.46 L1212.2 350.46 L1212.8 350.47 L1213.41 350.47 L1214.02 350.47 L1214.63 350.47 L1215.24 350.48 L1215.85 350.48 L1216.46 350.48 L1217.07 350.49 L1217.68 350.49 L1218.29 350.49 L1218.9 350.49 L1219.51 350.5 L1220.12 350.5 L1220.73 350.5 L1221.34 350.5 L1221.95 350.51 L1222.56 350.51 L1223.17 350.51 L1223.78 350.51 L1224.39 350.52 L1225 350.52 L1225.61 350.52 L1226.22 350.52 L1226.83 350.53 L1227.44 350.53 L1228.05 350.53 L1228.66 350.53 L1229.27 350.53 L1229.88 350.54 L1230.49 350.54 L1231.1 350.54 L1231.71 350.54 L1232.32 350.54 L1232.93 350.55 L1233.54 350.55 L1234.15 350.55 L1234.76 350.55 L1235.37 350.55 L1235.98 350.56 L1236.59 350.56 L1237.2 350.56 L1237.8 350.56 L1238.41 350.56 L1239.02 350.57 L1239.63 350.57 L1240.24 350.57 L1240.85 350.57 L1241.46 350.57 L1242.07 350.57 L1242.68 350.58 L1243.29 350.58 L1243.9 350.58 L1244.51 350.58 L1245.12 350.58 L1245.73 350.58 L1246.34 350.59 L1246.95 350.59 L1247.56 350.59 L1248.17 350.59 L1248.78 350.59 L1249.39 350.59 L1250 350.59 L1250.61 350.6 L1251.22 350.6 L1251.83 350.6 L1252.44 350.6 L1253.05 350.6 L1253.66 350.6 L1254.27 350.6 L1254.88 350.61 L1255.49 350.61 L1256.1 350.61 L1256.71 350.61 L1257.32 350.61 L1257.93 350.61 L1258.54 350.61 L1259.15 350.61 L1259.76 350.62 L1260.37 350.62 L1260.98 350.62 L1261.59 350.62 L1262.2 350.62 L1262.8 350.62 L1263.41 350.62 L1264.02 350.62 L1264.63 350.62 L1265.24 350.63 L1265.85 350.63 L1266.46 350.63 L1267.07 350.63 L1267.68 350.63 L1268.29 350.63 L1268.9 350.63 L1269.51 350.63 L1270.12 350.63 L1270.73 350.64 L1271.34 350.64 L1271.95 350.64 L1272.56 350.64 L1273.17 350.64 L1273.78 350.64 L1274.39 350.64 L1275 350.64 L1275.61 350.64 L1276.22 350.64 L1276.83 350.65 L1277.44 350.65 L1278.05 350.65 L1278.66 350.65 L1279.27 350.65 L1279.88 350.65 L1280.49 350.65 L1281.1 350.65 L1281.71 350.65 L1282.32 350.65 L1282.93 350.65 L1283.54 350.66 L1284.15 350.66 L1284.76 350.66 L1285.37 350.66 L1285.98 350.66 L1286.59 350.66 L1287.2 350.66 L1287.8 350.66 L1288.41 350.66 L1289.02 350.66 L1289.63 350.66 L1290.24 350.66 L1290.85 350.67 L1291.46 350.67 L1292.07 350.67 L1292.68 350.67 L1293.29 350.67 L1293.9 350.67 L1294.51 350.67 L1295.12 350.67 L1295.73 350.67 L1296.34 350.67 L1296.95 350.67 L1297.56 350.67 L1298.17 350.67 L1298.78 350.67 L1299.39 350.68 L1300 350.68 L1300.61 350.68 L1301.22 350.68 L1301.83 350.68 L1302.44 350.68 L1303.05 350.68 L1303.66 350.68 L1304.27 350.68 L1304.88 350.68 L1305.49 350.68 L1306.1 350.68 L1306.71 350.68 L1307.32 350.68 L1307.93 350.68 L1308.54 350.69 L1309.15 350.69 L1309.76 350.69 L1310.37 350.69 L1310.98 350.69 L1311.59 350.69 L1312.2 350.69 L1312.8 350.69 L1313.41 350.69 L1314.02 350.69 L1314.63 350.69 L1315.24 350.69 L1315.85 350.69 L1316.46 350.69 L1317.07 350.69 L1317.68 350.69 L1318.29 350.69 L1318.9 350.69 L1319.51 350.7 L1320.12 350.7 L1320.73 350.7" fill="none" stroke="#b06ce6" stroke-width="1.95" stroke-linejoin="round"/></g>
<circle cx="834.1" cy="349.2" r="4.6" fill="#b06ce6"/>
<g stroke="#000" stroke-width="1.35" fill="none" stroke-linecap="butt">
<rect x="646.4" y="10.9" width="470.9" height="377.1"/>
<path d="M672.15 10.9L672.15 18.8 M672.15 388L672.15 395.9 M724.55 10.9L724.55 18.8 M724.55 388L724.55 395.9 M776.95 10.9L776.95 18.8 M776.95 388L776.95 395.9 M829.35 10.9L829.35 18.8 M829.35 388L829.35 395.9 M881.75 10.9L881.75 18.8 M881.75 388L881.75 395.9 M934.15 10.9L934.15 18.8 M934.15 388L934.15 395.9 M986.55 10.9L986.55 18.8 M986.55 388L986.55 395.9 M1038.95 10.9L1038.95 18.8 M1038.95 388L1038.95 395.9 M1091.35 10.9L1091.35 18.8 M1091.35 388L1091.35 395.9 M645.95 10.9L645.95 15 M645.95 388L645.95 392.1 M698.35 10.9L698.35 15 M698.35 388L698.35 392.1 M750.75 10.9L750.75 15 M750.75 388L750.75 392.1 M803.15 10.9L803.15 15 M803.15 388L803.15 392.1 M855.55 10.9L855.55 15 M855.55 388L855.55 392.1 M907.95 10.9L907.95 15 M907.95 388L907.95 392.1 M960.35 10.9L960.35 15 M960.35 388L960.35 392.1 M1012.75 10.9L1012.75 15 M1012.75 388L1012.75 392.1 M1065.15 10.9L1065.15 15 M1065.15 388L1065.15 392.1 M1117.55 10.9L1117.55 15 M1117.55 388L1117.55 392.1 M638.5 48.5L646.4 48.5 M1109.4 48.5L1117.3 48.5 M638.5 123.9L646.4 123.9 M1109.4 123.9L1117.3 123.9 M638.5 199.3L646.4 199.3 M1109.4 199.3L1117.3 199.3 M638.5 274.7L646.4 274.7 M1109.4 274.7L1117.3 274.7 M638.5 350.1L646.4 350.1 M1109.4 350.1L1117.3 350.1 M642.3 10.9L646.4 10.9 M1113.2 10.9L1117.3 10.9 M642.3 86.32L646.4 86.32 M1113.2 86.32L1117.3 86.32 M642.3 161.74L646.4 161.74 M1113.2 161.74L1117.3 161.74 M642.3 237.16L646.4 237.16 M1113.2 237.16L1117.3 237.16 M642.3 312.58L646.4 312.58 M1113.2 312.58L1117.3 312.58 M642.3 388L646.4 388 M1113.2 388L1117.3 388"/>
</g>
<text transform="translate(672.15 419) scale(0.97 1)" font-size="24.3" text-anchor="middle">-8</text>
<text transform="translate(724.55 419) scale(0.97 1)" font-size="24.3" text-anchor="middle">-6</text>
<text transform="translate(776.95 419) scale(0.97 1)" font-size="24.3" text-anchor="middle">-4</text>
<text transform="translate(829.35 419) scale(0.97 1)" font-size="24.3" text-anchor="middle">-2</text>
<text transform="translate(881.75 419) scale(0.97 1)" font-size="24.3" text-anchor="middle">0</text>
<text transform="translate(934.15 419) scale(0.97 1)" font-size="24.3" text-anchor="middle">2</text>
<text transform="translate(986.55 419) scale(0.97 1)" font-size="24.3" text-anchor="middle">4</text>
<text transform="translate(1038.95 419) scale(0.97 1)" font-size="24.3" text-anchor="middle">6</text>
<text transform="translate(1091.35 419) scale(0.97 1)" font-size="24.3" text-anchor="middle">8</text>
<text x="882.1" y="460.7" font-size="28.15" text-anchor="middle">Velocity (mm/s)</text>
<text transform="translate(609.6 189.8) rotate(-90) scale(1 1.035)" font-size="28.6" text-anchor="middle">Counts</text>
<text transform="translate(882.9 528.8) scale(1.035 1)" font-size="48" text-anchor="middle" style="stroke-width:.6px" font-family='"Liberation Serif", "Times New Roman", Times, serif'>b)</text>
<g stroke="#000" stroke-width="1.3" fill="none">
<rect x="1245.2" y="11.1" width="460.5" height="368.2"/>
<path d="M1245.2 11.1L1245.2 17.8 M1245.2 379.3L1245.2 385.5 M1310.99 11.1L1310.99 17.8 M1310.99 379.3L1310.99 385.5 M1376.77 11.1L1376.77 17.8 M1376.77 379.3L1376.77 385.5 M1442.56 11.1L1442.56 17.8 M1442.56 379.3L1442.56 385.5 M1508.34 11.1L1508.34 17.8 M1508.34 379.3L1508.34 385.5 M1574.13 11.1L1574.13 17.8 M1574.13 379.3L1574.13 385.5 M1639.91 11.1L1639.91 17.8 M1639.91 379.3L1639.91 385.5 M1705.7 11.1L1705.7 17.8 M1705.7 379.3L1705.7 385.5 M1278.09 11.1L1278.09 14.6 M1278.09 379.3L1278.09 382.6 M1343.88 11.1L1343.88 14.6 M1343.88 379.3L1343.88 382.6 M1409.66 11.1L1409.66 14.6 M1409.66 379.3L1409.66 382.6 M1475.45 11.1L1475.45 14.6 M1475.45 379.3L1475.45 382.6 M1541.24 11.1L1541.24 14.6 M1541.24 379.3L1541.24 382.6 M1607.02 11.1L1607.02 14.6 M1607.02 379.3L1607.02 382.6 M1672.81 11.1L1672.81 14.6 M1672.81 379.3L1672.81 382.6 M1238.2 379.3L1245.2 379.3 M1698.2 379.3L1705.7 379.3 M1241.8 365.45L1245.2 365.45 M1701.9 365.45L1705.7 365.45 M1241.8 357.34L1245.2 357.34 M1701.9 357.34L1705.7 357.34 M1241.8 351.59L1245.2 351.59 M1701.9 351.59L1705.7 351.59 M1241.8 347.13L1245.2 347.13 M1701.9 347.13L1705.7 347.13 M1241.8 343.49L1245.2 343.49 M1701.9 343.49L1705.7 343.49 M1241.8 340.4L1245.2 340.4 M1701.9 340.4L1705.7 340.4 M1241.8 337.74L1245.2 337.74 M1701.9 337.74L1705.7 337.74 M1241.8 335.38L1245.2 335.38 M1701.9 335.38L1705.7 335.38 M1238.2 333.28L1245.2 333.28 M1698.2 333.28L1705.7 333.28 M1241.8 319.42L1245.2 319.42 M1701.9 319.42L1705.7 319.42 M1241.8 311.32L1245.2 311.32 M1701.9 311.32L1705.7 311.32 M1241.8 305.57L1245.2 305.57 M1701.9 305.57L1705.7 305.57 M1241.8 301.1L1245.2 301.1 M1701.9 301.1L1705.7 301.1 M1241.8 297.46L1245.2 297.46 M1701.9 297.46L1705.7 297.46 M1241.8 294.38L1245.2 294.38 M1701.9 294.38L1705.7 294.38 M1241.8 291.71L1245.2 291.71 M1701.9 291.71L1705.7 291.71 M1241.8 289.36L1245.2 289.36 M1701.9 289.36L1705.7 289.36 M1238.2 287.25L1245.2 287.25 M1698.2 287.25L1705.7 287.25 M1241.8 273.4L1245.2 273.4 M1701.9 273.4L1705.7 273.4 M1241.8 265.29L1245.2 265.29 M1701.9 265.29L1705.7 265.29 M1241.8 259.54L1245.2 259.54 M1701.9 259.54L1705.7 259.54 M1241.8 255.08L1245.2 255.08 M1701.9 255.08L1705.7 255.08 M1241.8 251.44L1245.2 251.44 M1701.9 251.44L1705.7 251.44 M1241.8 248.35L1245.2 248.35 M1701.9 248.35L1705.7 248.35 M1241.8 245.69L1245.2 245.69 M1701.9 245.69L1705.7 245.69 M1241.8 243.33L1245.2 243.33 M1701.9 243.33L1705.7 243.33 M1238.2 241.23L1245.2 241.23 M1698.2 241.23L1705.7 241.23 M1241.8 227.37L1245.2 227.37 M1701.9 227.37L1705.7 227.37 M1241.8 219.27L1245.2 219.27 M1701.9 219.27L1705.7 219.27 M1241.8 213.52L1245.2 213.52 M1701.9 213.52L1705.7 213.52 M1241.8 209.05L1245.2 209.05 M1701.9 209.05L1705.7 209.05 M1241.8 205.41L1245.2 205.41 M1701.9 205.41L1705.7 205.41 M1241.8 202.33L1245.2 202.33 M1701.9 202.33L1705.7 202.33 M1241.8 199.66L1245.2 199.66 M1701.9 199.66L1705.7 199.66 M1241.8 197.31L1245.2 197.31 M1701.9 197.31L1705.7 197.31 M1238.2 195.2L1245.2 195.2 M1698.2 195.2L1705.7 195.2 M1241.8 181.35L1245.2 181.35 M1701.9 181.35L1705.7 181.35 M1241.8 173.24L1245.2 173.24 M1701.9 173.24L1705.7 173.24 M1241.8 167.49L1245.2 167.49 M1701.9 167.49L1705.7 167.49 M1241.8 163.03L1245.2 163.03 M1701.9 163.03L1705.7 163.03 M1241.8 159.39L1245.2 159.39 M1701.9 159.39L1705.7 159.39 M1241.8 156.3L1245.2 156.3 M1701.9 156.3L1705.7 156.3 M1241.8 153.64L1245.2 153.64 M1701.9 153.64L1705.7 153.64 M1241.8 151.28L1245.2 151.28 M1701.9 151.28L1705.7 151.28 M1238.2 149.18L1245.2 149.18 M1698.2 149.18L1705.7 149.18 M1241.8 135.32L1245.2 135.32 M1701.9 135.32L1705.7 135.32 M1241.8 127.22L1245.2 127.22 M1701.9 127.22L1705.7 127.22 M1241.8 121.47L1245.2 121.47 M1701.9 121.47L1705.7 121.47 M1241.8 117L1245.2 117 M1701.9 117L1705.7 117 M1241.8 113.36L1245.2 113.36 M1701.9 113.36L1705.7 113.36 M1241.8 110.28L1245.2 110.28 M1701.9 110.28L1705.7 110.28 M1241.8 107.61L1245.2 107.61 M1701.9 107.61L1705.7 107.61 M1241.8 105.26L1245.2 105.26 M1701.9 105.26L1705.7 105.26 M1238.2 103.15L1245.2 103.15 M1698.2 103.15L1705.7 103.15 M1241.8 89.3L1245.2 89.3 M1701.9 89.3L1705.7 89.3 M1241.8 81.19L1245.2 81.19 M1701.9 81.19L1705.7 81.19 M1241.8 75.44L1245.2 75.44 M1701.9 75.44L1705.7 75.44 M1241.8 70.98L1245.2 70.98 M1701.9 70.98L1705.7 70.98 M1241.8 67.34L1245.2 67.34 M1701.9 67.34L1705.7 67.34 M1241.8 64.25L1245.2 64.25 M1701.9 64.25L1705.7 64.25 M1241.8 61.59L1245.2 61.59 M1701.9 61.59L1705.7 61.59 M1241.8 59.23L1245.2 59.23 M1701.9 59.23L1705.7 59.23 M1238.2 57.12L1245.2 57.12 M1698.2 57.12L1705.7 57.12 M1241.8 43.27L1245.2 43.27 M1701.9 43.27L1705.7 43.27 M1241.8 35.17L1245.2 35.17 M1701.9 35.17L1705.7 35.17 M1241.8 29.42L1245.2 29.42 M1701.9 29.42L1705.7 29.42 M1241.8 24.95L1245.2 24.95 M1701.9 24.95L1705.7 24.95 M1241.8 21.31L1245.2 21.31 M1701.9 21.31L1705.7 21.31 M1241.8 18.23L1245.2 18.23 M1701.9 18.23L1705.7 18.23 M1241.8 15.56L1245.2 15.56 M1701.9 15.56L1705.7 15.56 M1241.8 13.21L1245.2 13.21 M1701.9 13.21L1705.7 13.21 M1238.2 11.1L1245.2 11.1 M1698.2 11.1L1705.7 11.1"/>
</g>
<text x="1233.8" y="387.6" font-size="22.3" text-anchor="end">10<tspan dy="-9.4" dx="0.6" font-size="14.7">-1</tspan></text>
<text x="1233.8" y="341.58" font-size="22.3" text-anchor="end">10<tspan dy="-9.4" dx="0.6" font-size="14.7">0</tspan></text>
<text x="1233.8" y="295.55" font-size="22.3" text-anchor="end">10<tspan dy="-9.4" dx="0.6" font-size="14.7">1</tspan></text>
<text x="1233.8" y="249.53" font-size="22.3" text-anchor="end">10<tspan dy="-9.4" dx="0.6" font-size="14.7">2</tspan></text>
<text x="1233.8" y="203.5" font-size="22.3" text-anchor="end">10<tspan dy="-9.4" dx="0.6" font-size="14.7">3</tspan></text>
<text x="1233.8" y="157.48" font-size="22.3" text-anchor="end">10<tspan dy="-9.4" dx="0.6" font-size="14.7">4</tspan></text>
<text x="1233.8" y="111.45" font-size="22.3" text-anchor="end">10<tspan dy="-9.4" dx="0.6" font-size="14.7">5</tspan></text>
<text x="1233.8" y="65.42" font-size="22.3" text-anchor="end">10<tspan dy="-9.4" dx="0.6" font-size="14.7">6</tspan></text>
<text x="1233.8" y="19.4" font-size="22.3" text-anchor="end">10<tspan dy="-9.4" dx="0.6" font-size="14.7">7</tspan></text>
<text x="1245.2" y="408.6" font-size="22.9" text-anchor="middle">20</text>
<text x="1310.99" y="408.6" font-size="22.9" text-anchor="middle">30</text>
<text x="1376.77" y="408.6" font-size="22.9" text-anchor="middle">40</text>
<text x="1442.56" y="408.6" font-size="22.9" text-anchor="middle">50</text>
<text x="1508.34" y="408.6" font-size="22.9" text-anchor="middle">60</text>
<text x="1574.13" y="408.6" font-size="22.9" text-anchor="middle">70</text>
<text x="1639.91" y="408.6" font-size="22.9" text-anchor="middle">80</text>
<text x="1705.7" y="408.6" font-size="22.9" text-anchor="middle">90</text>
<text x="1475.7" y="452.8" font-size="32.55" text-anchor="middle">2-theta (deg)</text>
<text transform="translate(1184.6 190) rotate(-90) scale(1 1.02)" font-size="32.3" text-anchor="middle">Counts</text>
<text transform="translate(1476.6 529.4) scale(0.93 1)" font-size="42.5" text-anchor="middle" style="stroke-width:.45px">c<tspan dx="1.5">)</tspan></text>
<path d="M1278.8 355.23 L1278.93 302.48 L1279.06 323.06 L1279.19 302.48 L1279.33 311.32 L1279.46 309.21 L1279.59 316.34 L1279.72 316.34 L1279.85 307.3 L1279.98 305.57 L1280.11 305.57 L1280.24 307.3 L1280.38 309.21 L1280.51 309.21 L1280.64 319.42 L1280.77 303.97 L1280.9 319.42 L1281.03 316.34 L1281.16 323.06 L1281.29 309.21 L1281.43 309.21 L1281.56 323.06 L1281.69 323.06 L1281.82 316.34 L1281.95 323.06 L1282.08 319.42 L1282.21 319.42 L1282.35 311.32 L1282.48 319.42 L1282.61 307.3 L1282.74 319.42 L1282.87 309.21 L1283 305.57 L1283.13 327.52 L1283.26 313.67 L1283.4 311.32 L1283.53 299.81 L1283.66 309.21 L1283.79 305.57 L1283.92 309.21 L1284.05 319.42 L1284.18 311.32 L1284.31 311.32 L1284.45 319.42 L1284.58 319.42 L1284.71 301.1 L1284.84 323.06 L1284.97 313.67 L1285.1 313.67 L1285.23 327.52 L1285.37 313.67 L1285.5 311.32 L1285.63 323.06 L1285.76 311.32 L1285.89 319.42 L1286.02 305.57 L1286.15 307.3 L1286.28 323.06 L1286.42 313.67 L1286.55 313.67 L1286.68 301.1 L1286.81 316.34 L1286.94 302.48 L1287.07 309.21 L1287.2 319.42 L1287.33 307.3 L1287.47 301.1 L1287.6 313.67 L1287.73 319.42 L1287.86 305.57 L1287.99 319.42 L1288.12 309.21 L1288.25 302.48 L1288.38 311.32 L1288.52 309.21 L1288.65 319.42 L1288.78 307.3 L1288.91 305.57 L1289.04 302.48 L1289.17 319.42 L1289.3 311.32 L1289.44 309.21 L1289.57 316.34 L1289.7 316.34 L1289.83 319.42 L1289.96 319.42 L1290.09 316.34 L1290.22 319.42 L1290.35 316.34 L1290.49 303.97 L1290.62 323.06 L1290.75 319.42 L1290.88 311.32 L1291.01 301.1 L1291.14 313.67 L1291.27 311.32 L1291.4 327.52 L1291.54 316.34 L1291.67 309.21 L1291.8 302.48 L1291.93 319.42 L1292.06 327.52 L1292.19 316.34 L1292.32 316.34 L1292.46 313.67 L1292.59 311.32 L1292.72 309.21 L1292.85 303.97 L1292.98 319.42 L1293.11 319.42 L1293.24 319.42 L1293.37 323.06 L1293.51 311.32 L1293.64 309.21 L1293.77 313.67 L1293.9 323.06 L1294.03 307.3 L1294.16 311.32 L1294.29 341.38 L1294.42 316.34 L1294.56 307.3 L1294.69 313.67 L1294.82 316.34 L1294.95 323.06 L1295.08 313.67 L1295.21 301.1 L1295.34 313.67 L1295.48 311.32 L1295.61 319.42 L1295.74 316.34 L1295.87 311.32 L1296 309.21 L1296.13 309.21 L1296.26 307.3 L1296.39 316.34 L1296.53 333.28 L1296.66 309.21 L1296.79 313.67 L1296.92 313.67 L1297.05 316.34 L1297.18 327.52 L1297.31 311.32 L1297.44 313.67 L1297.58 305.57 L1297.71 319.42 L1297.84 319.42 L1297.97 302.48 L1298.1 309.21 L1298.23 307.3 L1298.36 327.52 L1298.49 311.32 L1298.63 307.3 L1298.76 323.06 L1298.89 305.57 L1299.02 341.38 L1299.15 309.21 L1299.28 319.42 L1299.41 307.3 L1299.55 311.32 L1299.68 319.42 L1299.81 313.67 L1299.94 311.32 L1300.07 307.3 L1300.2 307.3 L1300.33 294.38 L1300.46 316.34 L1300.6 341.38 L1300.73 309.21 L1300.86 316.34 L1300.99 323.06 L1301.12 299.81 L1301.25 311.32 L1301.38 311.32 L1301.51 327.52 L1301.65 309.21 L1301.78 313.67 L1301.91 319.42 L1302.04 319.42 L1302.17 307.3 L1302.3 319.42 L1302.43 311.32 L1302.57 327.52 L1302.7 323.06 L1302.83 311.32 L1302.96 307.3 L1303.09 313.67 L1303.22 311.32 L1303.35 313.67 L1303.48 311.32 L1303.62 305.57 L1303.75 305.57 L1303.88 303.97 L1304.01 316.34 L1304.14 319.42 L1304.27 313.67 L1304.4 311.32 L1304.53 307.3 L1304.67 309.21 L1304.8 313.67 L1304.93 316.34 L1305.06 327.52 L1305.19 319.42 L1305.32 327.52 L1305.45 316.34 L1305.59 311.32 L1305.72 309.21 L1305.85 311.32 L1305.98 303.97 L1306.11 316.34 L1306.24 311.32 L1306.37 319.42 L1306.5 319.42 L1306.64 316.34 L1306.77 313.67 L1306.9 307.3 L1307.03 319.42 L1307.16 323.06 L1307.29 319.42 L1307.42 309.21 L1307.55 323.06 L1307.69 313.67 L1307.82 333.28 L1307.95 307.3 L1308.08 319.42 L1308.21 341.38 L1308.34 319.42 L1308.47 327.52 L1308.61 313.67 L1308.74 327.52 L1308.87 313.67 L1309 316.34 L1309.13 307.3 L1309.26 309.21 L1309.39 323.06 L1309.52 311.32 L1309.66 309.21 L1309.79 316.34 L1309.92 307.3 L1310.05 316.34 L1310.18 313.67 L1310.31 323.06 L1310.44 327.52 L1310.57 319.42 L1310.71 311.32 L1310.84 316.34 L1310.97 316.34 L1311.1 323.06 L1311.23 319.42 L1311.36 323.06 L1311.49 316.34 L1311.62 311.32 L1311.76 305.57 L1311.89 327.52 L1312.02 316.34 L1312.15 316.34 L1312.28 309.21 L1312.41 323.06 L1312.54 323.06 L1312.68 311.32 L1312.81 319.42 L1312.94 316.34 L1313.07 311.32 L1313.2 327.52 L1313.33 316.34 L1313.46 319.42 L1313.59 319.42 L1313.73 311.32 L1313.86 319.42 L1313.99 309.21 L1314.12 313.67 L1314.25 316.34 L1314.38 313.67 L1314.51 311.32 L1314.64 309.21 L1314.78 313.67 L1314.91 313.67 L1315.04 311.32 L1315.17 327.52 L1315.3 323.06 L1315.43 311.32 L1315.56 323.06 L1315.7 307.3 L1315.83 327.52 L1315.96 313.67 L1316.09 316.34 L1316.22 311.32 L1316.35 327.52 L1316.48 333.28 L1316.61 309.21 L1316.75 309.21 L1316.88 311.32 L1317.01 313.67 L1317.14 323.06 L1317.27 316.34 L1317.4 316.34 L1317.53 333.28 L1317.66 309.21 L1317.8 319.42 L1317.93 319.42 L1318.06 305.57 L1318.19 305.57 L1318.32 309.21 L1318.45 301.1 L1318.58 307.3 L1318.72 319.42 L1318.85 298.6 L1318.98 309.21 L1319.11 316.34 L1319.24 305.57 L1319.37 333.28 L1319.5 327.52 L1319.63 316.34 L1319.77 313.67 L1319.9 319.42 L1320.03 313.67 L1320.16 311.32 L1320.29 313.67 L1320.42 309.21 L1320.55 319.42 L1320.68 319.42 L1320.82 327.52 L1320.95 323.06 L1321.08 311.32 L1321.21 316.34 L1321.34 323.06 L1321.47 302.48 L1321.6 309.21 L1321.74 309.21 L1321.87 303.97 L1322 303.97 L1322.13 316.34 L1322.26 307.3 L1322.39 319.42 L1322.52 307.3 L1322.65 323.06 L1322.79 327.52 L1322.92 316.34 L1323.05 307.3 L1323.18 311.32 L1323.31 319.42 L1323.44 311.32 L1323.57 305.57 L1323.7 305.57 L1323.84 316.34 L1323.97 313.67 L1324.1 313.67 L1324.23 307.3 L1324.36 319.42 L1324.49 311.32 L1324.62 307.3 L1324.75 303.97 L1324.89 316.34 L1325.02 311.32 L1325.15 311.32 L1325.28 307.3 L1325.41 311.32 L1325.54 316.34 L1325.67 305.57 L1325.81 323.06 L1325.94 316.34 L1326.07 327.52 L1326.2 327.52 L1326.33 327.52 L1326.46 302.48 L1326.59 319.42 L1326.72 327.52 L1326.86 327.52 L1326.99 311.32 L1327.12 316.34 L1327.25 316.34 L1327.38 307.3 L1327.51 319.42 L1327.64 313.67 L1327.77 327.52 L1327.91 323.06 L1328.04 316.34 L1328.17 305.57 L1328.3 309.21 L1328.43 316.34 L1328.56 305.57 L1328.69 313.67 L1328.83 316.34 L1328.96 311.32 L1329.09 299.81 L1329.22 299.81 L1329.35 327.52 L1329.48 311.32 L1329.61 327.52 L1329.74 307.3 L1329.88 319.42 L1330.01 316.34 L1330.14 319.42 L1330.27 323.06 L1330.4 316.34 L1330.53 309.21 L1330.66 311.32 L1330.79 323.06 L1330.93 311.32 L1331.06 307.3 L1331.19 323.06 L1331.32 323.06 L1331.45 307.3 L1331.58 323.06 L1331.71 302.48 L1331.85 316.34 L1331.98 333.28 L1332.11 341.38 L1332.24 319.42 L1332.37 313.67 L1332.5 311.32 L1332.63 323.06 L1332.76 311.32 L1332.9 316.34 L1333.03 311.32 L1333.16 323.06 L1333.29 316.34 L1333.42 316.34 L1333.55 316.34 L1333.68 309.21 L1333.81 323.06 L1333.95 313.67 L1334.08 316.34 L1334.21 319.42 L1334.34 319.42 L1334.47 302.48 L1334.6 305.57 L1334.73 298.6 L1334.87 319.42 L1335 313.67 L1335.13 309.21 L1335.26 323.06 L1335.39 313.67 L1335.52 316.34 L1335.65 313.67 L1335.78 319.42 L1335.92 309.21 L1336.05 313.67 L1336.18 327.52 L1336.31 311.32 L1336.44 309.21 L1336.57 309.21 L1336.7 316.34 L1336.83 319.42 L1336.97 311.32 L1337.1 327.52 L1337.23 307.3 L1337.36 313.67 L1337.49 311.32 L1337.62 309.21 L1337.75 309.21 L1337.88 327.52 L1338.02 327.52 L1338.15 311.32 L1338.28 316.34 L1338.41 319.42 L1338.54 323.06 L1338.67 302.48 L1338.8 341.38 L1338.94 311.32 L1339.07 305.57 L1339.2 316.34 L1339.33 307.3 L1339.46 305.57 L1339.59 307.3 L1339.72 297.46 L1339.85 307.3 L1339.99 311.32 L1340.12 316.34 L1340.25 311.32 L1340.38 311.32 L1340.51 319.42 L1340.64 319.42 L1340.77 313.67 L1340.9 307.3 L1341.04 316.34 L1341.17 316.34 L1341.3 309.21 L1341.43 323.06 L1341.56 303.97 L1341.69 309.21 L1341.82 319.42 L1341.96 313.67 L1342.09 309.21 L1342.22 309.21 L1342.35 319.42 L1342.48 309.21 L1342.61 319.42 L1342.74 313.67 L1342.87 327.52 L1343.01 316.34 L1343.14 305.57 L1343.27 311.32 L1343.4 327.52 L1343.53 309.21 L1343.66 305.57 L1343.79 311.32 L1343.92 307.3 L1344.06 313.67 L1344.19 305.57 L1344.32 319.42 L1344.45 316.34 L1344.58 305.57 L1344.71 319.42 L1344.84 309.21 L1344.98 309.21 L1345.11 307.3 L1345.24 327.52 L1345.37 305.57 L1345.5 313.67 L1345.63 309.21 L1345.76 311.32 L1345.89 309.21 L1346.03 311.32 L1346.16 307.3 L1346.29 303.97 L1346.42 309.21 L1346.55 311.32 L1346.68 323.06 L1346.81 316.34 L1346.94 301.1 L1347.08 302.48 L1347.21 307.3 L1347.34 316.34 L1347.47 311.32 L1347.6 303.97 L1347.73 302.48 L1347.86 307.3 L1348 311.32 L1348.13 305.57 L1348.26 316.34 L1348.39 309.21 L1348.52 319.42 L1348.65 319.42 L1348.78 307.3 L1348.91 309.21 L1349.05 307.3 L1349.18 309.21 L1349.31 311.32 L1349.44 301.1 L1349.57 307.3 L1349.7 309.21 L1349.83 319.42 L1349.96 316.34 L1350.1 313.67 L1350.23 316.34 L1350.36 303.97 L1350.49 323.06 L1350.62 341.38 L1350.75 316.34 L1350.88 305.57 L1351.01 316.34 L1351.15 319.42 L1351.28 323.06 L1351.41 316.34 L1351.54 311.32 L1351.67 299.81 L1351.8 313.67 L1351.93 316.34 L1352.07 319.42 L1352.2 311.32 L1352.33 305.57 L1352.46 313.67 L1352.59 303.97 L1352.72 316.34 L1352.85 323.06 L1352.98 309.21 L1353.12 316.34 L1353.25 333.28 L1353.38 311.32 L1353.51 303.97 L1353.64 309.21 L1353.77 323.06 L1353.9 316.34 L1354.03 307.3 L1354.17 323.06 L1354.3 302.48 L1354.43 311.32 L1354.56 309.21 L1354.69 323.06 L1354.82 316.34 L1354.95 323.06 L1355.09 313.67 L1355.22 319.42 L1355.35 305.57 L1355.48 305.57 L1355.61 316.34 L1355.74 311.32 L1355.87 316.34 L1356 311.32 L1356.14 316.34 L1356.27 305.57 L1356.4 307.3 L1356.53 319.42 L1356.66 319.42 L1356.79 327.52 L1356.92 323.06 L1357.05 311.32 L1357.19 305.57 L1357.32 309.21 L1357.45 313.67 L1357.58 313.67 L1357.71 311.32 L1357.84 341.38 L1357.97 333.28 L1358.11 309.21 L1358.24 309.21 L1358.37 319.42 L1358.5 319.42 L1358.63 305.57 L1358.76 311.32 L1358.89 309.21 L1359.02 313.67 L1359.16 309.21 L1359.29 319.42 L1359.42 311.32 L1359.55 311.32 L1359.68 311.32 L1359.81 313.67 L1359.94 316.34 L1360.07 305.57 L1360.21 323.06 L1360.34 305.57 L1360.47 319.42 L1360.6 316.34 L1360.73 313.67 L1360.86 316.34 L1360.99 319.42 L1361.13 307.3 L1361.26 313.67 L1361.39 319.42 L1361.52 313.67 L1361.65 305.57 L1361.78 311.32 L1361.91 307.3 L1362.04 323.06 L1362.18 323.06 L1362.31 316.34 L1362.44 323.06 L1362.57 316.34 L1362.7 313.67 L1362.83 316.34 L1362.96 327.52 L1363.09 311.32 L1363.23 313.67 L1363.36 327.52 L1363.49 316.34 L1363.62 323.06 L1363.75 311.32 L1363.88 316.34 L1364.01 313.67 L1364.14 319.42 L1364.28 313.67 L1364.41 319.42 L1364.54 309.21 L1364.67 319.42 L1364.8 313.67 L1364.93 301.1 L1365.06 319.42 L1365.2 327.52 L1365.33 333.28 L1365.46 313.67 L1365.59 305.57 L1365.72 307.3 L1365.85 311.32 L1365.98 319.42 L1366.11 309.21 L1366.25 316.34 L1366.38 307.3 L1366.51 323.06 L1366.64 307.3 L1366.77 311.32 L1366.9 307.3 L1367.03 323.06 L1367.16 311.32 L1367.3 309.21 L1367.43 302.48 L1367.56 309.21 L1367.69 319.42 L1367.82 307.3 L1367.95 277 L1368.08 311.32 L1368.22 313.67 L1368.35 307.3 L1368.48 309.21 L1368.61 311.32 L1368.74 316.34 L1368.87 311.32 L1369 313.67 L1369.13 316.34 L1369.27 305.57 L1369.4 297.46 L1369.53 305.57 L1369.66 302.48 L1369.79 307.3 L1369.92 311.32 L1370.05 319.42 L1370.18 299.81 L1370.32 298.6 L1370.45 309.21 L1370.58 302.48 L1370.71 291.71 L1370.84 303.97 L1370.97 299.81 L1371.1 309.21 L1371.24 319.42 L1371.37 313.67 L1371.5 301.1 L1371.63 297.46 L1371.76 297.46 L1371.89 302.48 L1372.02 313.67 L1372.15 299.81 L1372.29 301.1 L1372.42 302.48 L1372.55 303.97 L1372.68 305.57 L1372.81 302.48 L1372.94 303.97 L1373.07 302.48 L1373.2 302.48 L1373.34 293.45 L1373.47 293.45 L1373.6 301.1 L1373.73 296.38 L1373.86 293.45 L1373.99 294.38 L1374.12 293.45 L1374.26 291.71 L1374.39 302.48 L1374.52 298.6 L1374.65 293.45 L1374.78 303.97 L1374.91 291.71 L1375.04 290.89 L1375.17 295.35 L1375.31 290.89 L1375.44 295.35 L1375.57 303.97 L1375.7 295.35 L1375.83 295.35 L1375.96 288.63 L1376.09 290.89 L1376.22 289.36 L1376.36 285.96 L1376.49 283.61 L1376.62 281.5 L1376.75 281.5 L1376.88 286.59 L1377.01 283.61 L1377.14 290.11 L1377.28 283.61 L1377.41 283.61 L1377.54 286.59 L1377.67 277.44 L1377.8 283.06 L1377.93 282.01 L1378.06 274.07 L1378.19 277.04 L1378.33 277.04 L1378.46 274.77 L1378.59 277.86 L1378.72 276.64 L1378.85 268.41 L1378.98 270.89 L1379.11 278.28 L1379.24 269.48 L1379.38 268.15 L1379.51 274.42 L1379.64 270.6 L1379.77 268.93 L1379.9 267.64 L1380.03 265.51 L1380.16 267.4 L1380.29 267.9 L1380.43 265.07 L1380.56 268.15 L1380.69 265.07 L1380.82 264.85 L1380.95 262.79 L1381.08 262.4 L1381.21 261.28 L1381.35 260.22 L1381.48 257.48 L1381.61 259.21 L1381.74 256.6 L1381.87 255.9 L1382 258.88 L1382.13 253.79 L1382.26 248.26 L1382.4 251 L1382.53 252.46 L1382.66 247.5 L1382.79 250.56 L1382.92 246.08 L1383.05 246.36 L1383.18 243.84 L1383.31 243.47 L1383.45 244.14 L1383.58 241.19 L1383.71 240.87 L1383.84 238.82 L1383.97 236.75 L1384.1 237.94 L1384.23 235.01 L1384.37 235.63 L1384.5 233.85 L1384.63 226.5 L1384.76 232.88 L1384.89 231.03 L1385.02 230.45 L1385.15 228.48 L1385.28 228.76 L1385.42 227.56 L1385.55 225 L1385.68 224.17 L1385.81 223.06 L1385.94 221.97 L1386.07 220.56 L1386.2 219.86 L1386.33 218.49 L1386.47 218.5 L1386.6 216.58 L1386.73 216.26 L1386.86 215.46 L1386.99 213.74 L1387.12 212.15 L1387.25 211.5 L1387.39 209.7 L1387.52 209.41 L1387.65 208.68 L1387.78 207.97 L1387.91 207.83 L1388.04 206.26 L1388.17 205.4 L1388.3 203.75 L1388.44 204.03 L1388.57 202.85 L1388.7 202.24 L1388.83 200.99 L1388.96 200.91 L1389.09 199.19 L1389.22 198.43 L1389.35 197.5 L1389.49 195.72 L1389.62 195.85 L1389.75 194.78 L1389.88 194.09 L1390.01 192.83 L1390.14 191.59 L1390.27 190.91 L1390.4 190.49 L1390.54 190.13 L1390.67 188.72 L1390.8 188.49 L1390.93 187.37 L1391.06 186.41 L1391.19 185.37 L1391.32 183.74 L1391.46 182.53 L1391.59 181.31 L1391.72 179.71 L1391.85 178.67 L1391.98 176.88 L1392.11 175.72 L1392.24 174.65 L1392.37 173.15 L1392.51 172.07 L1392.64 170.74 L1392.77 169.11 L1392.9 168.29 L1393.03 166.6 L1393.16 165.04 L1393.29 164.43 L1393.42 162.35 L1393.56 161.74 L1393.69 160.46 L1393.82 155.56 L1393.95 150.19 L1394.08 144.9 L1394.21 139.79 L1394.34 134.41 L1394.48 129.12 L1394.61 124.01 L1394.74 118.73 L1394.87 113.49 L1395 108.82 L1395.13 104.44 L1395.26 99.96 L1395.39 95.52 L1395.53 91.08 L1395.66 86.64 L1395.79 82.17 L1395.92 77.71 L1396.05 73.54 L1396.18 69.69 L1396.31 65.85 L1396.44 62.02 L1396.58 58.19 L1396.71 60.61 L1396.84 64.45 L1396.97 68.31 L1397.1 72.09 L1397.23 76.12 L1397.36 80.57 L1397.5 84.98 L1397.63 89.47 L1397.76 93.96 L1397.89 98.35 L1398.02 102.8 L1398.15 107.25 L1398.28 111.79 L1398.41 117.21 L1398.55 122.99 L1398.68 128.58 L1398.81 134.44 L1398.94 140.12 L1399.07 145.94 L1399.2 151.51 L1399.33 156.96 L1399.46 160.76 L1399.6 162.52 L1399.73 163.81 L1399.86 165.64 L1399.99 167.16 L1400.12 168.86 L1400.25 170.57 L1400.38 172.15 L1400.52 173.71 L1400.65 175.17 L1400.78 176.91 L1400.91 178.46 L1401.04 180.59 L1401.17 182.44 L1401.3 183.47 L1401.43 185.13 L1401.57 186.41 L1401.7 187.95 L1401.83 188.69 L1401.96 190.18 L1402.09 190.9 L1402.22 192.05 L1402.35 193.18 L1402.48 194.11 L1402.62 195.5 L1402.75 196.42 L1402.88 197.24 L1403.01 198 L1403.14 199.53 L1403.27 200.45 L1403.4 201.64 L1403.54 202.25 L1403.67 203.14 L1403.8 205.49 L1403.93 205.95 L1404.06 207.23 L1404.19 207.67 L1404.32 210.92 L1404.45 211.03 L1404.59 212.77 L1404.72 212.15 L1404.85 213.94 L1404.98 214.87 L1405.11 216.19 L1405.24 217.44 L1405.37 218.52 L1405.5 220.25 L1405.64 222.65 L1405.77 222.07 L1405.9 223.53 L1406.03 225.1 L1406.16 226.32 L1406.29 225.95 L1406.42 228.81 L1406.55 230.29 L1406.69 229.93 L1406.82 230.37 L1406.95 234.14 L1407.08 235.03 L1407.21 236.3 L1407.34 235.98 L1407.47 236.96 L1407.61 236.99 L1407.74 239.42 L1407.87 240.52 L1408 241.83 L1408.13 240.67 L1408.26 243.61 L1408.39 244.8 L1408.52 244.91 L1408.66 245.52 L1408.79 245.84 L1408.92 248.12 L1409.05 245.81 L1409.18 246.42 L1409.31 249.33 L1409.44 249.94 L1409.57 249.63 L1409.71 249.43 L1409.84 253.05 L1409.97 253.92 L1410.1 254.55 L1410.23 255.48 L1410.36 257.64 L1410.49 262.4 L1410.63 260.22 L1410.76 260.57 L1410.89 259.05 L1411.02 259.88 L1411.15 260.92 L1411.28 263.59 L1411.41 266.43 L1411.54 265.07 L1411.68 262.99 L1411.81 262.02 L1411.94 267.9 L1412.07 265.74 L1412.2 267.15 L1412.33 267.9 L1412.46 269.48 L1412.59 270.03 L1412.73 268.67 L1412.86 268.15 L1412.99 270.31 L1413.12 268.41 L1413.25 270.89 L1413.38 269.2 L1413.51 273.06 L1413.65 275.87 L1413.78 279.59 L1413.91 280.05 L1414.04 277.44 L1414.17 274.42 L1414.3 276.26 L1414.43 275.87 L1414.56 277.86 L1414.7 273.73 L1414.83 277.86 L1414.96 276.26 L1415.09 279.59 L1415.22 287.25 L1415.35 284.75 L1415.48 277.04 L1415.61 275.13 L1415.75 276.26 L1415.88 280.52 L1416.01 275.87 L1416.14 282.01 L1416.27 284.17 L1416.4 283.61 L1416.53 275.13 L1416.66 277.04 L1416.8 274.77 L1416.93 282.01 L1417.06 278.71 L1417.19 276.26 L1417.32 275.87 L1417.45 275.5 L1417.58 274.07 L1417.72 275.5 L1417.85 275.87 L1417.98 281.01 L1418.11 275.87 L1418.24 274.77 L1418.37 273.06 L1418.5 274.42 L1418.63 272.42 L1418.77 269.75 L1418.9 273.4 L1419.03 268.67 L1419.16 272.11 L1419.29 268.15 L1419.42 271.49 L1419.55 274.77 L1419.68 269.2 L1419.82 268.93 L1419.95 265.97 L1420.08 269.75 L1420.21 270.03 L1420.34 266.2 L1420.47 266.2 L1420.6 265.29 L1420.74 268.67 L1420.87 267.4 L1421 268.41 L1421.13 264.64 L1421.26 269.2 L1421.39 262.59 L1421.52 263.39 L1421.65 261.1 L1421.79 258.25 L1421.92 261.28 L1422.05 260.57 L1422.18 257.04 L1422.31 263.18 L1422.44 259.05 L1422.57 259.71 L1422.7 256.6 L1422.84 257.04 L1422.97 259.21 L1423.1 253.42 L1423.23 253.92 L1423.36 252 L1423.49 249.53 L1423.62 252.7 L1423.76 250.35 L1423.89 249.94 L1424.02 248.45 L1424.15 250.48 L1424.28 247.87 L1424.41 248.76 L1424.54 246.96 L1424.67 247.54 L1424.81 245.47 L1424.94 244.02 L1425.07 243.41 L1425.2 244.6 L1425.33 244.71 L1425.46 243.71 L1425.59 239.28 L1425.72 240.12 L1425.86 239.09 L1425.99 236.89 L1426.12 238.78 L1426.25 236.36 L1426.38 236.63 L1426.51 234.86 L1426.64 236.13 L1426.78 233.7 L1426.91 232.51 L1427.04 231.46 L1427.17 232.04 L1427.3 230.04 L1427.43 228.2 L1427.56 228.16 L1427.69 226.51 L1427.83 225.81 L1427.96 225.27 L1428.09 224.88 L1428.22 223.66 L1428.35 223.56 L1428.48 221.5 L1428.61 220.87 L1428.74 219.42 L1428.88 217.88 L1429.01 217.93 L1429.14 217.25 L1429.27 216.62 L1429.4 215.35 L1429.53 214.17 L1429.66 214.3 L1429.8 214.01 L1429.93 213.18 L1430.06 210.63 L1430.19 209.31 L1430.32 207.65 L1430.45 207.14 L1430.58 204.94 L1430.71 203.76 L1430.85 201.92 L1430.98 200.03 L1431.11 199.14 L1431.24 197.46 L1431.37 197.82 L1431.5 196.78 L1431.63 196.05 L1431.76 194.96 L1431.9 193.95 L1432.03 193.84 L1432.16 193.94 L1432.29 193.27 L1432.42 192.76 L1432.55 193.06 L1432.68 192.12 L1432.81 192.6 L1432.95 192.25 L1433.08 191.96 L1433.21 190.97 L1433.34 191.57 L1433.47 191.93 L1433.6 192.62 L1433.73 192.88 L1433.87 192.95 L1434 192.37 L1434.13 192.69 L1434.26 193.31 L1434.39 193.84 L1434.52 194.97 L1434.65 195.26 L1434.78 195.67 L1434.92 196.43 L1435.05 197.26 L1435.18 198.48 L1435.31 198.76 L1435.44 200.03 L1435.57 201.06 L1435.7 202.8 L1435.83 204.04 L1435.97 205.72 L1436.1 207.6 L1436.23 208.23 L1436.36 210.89 L1436.49 211.42 L1436.62 213.09 L1436.75 214.05 L1436.89 214.67 L1437.02 216.16 L1437.15 217.5 L1437.28 218.45 L1437.41 219.6 L1437.54 219.81 L1437.67 220.61 L1437.8 221.89 L1437.94 224.02 L1438.07 223.73 L1438.2 224.11 L1438.33 226.77 L1438.46 227.59 L1438.59 227.08 L1438.72 228.98 L1438.85 228.9 L1438.99 231.14 L1439.12 233.21 L1439.25 232.87 L1439.38 233.88 L1439.51 234.54 L1439.64 236.72 L1439.77 237.32 L1439.91 235.74 L1440.04 239.4 L1440.17 238.01 L1440.3 242.02 L1440.43 241.35 L1440.56 242.12 L1440.69 242.46 L1440.82 244.47 L1440.96 246.28 L1441.09 246.22 L1441.22 249.45 L1441.35 252.1 L1441.48 251.55 L1441.61 251 L1441.74 251 L1441.87 251.11 L1442.01 254.42 L1442.14 256.6 L1442.27 258.56 L1442.4 256.46 L1442.53 257.64 L1442.66 258.25 L1442.79 257.48 L1442.92 257.79 L1443.06 261.83 L1443.19 258.41 L1443.32 264 L1443.45 264.64 L1443.58 267.9 L1443.71 264.64 L1443.84 265.29 L1443.98 263.79 L1444.11 266.43 L1444.24 270.6 L1444.37 269.48 L1444.5 267.9 L1444.63 265.29 L1444.76 267.4 L1444.89 268.15 L1445.03 272.74 L1445.16 273.73 L1445.29 269.48 L1445.42 269.48 L1445.55 271.49 L1445.68 269.48 L1445.81 270.6 L1445.94 271.49 L1446.08 273.4 L1446.21 273.06 L1446.34 275.5 L1446.47 274.07 L1446.6 282.01 L1446.73 274.77 L1446.86 274.42 L1447 276.64 L1447.13 280.52 L1447.26 282.01 L1447.39 280.52 L1447.52 284.75 L1447.65 284.17 L1447.78 278.71 L1447.91 281.5 L1448.05 281.01 L1448.18 284.75 L1448.31 280.05 L1448.44 285.34 L1448.57 287.25 L1448.7 290.89 L1448.83 290.11 L1448.96 285.34 L1449.1 290.11 L1449.23 292.56 L1449.36 285.96 L1449.49 294.38 L1449.62 281.5 L1449.75 296.38 L1449.88 290.11 L1450.02 290.11 L1450.15 290.11 L1450.28 295.35 L1450.41 295.35 L1450.54 301.1 L1450.67 285.34 L1450.8 296.38 L1450.93 294.38 L1451.07 297.46 L1451.2 290.89 L1451.33 297.46 L1451.46 296.38 L1451.59 294.38 L1451.72 297.46 L1451.85 299.81 L1451.98 293.45 L1452.12 295.35 L1452.25 303.97 L1452.38 303.97 L1452.51 297.46 L1452.64 305.57 L1452.77 303.97 L1452.9 302.48 L1453.04 296.38 L1453.17 303.97 L1453.3 298.6 L1453.43 297.46 L1453.56 313.67 L1453.69 299.81 L1453.82 313.67 L1453.95 303.97 L1454.09 293.45 L1454.22 305.57 L1454.35 302.48 L1454.48 302.48 L1454.61 290.89 L1454.74 307.3 L1454.87 299.81 L1455 301.1 L1455.14 296.38 L1455.27 297.46 L1455.4 299.81 L1455.53 301.1 L1455.66 307.3 L1455.79 297.46 L1455.92 311.32 L1456.06 301.1 L1456.19 307.3 L1456.32 298.6 L1456.45 309.21 L1456.58 302.48 L1456.71 333.28 L1456.84 307.3 L1456.97 313.67 L1457.11 309.21 L1457.24 313.67 L1457.37 307.3 L1457.5 313.67 L1457.63 311.32 L1457.76 311.32 L1457.89 307.3 L1458.02 319.42 L1458.16 299.81 L1458.29 311.32 L1458.42 305.57 L1458.55 309.21 L1458.68 309.21 L1458.81 313.67 L1458.94 299.81 L1459.07 297.46 L1459.21 299.81 L1459.34 303.97 L1459.47 319.42 L1459.6 305.57 L1459.73 311.32 L1459.86 319.42 L1459.99 307.3 L1460.13 302.48 L1460.26 313.67 L1460.39 302.48 L1460.52 323.06 L1460.65 313.67 L1460.78 303.97 L1460.91 327.52 L1461.04 303.97 L1461.18 309.21 L1461.31 311.32 L1461.44 311.32 L1461.57 305.57 L1461.7 303.97 L1461.83 307.3 L1461.96 303.97 L1462.09 313.67 L1462.23 319.42 L1462.36 301.1 L1462.49 316.34 L1462.62 316.34 L1462.75 313.67 L1462.88 311.32 L1463.01 323.06 L1463.15 303.97 L1463.28 309.21 L1463.41 316.34 L1463.54 303.97 L1463.67 311.32 L1463.8 309.21 L1463.93 316.34 L1464.06 313.67 L1464.2 316.34 L1464.33 323.06 L1464.46 319.42 L1464.59 316.34 L1464.72 303.97 L1464.85 305.57 L1464.98 316.34 L1465.11 309.21 L1465.25 301.1 L1465.38 327.52 L1465.51 301.1 L1465.64 311.32 L1465.77 323.06 L1465.9 313.67 L1466.03 316.34 L1466.17 311.32 L1466.3 311.32 L1466.43 319.42 L1466.56 319.42 L1466.69 307.3 L1466.82 319.42 L1466.95 327.52 L1467.08 307.3 L1467.22 305.57 L1467.35 313.67 L1467.48 311.32 L1467.61 309.21 L1467.74 333.28 L1467.87 327.52 L1468 309.21 L1468.13 323.06 L1468.27 327.52 L1468.4 327.52 L1468.53 305.57 L1468.66 307.3 L1468.79 309.21 L1468.92 309.21 L1469.05 313.67 L1469.18 319.42 L1469.32 311.32 L1469.45 309.21 L1469.58 313.67 L1469.71 327.52 L1469.84 307.3 L1469.97 309.21 L1470.1 319.42 L1470.24 305.57 L1470.37 313.67 L1470.5 313.67 L1470.63 327.52 L1470.76 313.67 L1470.89 316.34 L1471.02 333.28 L1471.15 313.67 L1471.29 305.57 L1471.42 307.3 L1471.55 316.34 L1471.68 316.34 L1471.81 316.34 L1471.94 323.06 L1472.07 313.67 L1472.2 333.28 L1472.34 316.34 L1472.47 311.32 L1472.6 303.97 L1472.73 313.67 L1472.86 307.3 L1472.99 313.67 L1473.12 316.34 L1473.26 313.67 L1473.39 313.67 L1473.52 313.67 L1473.65 313.67 L1473.78 323.06 L1473.91 316.34 L1474.04 316.34 L1474.17 309.21 L1474.31 313.67 L1474.44 313.67 L1474.57 313.67 L1474.7 309.21 L1474.83 307.3 L1474.96 311.32 L1475.09 323.06 L1475.22 319.42 L1475.36 309.21 L1475.49 309.21 L1475.62 319.42 L1475.75 316.34 L1475.88 319.42 L1476.01 316.34 L1476.14 323.06 L1476.28 309.21 L1476.41 307.3 L1476.54 323.06 L1476.67 319.42 L1476.8 313.67 L1476.93 323.06 L1477.06 311.32 L1477.19 313.67 L1477.33 309.21 L1477.46 313.67 L1477.59 323.06 L1477.72 305.57 L1477.85 316.34 L1477.98 323.06 L1478.11 313.67 L1478.24 323.06 L1478.38 309.21 L1478.51 313.67 L1478.64 313.67 L1478.77 309.21 L1478.9 333.28 L1479.03 309.21 L1479.16 316.34 L1479.3 316.34 L1479.43 323.06 L1479.56 316.34 L1479.69 311.32 L1479.82 309.21 L1479.95 313.67 L1480.08 311.32 L1480.21 313.67 L1480.35 313.67 L1480.48 316.34 L1480.61 316.34 L1480.74 316.34 L1480.87 309.21 L1481 311.32 L1481.13 311.32 L1481.26 301.1 L1481.4 313.67 L1481.53 313.67 L1481.66 313.67 L1481.79 323.06 L1481.92 319.42 L1482.05 316.34 L1482.18 313.67 L1482.32 313.67 L1482.45 333.28 L1482.58 323.06 L1482.71 323.06 L1482.84 302.48 L1482.97 309.21 L1483.1 307.3 L1483.23 319.42 L1483.37 309.21 L1483.5 355.23 L1483.63 319.42 L1483.76 309.21 L1483.89 305.57 L1484.02 319.42 L1484.15 327.52 L1484.28 319.42 L1484.42 327.52 L1484.55 309.21 L1484.68 319.42 L1484.81 319.42 L1484.94 333.28 L1485.07 311.32 L1485.2 323.06 L1485.33 319.42 L1485.47 323.06 L1485.6 313.67 L1485.73 316.34 L1485.86 313.67 L1485.99 313.67 L1486.12 305.57 L1486.25 323.06 L1486.39 327.52 L1486.52 319.42 L1486.65 311.32 L1486.78 309.21 L1486.91 316.34 L1487.04 319.42 L1487.17 327.52 L1487.3 311.32 L1487.44 313.67 L1487.57 309.21 L1487.7 309.21 L1487.83 316.34 L1487.96 309.21 L1488.09 319.42 L1488.22 313.67 L1488.35 311.32 L1488.49 319.42 L1488.62 303.97 L1488.75 319.42 L1488.88 323.06 L1489.01 311.32 L1489.14 307.3 L1489.27 319.42 L1489.41 309.21 L1489.54 309.21 L1489.67 319.42 L1489.8 327.52 L1489.93 311.32 L1490.06 323.06 L1490.19 319.42 L1490.32 309.21 L1490.46 313.67 L1490.59 307.3 L1490.72 319.42 L1490.85 307.3 L1490.98 316.34 L1491.11 319.42 L1491.24 313.67 L1491.37 307.3 L1491.51 316.34 L1491.64 311.32 L1491.77 305.57 L1491.9 309.21 L1492.03 311.32 L1492.16 309.21 L1492.29 316.34 L1492.43 316.34 L1492.56 309.21 L1492.69 316.34 L1492.82 309.21 L1492.95 309.21 L1493.08 319.42 L1493.21 316.34 L1493.34 319.42 L1493.48 355.23 L1493.61 327.52 L1493.74 313.67 L1493.87 316.34 L1494 311.32 L1494.13 299.81 L1494.26 313.67 L1494.39 309.21 L1494.53 327.52 L1494.66 323.06 L1494.79 311.32 L1494.92 313.67 L1495.05 305.57 L1495.18 323.06 L1495.31 316.34 L1495.44 333.28 L1495.58 313.67 L1495.71 307.3 L1495.84 319.42 L1495.97 323.06 L1496.1 341.38 L1496.23 316.34 L1496.36 319.42 L1496.5 311.32 L1496.63 316.34 L1496.76 313.67 L1496.89 311.32 L1497.02 333.28 L1497.15 309.21 L1497.28 319.42 L1497.41 316.34 L1497.55 309.21 L1497.68 313.67 L1497.81 305.57 L1497.94 307.3 L1498.07 316.34 L1498.2 307.3 L1498.33 316.34 L1498.46 307.3 L1498.6 316.34 L1498.73 313.67 L1498.86 333.28 L1498.99 307.3 L1499.12 316.34 L1499.25 316.34 L1499.38 327.52 L1499.52 313.67 L1499.65 309.21 L1499.78 323.06 L1499.91 309.21 L1500.04 319.42 L1500.17 305.57 L1500.3 311.32 L1500.43 313.67 L1500.57 316.34 L1500.7 316.34 L1500.83 313.67 L1500.96 327.52 L1501.09 303.97 L1501.22 319.42 L1501.35 305.57 L1501.48 309.21 L1501.62 309.21 L1501.75 316.34 L1501.88 323.06 L1502.01 307.3 L1502.14 323.06 L1502.27 309.21 L1502.4 313.67 L1502.54 303.97 L1502.67 305.57 L1502.8 311.32 L1502.93 327.52 L1503.06 313.67 L1503.19 319.42 L1503.32 311.32 L1503.45 319.42 L1503.59 316.34 L1503.72 316.34 L1503.85 309.21 L1503.98 305.57 L1504.11 323.06 L1504.24 319.42 L1504.37 307.3 L1504.5 311.32 L1504.64 311.32 L1504.77 302.48 L1504.9 313.67 L1505.03 309.21 L1505.16 316.34 L1505.29 307.3 L1505.42 341.38 L1505.56 309.21 L1505.69 307.3 L1505.82 323.06 L1505.95 316.34 L1506.08 311.32 L1506.21 313.67 L1506.34 319.42 L1506.47 319.42 L1506.61 323.06 L1506.74 316.34 L1506.87 311.32 L1507 309.21 L1507.13 313.67 L1507.26 323.06 L1507.39 309.21 L1507.52 316.34 L1507.66 313.67 L1507.79 316.34 L1507.92 307.3 L1508.05 319.42 L1508.18 319.42 L1508.31 319.42 L1508.44 316.34 L1508.58 316.34 L1508.71 311.32 L1508.84 323.06 L1508.97 327.52 L1509.1 323.06 L1509.23 307.3 L1509.36 313.67 L1509.49 313.67 L1509.63 311.32 L1509.76 313.67 L1509.89 309.21 L1510.02 323.06 L1510.15 319.42 L1510.28 311.32 L1510.41 309.21 L1510.54 327.52 L1510.68 313.67 L1510.81 311.32 L1510.94 305.57 L1511.07 307.3 L1511.2 309.21 L1511.33 307.3 L1511.46 309.21 L1511.59 323.06 L1511.73 327.52 L1511.86 316.34 L1511.99 313.67 L1512.12 309.21 L1512.25 316.34 L1512.38 307.3 L1512.51 311.32 L1512.65 302.48 L1512.78 309.21 L1512.91 303.97 L1513.04 303.97 L1513.17 323.06 L1513.3 327.52 L1513.43 313.67 L1513.56 316.34 L1513.7 319.42 L1513.83 319.42 L1513.96 313.67 L1514.09 311.32 L1514.22 319.42 L1514.35 309.21 L1514.48 311.32 L1514.61 316.34 L1514.75 333.28 L1514.88 316.34 L1515.01 311.32 L1515.14 305.57 L1515.27 313.67 L1515.4 313.67 L1515.53 309.21 L1515.67 316.34 L1515.8 311.32 L1515.93 333.28 L1516.06 311.32 L1516.19 305.57 L1516.32 311.32 L1516.45 316.34 L1516.58 316.34 L1516.72 319.42 L1516.85 319.42 L1516.98 311.32 L1517.11 319.42 L1517.24 313.67 L1517.37 316.34 L1517.5 313.67 L1517.63 319.42 L1517.77 307.3 L1517.9 311.32 L1518.03 313.67 L1518.16 333.28 L1518.29 327.52 L1518.42 313.67 L1518.55 319.42 L1518.69 333.28 L1518.82 309.21 L1518.95 316.34 L1519.08 311.32 L1519.21 323.06 L1519.34 316.34 L1519.47 309.21 L1519.6 311.32 L1519.74 319.42 L1519.87 327.52 L1520 313.67 L1520.13 316.34 L1520.26 309.21 L1520.39 303.97 L1520.52 305.57 L1520.65 309.21 L1520.79 313.67 L1520.92 309.21 L1521.05 319.42 L1521.18 313.67 L1521.31 309.21 L1521.44 313.67 L1521.57 327.52 L1521.7 307.3 L1521.84 311.32 L1521.97 311.32 L1522.1 313.67 L1522.23 309.21 L1522.36 323.06 L1522.49 316.34 L1522.62 301.1 L1522.76 313.67 L1522.89 311.32 L1523.02 327.52 L1523.15 307.3 L1523.28 307.3 L1523.41 316.34 L1523.54 311.32 L1523.67 323.06 L1523.81 309.21 L1523.94 319.42 L1524.07 302.48 L1524.2 316.34 L1524.33 307.3 L1524.46 316.34 L1524.59 313.67 L1524.72 323.06 L1524.86 319.42 L1524.99 341.38 L1525.12 323.06 L1525.25 319.42 L1525.38 316.34 L1525.51 307.3 L1525.64 309.21 L1525.78 323.06 L1525.91 311.32 L1526.04 313.67 L1526.17 305.57 L1526.3 313.67 L1526.43 323.06 L1526.56 309.21 L1526.69 313.67 L1526.83 305.57 L1526.96 307.3 L1527.09 303.97 L1527.22 302.48 L1527.35 319.42 L1527.48 309.21 L1527.61 316.34 L1527.74 309.21 L1527.88 316.34 L1528.01 305.57 L1528.14 316.34 L1528.27 311.32 L1528.4 307.3 L1528.53 316.34 L1528.66 307.3 L1528.8 323.06 L1528.93 305.57 L1529.06 333.28 L1529.19 316.34 L1529.32 311.32 L1529.45 311.32 L1529.58 319.42 L1529.71 309.21 L1529.85 309.21 L1529.98 319.42 L1530.11 316.34 L1530.24 323.06 L1530.37 303.97 L1530.5 305.57 L1530.63 341.38 L1530.76 333.28 L1530.9 319.42 L1531.03 309.21 L1531.16 311.32 L1531.29 305.57 L1531.42 302.48 L1531.55 307.3 L1531.68 319.42 L1531.82 316.34 L1531.95 307.3 L1532.08 309.21 L1532.21 327.52 L1532.34 323.06 L1532.47 316.34 L1532.6 319.42 L1532.73 296.38 L1532.87 307.3 L1533 311.32 L1533.13 309.21 L1533.26 319.42 L1533.39 323.06 L1533.52 303.97 L1533.65 319.42 L1533.78 313.67 L1533.92 327.52 L1534.05 327.52 L1534.18 323.06 L1534.31 323.06 L1534.44 313.67 L1534.57 327.52 L1534.7 305.57 L1534.84 316.34 L1534.97 309.21 L1535.1 319.42 L1535.23 319.42 L1535.36 319.42 L1535.49 305.57 L1535.62 323.06 L1535.75 313.67 L1535.89 303.97 L1536.02 316.34 L1536.15 316.34 L1536.28 301.1 L1536.41 311.32 L1536.54 319.42 L1536.67 341.38 L1536.8 309.21 L1536.94 311.32 L1537.07 327.52 L1537.2 311.32 L1537.33 316.34 L1537.46 319.42 L1537.59 313.67 L1537.72 316.34 L1537.85 311.32 L1537.99 307.3 L1538.12 316.34 L1538.25 316.34 L1538.38 327.52 L1538.51 311.32 L1538.64 319.42 L1538.77 316.34 L1538.91 305.57 L1539.04 319.42 L1539.17 327.52 L1539.3 333.28 L1539.43 311.32 L1539.56 303.97 L1539.69 311.32 L1539.82 313.67 L1539.96 316.34 L1540.09 305.57 L1540.22 307.3 L1540.35 316.34 L1540.48 319.42 L1540.61 311.32 L1540.74 319.42 L1540.87 313.67 L1541.01 311.32 L1541.14 327.52 L1541.27 313.67 L1541.4 319.42 L1541.53 311.32 L1541.66 355.23 L1541.79 313.67 L1541.93 311.32 L1542.06 316.34 L1542.19 303.97 L1542.32 341.38 L1542.45 309.21 L1542.58 311.32 L1542.71 309.21 L1542.84 307.3 L1542.98 316.34 L1543.11 323.06 L1543.24 313.67 L1543.37 316.34 L1543.5 316.34 L1543.63 327.52 L1543.76 323.06 L1543.89 309.21 L1544.03 319.42 L1544.16 313.67 L1544.29 313.67 L1544.42 307.3 L1544.55 307.3 L1544.68 319.42 L1544.81 319.42 L1544.95 319.42 L1545.08 313.67 L1545.21 341.38 L1545.34 313.67 L1545.47 327.52 L1545.6 327.52 L1545.73 323.06 L1545.86 309.21 L1546 316.34 L1546.13 319.42 L1546.26 311.32 L1546.39 323.06 L1546.52 309.21 L1546.65 327.52 L1546.78 327.52 L1546.91 319.42 L1547.05 313.67 L1547.18 305.57 L1547.31 327.52 L1547.44 333.28 L1547.57 311.32 L1547.7 303.97 L1547.83 309.21 L1547.97 305.57 L1548.1 323.06 L1548.23 313.67 L1548.36 333.28 L1548.49 316.34 L1548.62 316.34 L1548.75 333.28 L1548.88 319.42 L1549.02 327.52 L1549.15 323.06 L1549.28 319.42 L1549.41 319.42 L1549.54 341.38 L1549.67 316.34 L1549.8 311.32 L1549.93 316.34 L1550.07 311.32 L1550.2 307.3 L1550.33 323.06 L1550.46 319.42 L1550.59 319.42 L1550.72 316.34 L1550.85 313.67 L1550.98 305.57 L1551.12 313.67 L1551.25 313.67 L1551.38 309.21 L1551.51 313.67 L1551.64 311.32 L1551.77 327.52 L1551.9 323.06 L1552.04 309.21 L1552.17 355.23 L1552.3 311.32 L1552.43 313.67 L1552.56 313.67 L1552.69 313.67 L1552.82 303.97 L1552.95 313.67 L1553.09 305.57 L1553.22 316.34 L1553.35 313.67 L1553.48 319.42 L1553.61 319.42 L1553.74 319.42 L1553.87 319.42 L1554 316.34 L1554.14 303.97 L1554.27 323.06 L1554.4 313.67 L1554.53 316.34 L1554.66 309.21 L1554.79 316.34 L1554.92 313.67 L1555.06 309.21 L1555.19 316.34 L1555.32 313.67 L1555.45 319.42 L1555.58 307.3 L1555.71 316.34 L1555.84 309.21 L1555.97 311.32 L1556.11 327.52 L1556.24 323.06 L1556.37 309.21 L1556.5 313.67 L1556.63 307.3 L1556.76 319.42 L1556.89 311.32 L1557.02 305.57 L1557.16 313.67 L1557.29 307.3 L1557.42 323.06 L1557.55 316.34 L1557.68 313.67 L1557.81 313.67 L1557.94 319.42 L1558.08 313.67 L1558.21 313.67 L1558.34 305.57 L1558.47 305.57 L1558.6 327.52 L1558.73 316.34 L1558.86 319.42 L1558.99 307.3 L1559.13 327.52 L1559.26 319.42 L1559.39 313.67 L1559.52 323.06 L1559.65 309.21 L1559.78 303.97 L1559.91 316.34 L1560.04 319.42 L1560.18 311.32 L1560.31 319.42 L1560.44 313.67 L1560.57 313.67 L1560.7 309.21 L1560.83 311.32 L1560.96 323.06 L1561.1 305.57 L1561.23 313.67 L1561.36 316.34 L1561.49 319.42 L1561.62 319.42 L1561.75 323.06 L1561.88 305.57 L1562.01 303.97 L1562.15 319.42 L1562.28 316.34 L1562.41 316.34 L1562.54 323.06 L1562.67 333.28 L1562.8 323.06 L1562.93 313.67 L1563.06 313.67 L1563.2 309.21 L1563.33 323.06 L1563.46 316.34 L1563.59 323.06 L1563.72 327.52 L1563.85 309.21 L1563.98 319.42 L1564.11 316.34 L1564.25 319.42 L1564.38 311.32 L1564.51 319.42 L1564.64 305.57 L1564.77 319.42 L1564.9 307.3 L1565.03 311.32 L1565.17 313.67 L1565.3 341.38 L1565.43 311.32 L1565.56 313.67 L1565.69 313.67 L1565.82 313.67 L1565.95 313.67 L1566.08 302.48 L1566.22 319.42 L1566.35 313.67 L1566.48 341.38 L1566.61 313.67 L1566.74 302.48 L1566.87 327.52 L1567 319.42 L1567.13 307.3 L1567.27 316.34 L1567.4 316.34 L1567.53 327.52 L1567.66 311.32 L1567.79 323.06 L1567.92 307.3 L1568.05 309.21 L1568.19 305.57 L1568.32 313.67 L1568.45 313.67 L1568.58 313.67 L1568.71 333.28 L1568.84 327.52 L1568.97 316.34 L1569.1 319.42 L1569.24 333.28 L1569.37 313.67 L1569.5 319.42 L1569.63 313.67 L1569.76 333.28 L1569.89 316.34 L1570.02 309.21 L1570.15 316.34 L1570.29 316.34 L1570.42 333.28 L1570.55 309.21 L1570.68 302.48 L1570.81 327.52 L1570.94 311.32 L1571.07 311.32 L1571.21 319.42 L1571.34 297.46 L1571.47 313.67 L1571.6 307.3 L1571.73 313.67 L1571.86 319.42 L1571.99 309.21 L1572.12 307.3 L1572.26 316.34 L1572.39 323.06 L1572.52 316.34 L1572.65 311.32 L1572.78 307.3 L1572.91 319.42 L1573.04 316.34 L1573.17 313.67 L1573.31 333.28 L1573.44 311.32 L1573.57 301.1 L1573.7 311.32 L1573.83 319.42 L1573.96 311.32 L1574.09 313.67 L1574.22 319.42 L1574.36 311.32 L1574.49 313.67 L1574.62 316.34 L1574.75 313.67 L1574.88 316.34 L1575.01 313.67 L1575.14 313.67 L1575.28 311.32 L1575.41 341.38 L1575.54 333.28 L1575.67 319.42 L1575.8 309.21 L1575.93 311.32 L1576.06 313.67 L1576.19 313.67 L1576.33 309.21 L1576.46 307.3 L1576.59 303.97 L1576.72 327.52 L1576.85 303.97 L1576.98 309.21 L1577.11 319.42 L1577.24 307.3 L1577.38 307.3 L1577.51 316.34 L1577.64 311.32 L1577.77 309.21 L1577.9 307.3 L1578.03 316.34 L1578.16 319.42 L1578.3 313.67 L1578.43 309.21 L1578.56 311.32 L1578.69 323.06 L1578.82 305.57 L1578.95 319.42 L1579.08 319.42 L1579.21 307.3 L1579.35 319.42 L1579.48 327.52 L1579.61 341.38 L1579.74 311.32 L1579.87 319.42 L1580 303.97 L1580.13 313.67 L1580.26 319.42 L1580.4 323.06 L1580.53 307.3 L1580.66 311.32 L1580.79 319.42 L1580.92 323.06 L1581.05 316.34 L1581.18 305.57 L1581.32 311.32 L1581.45 311.32 L1581.58 319.42 L1581.71 316.34 L1581.84 307.3 L1581.97 333.28 L1582.1 313.67 L1582.23 316.34 L1582.37 327.52 L1582.5 313.67 L1582.63 319.42 L1582.76 307.3 L1582.89 309.21 L1583.02 316.34 L1583.15 327.52 L1583.28 309.21 L1583.42 311.32 L1583.55 319.42 L1583.68 305.57 L1583.81 319.42 L1583.94 313.67 L1584.07 307.3 L1584.2 327.52 L1584.34 316.34 L1584.47 307.3 L1584.6 313.67 L1584.73 319.42 L1584.86 311.32 L1584.99 305.57 L1585.12 333.28 L1585.25 311.32 L1585.39 316.34 L1585.52 313.67 L1585.65 313.67 L1585.78 309.21 L1585.91 309.21 L1586.04 311.32 L1586.17 302.48 L1586.3 307.3 L1586.44 327.52 L1586.57 313.67 L1586.7 303.97 L1586.83 311.32 L1586.96 309.21 L1587.09 311.32 L1587.22 319.42 L1587.36 316.34 L1587.49 309.21 L1587.62 316.34 L1587.75 313.67 L1587.88 316.34 L1588.01 319.42 L1588.14 319.42 L1588.27 319.42 L1588.41 309.21 L1588.54 305.57 L1588.67 327.52 L1588.8 313.67 L1588.93 323.06 L1589.06 319.42 L1589.19 303.97 L1589.32 307.3 L1589.46 311.32 L1589.59 307.3 L1589.72 327.52 L1589.85 311.32 L1589.98 323.06 L1590.11 327.52 L1590.24 309.21 L1590.37 316.34 L1590.51 311.32 L1590.64 316.34 L1590.77 305.57 L1590.9 327.52 L1591.03 316.34 L1591.16 316.34 L1591.29 319.42 L1591.43 355.23 L1591.56 313.67 L1591.69 319.42 L1591.82 307.3 L1591.95 309.21 L1592.08 341.38 L1592.21 313.67 L1592.34 319.42 L1592.48 323.06 L1592.61 327.52 L1592.74 307.3 L1592.87 305.57 L1593 305.57 L1593.13 311.32 L1593.26 333.28 L1593.39 316.34 L1593.53 316.34 L1593.66 309.21 L1593.79 327.52 L1593.92 316.34 L1594.05 319.42 L1594.18 319.42 L1594.31 305.57 L1594.45 313.67 L1594.58 307.3 L1594.71 307.3 L1594.84 307.3 L1594.97 319.42 L1595.1 327.52 L1595.23 305.57 L1595.36 319.42 L1595.5 305.57 L1595.63 319.42 L1595.76 316.34 L1595.89 313.67 L1596.02 327.52 L1596.15 323.06 L1596.28 319.42 L1596.41 311.32 L1596.55 316.34 L1596.68 319.42 L1596.81 316.34 L1596.94 313.67 L1597.07 313.67 L1597.2 316.34 L1597.33 316.34 L1597.47 307.3 L1597.6 307.3 L1597.73 327.52 L1597.86 305.57 L1597.99 319.42 L1598.12 323.06 L1598.25 313.67 L1598.38 323.06 L1598.52 316.34 L1598.65 311.32 L1598.78 313.67 L1598.91 319.42 L1599.04 313.67 L1599.17 319.42 L1599.3 327.52 L1599.43 323.06 L1599.57 316.34 L1599.7 316.34 L1599.83 316.34 L1599.96 319.42 L1600.09 305.57 L1600.22 313.67 L1600.35 303.97 L1600.49 311.32 L1600.62 323.06 L1600.75 307.3 L1600.88 319.42 L1601.01 309.21 L1601.14 313.67 L1601.27 316.34 L1601.4 311.32 L1601.54 316.34 L1601.67 313.67 L1601.8 307.3 L1601.93 311.32 L1602.06 327.52 L1602.19 313.67 L1602.32 323.06 L1602.45 311.32 L1602.59 316.34 L1602.72 333.28 L1602.85 316.34 L1602.98 307.3 L1603.11 311.32 L1603.24 307.3 L1603.37 316.34 L1603.5 319.42 L1603.64 319.42 L1603.77 307.3 L1603.9 327.52 L1604.03 316.34 L1604.16 307.3 L1604.29 333.28 L1604.42 323.06 L1604.56 311.32 L1604.69 303.97 L1604.82 313.67 L1604.95 307.3 L1605.08 311.32 L1605.21 323.06 L1605.34 305.57 L1605.47 319.42 L1605.61 311.32 L1605.74 307.3 L1605.87 303.97 L1606 313.67 L1606.13 309.21 L1606.26 323.06 L1606.39 319.42 L1606.52 323.06 L1606.66 313.67 L1606.79 323.06 L1606.92 311.32 L1607.05 323.06 L1607.18 319.42 L1607.31 305.57 L1607.44 316.34 L1607.58 327.52 L1607.71 313.67 L1607.84 313.67 L1607.97 309.21 L1608.1 309.21 L1608.23 301.1 L1608.36 316.34 L1608.49 307.3 L1608.63 311.32 L1608.76 305.57 L1608.89 323.06 L1609.02 333.28 L1609.15 313.67 L1609.28 327.52 L1609.41 316.34 L1609.54 309.21 L1609.68 327.52 L1609.81 311.32 L1609.94 302.48 L1610.07 309.21 L1610.2 319.42 L1610.33 303.97 L1610.46 333.28 L1610.6 319.42 L1610.73 311.32 L1610.86 313.67 L1610.99 313.67 L1611.12 311.32 L1611.25 309.21 L1611.38 316.34 L1611.51 311.32 L1611.65 311.32 L1611.78 311.32 L1611.91 316.34 L1612.04 323.06 L1612.17 323.06 L1612.3 316.34 L1612.43 323.06 L1612.56 307.3 L1612.7 341.38 L1612.83 309.21 L1612.96 316.34 L1613.09 303.97 L1613.22 309.21 L1613.35 307.3 L1613.48 309.21 L1613.62 316.34 L1613.75 319.42 L1613.88 323.06 L1614.01 311.32 L1614.14 327.52 L1614.27 309.21 L1614.4 309.21 L1614.53 316.34 L1614.67 311.32 L1614.8 301.1 L1614.93 323.06 L1615.06 316.34 L1615.19 305.57 L1615.32 327.52 L1615.45 303.97 L1615.58 316.34 L1615.72 316.34 L1615.85 323.06 L1615.98 303.97 L1616.11 316.34 L1616.24 311.32 L1616.37 319.42 L1616.5 307.3 L1616.63 313.67 L1616.77 305.57 L1616.9 323.06 L1617.03 302.48 L1617.16 316.34 L1617.29 309.21 L1617.42 313.67 L1617.55 327.52 L1617.69 305.57 L1617.82 309.21 L1617.95 307.3 L1618.08 327.52 L1618.21 319.42 L1618.34 333.28 L1618.47 309.21 L1618.6 323.06 L1618.74 355.23 L1618.87 316.34 L1619 319.42 L1619.13 305.57 L1619.26 327.52 L1619.39 311.32 L1619.52 309.21 L1619.65 302.48 L1619.79 323.06 L1619.92 319.42 L1620.05 311.32 L1620.18 309.21 L1620.31 307.3 L1620.44 316.34 L1620.57 327.52 L1620.71 319.42 L1620.84 323.06 L1620.97 316.34 L1621.1 323.06 L1621.23 311.32 L1621.36 341.38 L1621.49 309.21 L1621.62 309.21 L1621.76 309.21 L1621.89 313.67 L1622.02 309.21 L1622.15 323.06 L1622.28 313.67 L1622.41 327.52 L1622.54 319.42 L1622.67 316.34 L1622.81 313.67 L1622.94 327.52 L1623.07 309.21 L1623.2 313.67 L1623.33 323.06 L1623.46 316.34 L1623.59 327.52 L1623.73 323.06 L1623.86 316.34 L1623.99 307.3 L1624.12 323.06 L1624.25 305.57 L1624.38 323.06 L1624.51 319.42 L1624.64 319.42 L1624.78 327.52 L1624.91 311.32 L1625.04 323.06 L1625.17 311.32 L1625.3 327.52 L1625.43 307.3 L1625.56 319.42 L1625.69 311.32 L1625.83 333.28 L1625.96 311.32 L1626.09 319.42 L1626.22 302.48 L1626.35 323.06 L1626.48 313.67 L1626.61 309.21 L1626.74 307.3 L1626.88 319.42 L1627.01 307.3 L1627.14 327.52 L1627.27 319.42 L1627.4 323.06 L1627.53 319.42 L1627.66 319.42 L1627.8 319.42 L1627.93 323.06 L1628.06 313.67 L1628.19 307.3 L1628.32 316.34 L1628.45 309.21 L1628.58 303.97 L1628.71 333.28 L1628.85 319.42 L1628.98 311.32 L1629.11 309.21 L1629.24 309.21 L1629.37 327.52 L1629.5 313.67 L1629.63 333.28 L1629.76 323.06 L1629.9 323.06 L1630.03 323.06 L1630.16 319.42 L1630.29 311.32 L1630.42 309.21 L1630.55 305.57 L1630.68 327.52 L1630.82 313.67 L1630.95 323.06 L1631.08 316.34 L1631.21 309.21 L1631.34 311.32 L1631.47 302.48 L1631.6 323.06 L1631.73 311.32 L1631.87 311.32 L1632 313.67 L1632.13 307.3 L1632.26 313.67 L1632.39 309.21 L1632.52 316.34 L1632.65 341.38 L1632.78 333.28 L1632.92 305.57 L1633.05 316.34 L1633.18 319.42 L1633.31 319.42 L1633.44 327.52 L1633.57 311.32 L1633.7 327.52 L1633.84 323.06 L1633.97 313.67 L1634.1 327.52 L1634.23 311.32 L1634.36 307.3 L1634.49 309.21 L1634.62 327.52 L1634.75 309.21 L1634.89 311.32 L1635.02 307.3 L1635.15 311.32 L1635.28 313.67 L1635.41 316.34 L1635.54 316.34 L1635.67 311.32 L1635.8 316.34 L1635.94 305.57 L1636.07 307.3 L1636.2 309.21 L1636.33 305.57 L1636.46 313.67 L1636.59 319.42 L1636.72 333.28 L1636.86 316.34 L1636.99 319.42 L1637.12 307.3 L1637.25 311.32 L1637.38 311.32 L1637.51 311.32 L1637.64 327.52 L1637.77 307.3 L1637.91 309.21 L1638.04 311.32 L1638.17 307.3 L1638.3 323.06 L1638.43 323.06 L1638.56 316.34 L1638.69 307.3 L1638.82 307.3 L1638.96 311.32 L1639.09 316.34 L1639.22 327.52 L1639.35 327.52 L1639.48 309.21 L1639.61 311.32 L1639.74 301.1 L1639.88 327.52 L1640.01 327.52 L1640.14 307.3 L1640.27 303.97 L1640.4 319.42 L1640.53 311.32 L1640.66 333.28 L1640.79 309.21 L1640.93 303.97 L1641.06 311.32 L1641.19 305.57 L1641.32 327.52 L1641.45 355.23 L1641.58 311.32 L1641.71 319.42 L1641.84 309.21 L1641.98 319.42 L1642.11 311.32 L1642.24 313.67 L1642.37 307.3 L1642.5 307.3 L1642.63 303.97 L1642.76 333.28 L1642.89 307.3 L1643.03 333.28 L1643.16 319.42 L1643.29 311.32 L1643.42 311.32 L1643.55 323.06 L1643.68 313.67 L1643.81 313.67 L1643.95 319.42 L1644.08 311.32 L1644.21 319.42 L1644.34 323.06 L1644.47 307.3 L1644.6 323.06 L1644.73 319.42 L1644.86 323.06 L1645 313.67 L1645.13 309.21 L1645.26 333.28 L1645.39 313.67 L1645.52 316.34 L1645.65 302.48 L1645.78 316.34 L1645.91 319.42 L1646.05 316.34 L1646.18 319.42 L1646.31 341.38 L1646.44 313.67 L1646.57 305.57 L1646.7 323.06 L1646.83 319.42 L1646.97 313.67 L1647.1 316.34 L1647.23 316.34 L1647.36 319.42 L1647.49 323.06 L1647.62 316.34 L1647.75 316.34 L1647.88 311.32 L1648.02 319.42 L1648.15 311.32 L1648.28 313.67 L1648.41 307.3 L1648.54 309.21 L1648.67 309.21 L1648.8 302.48 L1648.93 309.21 L1649.07 313.67 L1649.2 303.97 L1649.33 316.34 L1649.46 313.67 L1649.59 319.42 L1649.72 316.34 L1649.85 311.32 L1649.99 316.34 L1650.12 323.06 L1650.25 319.42 L1650.38 307.3 L1650.51 311.32 L1650.64 309.21 L1650.77 319.42 L1650.9 311.32 L1651.04 302.48 L1651.17 307.3 L1651.3 309.21 L1651.43 311.32 L1651.56 311.32 L1651.69 307.3 L1651.82 319.42 L1651.95 319.42 L1652.09 319.42 L1652.22 313.67 L1652.35 311.32 L1652.48 316.34 L1652.61 303.97 L1652.74 309.21 L1652.87 316.34 L1653.01 319.42 L1653.14 309.21 L1653.27 316.34 L1653.4 313.67 L1653.53 333.28 L1653.66 327.52 L1653.79 319.42 L1653.92 327.52 L1654.06 311.32 L1654.19 313.67 L1654.32 313.67 L1654.45 316.34 L1654.58 319.42 L1654.71 327.52 L1654.84 307.3 L1654.97 305.57 L1655.11 311.32 L1655.24 313.67 L1655.37 333.28 L1655.5 303.97 L1655.63 307.3 L1655.76 323.06 L1655.89 311.32 L1656.02 309.21 L1656.16 327.52 L1656.29 311.32 L1656.42 302.48 L1656.55 319.42 L1656.68 305.57 L1656.81 319.42 L1656.94 319.42 L1657.08 313.67 L1657.21 309.21 L1657.34 292.4 L1657.47 313.67 L1657.6 319.42 L1657.73 305.57 L1657.86 316.34 L1657.99 316.34 L1658.13 341.38 L1658.26 309.21 L1658.39 313.67 L1658.52 313.67 L1658.65 313.67 L1658.78 313.67 L1658.91 303.97 L1659.04 311.32 L1659.18 319.42 L1659.31 313.67 L1659.44 313.67 L1659.57 323.06 L1659.7 313.67 L1659.83 323.06 L1659.96 313.67 L1660.1 309.21 L1660.23 327.52 L1660.36 341.38 L1660.49 316.34 L1660.62 323.06 L1660.75 313.67 L1660.88 316.34 L1661.01 313.67 L1661.15 316.34 L1661.28 319.42 L1661.41 309.21 L1661.54 319.42 L1661.67 313.67 L1661.8 316.34 L1661.93 313.67 L1662.06 319.42 L1662.2 311.32 L1662.33 307.3 L1662.46 327.52 L1662.59 302.48 L1662.72 316.34 L1662.85 327.52 L1662.98 319.42 L1663.12 309.21 L1663.25 323.06 L1663.38 316.34 L1663.51 311.32 L1663.64 309.21 L1663.77 319.42 L1663.9 313.67 L1664.03 305.57 L1664.17 341.38 L1664.3 323.06 L1664.43 319.42 L1664.56 323.06 L1664.69 327.52 L1664.82 319.42 L1664.95 323.06 L1665.08 305.57 L1665.22 307.3 L1665.35 309.21 L1665.48 313.67 L1665.61 323.06 L1665.74 309.21 L1665.87 319.42 L1666 333.28 L1666.13 327.52 L1666.27 323.06 L1666.4 309.21 L1666.53 316.34 L1666.66 327.52 L1666.79 313.67 L1666.92 309.21 L1667.05 299.81 L1667.19 309.21 L1667.32 309.21 L1667.45 319.42 L1667.58 307.3 L1667.71 307.3 L1667.84 302.48 L1667.97 313.67 L1668.1 319.42 L1668.24 319.42 L1668.37 323.06 L1668.5 309.21 L1668.63 316.34 L1668.76 316.34 L1668.89 309.21 L1669.02 302.48 L1669.15 319.42 L1669.29 323.06 L1669.42 319.42 L1669.55 319.42 L1669.68 313.67 L1669.81 305.57 L1669.94 316.34 L1670.07 327.52 L1670.21 313.67 L1670.34 309.21 L1670.47 316.34 L1670.6 309.21 L1670.73 305.57 L1670.86 303.97 L1670.99 311.32 L1671.12 327.52 L1671.26 341.38 L1671.39 309.21 L1671.52 327.52 L1671.65 311.32 L1671.78 311.32 L1671.91 302.48 L1672.04 309.21 L1672.17 309.21 L1672.31 316.34 L1672.44 305.57 L1672.57 313.67 L1672.7 316.34" fill="none" stroke="#000" stroke-width="0.55" stroke-linejoin="bevel"/>
<text x="1298.2" y="57.8" font-size="22.8">MgO(002)</text>
<text x="1437.5" y="162.2" font-size="22.8" fill="#ff0000" class="r">A1-FeRh(200)</text>
<path d="M1345.5 63.6L1380.53 98.71" stroke="#000" stroke-width="1"/>
<path d="M1388.3 106.5L1378.69 100.55L1382.37 96.88Z" fill="#000"/>
<path d="M1482.6 168.1L1450.76 199.3" stroke="#000" stroke-width="1"/>
<path d="M1442.9 207L1448.94 197.44L1452.58 201.16Z" fill="#000"/>
</svg>
</body></html>
